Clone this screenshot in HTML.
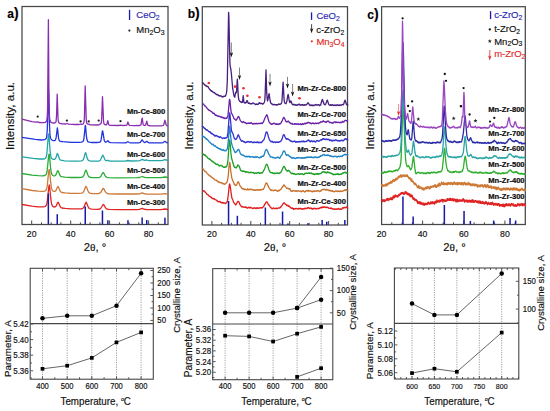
<!DOCTYPE html>
<html><head><meta charset="utf-8"><style>
html,body{margin:0;padding:0;background:#fff;}
body{width:550px;height:411px;overflow:hidden;}
svg{display:block;font-family:"Liberation Sans", sans-serif;}
</style></head><body>
<svg width="550" height="411" viewBox="0 0 550 411">
<rect width="550" height="411" fill="#fff"/>
<rect x="22" y="6.5" width="146" height="218.0" fill="none" stroke="#474747" stroke-width="1.25"/>
<line x1="31.7" y1="224.5" x2="31.7" y2="220.5" stroke="#474747" stroke-width="1" />
<text x="0" y="0" font-size="8.7" text-anchor="middle" fill="#111" stroke="#111" stroke-width="0.16" transform="translate(31.7 236.7) scale(1 1.1)">20</text>
<line x1="41.5" y1="224.5" x2="41.5" y2="222.3" stroke="#474747" stroke-width="1" />
<line x1="51.2" y1="224.5" x2="51.2" y2="222.3" stroke="#474747" stroke-width="1" />
<line x1="60.9" y1="224.5" x2="60.9" y2="222.3" stroke="#474747" stroke-width="1" />
<line x1="70.7" y1="224.5" x2="70.7" y2="220.5" stroke="#474747" stroke-width="1" />
<text x="0" y="0" font-size="8.7" text-anchor="middle" fill="#111" stroke="#111" stroke-width="0.16" transform="translate(70.7 236.7) scale(1 1.1)">40</text>
<line x1="80.4" y1="224.5" x2="80.4" y2="222.3" stroke="#474747" stroke-width="1" />
<line x1="90.1" y1="224.5" x2="90.1" y2="222.3" stroke="#474747" stroke-width="1" />
<line x1="99.9" y1="224.5" x2="99.9" y2="222.3" stroke="#474747" stroke-width="1" />
<line x1="109.6" y1="224.5" x2="109.6" y2="220.5" stroke="#474747" stroke-width="1" />
<text x="0" y="0" font-size="8.7" text-anchor="middle" fill="#111" stroke="#111" stroke-width="0.16" transform="translate(109.6 236.7) scale(1 1.1)">60</text>
<line x1="119.4" y1="224.5" x2="119.4" y2="222.3" stroke="#474747" stroke-width="1" />
<line x1="129.1" y1="224.5" x2="129.1" y2="222.3" stroke="#474747" stroke-width="1" />
<line x1="138.8" y1="224.5" x2="138.8" y2="222.3" stroke="#474747" stroke-width="1" />
<line x1="148.6" y1="224.5" x2="148.6" y2="220.5" stroke="#474747" stroke-width="1" />
<text x="0" y="0" font-size="8.7" text-anchor="middle" fill="#111" stroke="#111" stroke-width="0.16" transform="translate(148.6 236.7) scale(1 1.1)">80</text>
<line x1="158.3" y1="224.5" x2="158.3" y2="222.3" stroke="#474747" stroke-width="1" />
<text x="7.2" y="17.9" font-size="12" text-anchor="start" font-weight="bold" fill="#000"  stroke="#000" stroke-width="0.16">a<tspan font-size="14">)</tspan></text>
<path d="M22 204.5 31.9 206.1 37.9 206.8 43 206.9 44.6 206.6 45.6 206.2 46.5 204.9 47.2 202 48.8 187 49.3 184.8 49.6 186.4 50.8 198.7 51.5 203.5 51.9 204.9 52.5 206 53.1 206.6 54 207 55 206.9 55.8 206.4 56.5 205.3 57.6 202.7 58.1 202.3 58.5 202.7 60.3 206.8 61 207.6 62 208 65.1 208.4 71 208.8 78 208.9 81.6 208.8 82.8 208.4 83.7 207.5 84.4 206.1 85.6 203 86.1 202.3 86.6 202.9 88 206.5 88.9 208.1 90.1 208.8 92.2 209.2 97.3 209.3 99.8 209 101 208 102.8 205 103.4 204.5 103.9 204.9 105.3 207.5 106.2 208.6 107.3 209.2 108.9 209.4 117.4 209.6 137.2 209.6 139.4 209.3 142.2 208.3 144.7 209.3 146.6 209.5 161.1 209.6 164.9 209 168 209.5" fill="none" stroke="#e02424" stroke-width="1.3" stroke-linejoin="round"/>
<path d="M22 188.7 32.2 190.5 38.4 191.2 43.1 191.3 44.6 191.1 45.5 190.7 46.5 189.3 47.2 186.4 48.7 171.3 49.2 169.3 49.6 171 50.7 182.7 51.4 187.7 51.8 189.2 52.3 190.4 52.9 191 53.9 191.4 54.9 191.4 55.7 190.8 56.3 189.8 57.5 187 58 186.5 58.4 187.1 60.2 191.2 60.9 192 61.9 192.5 65 192.9 70.9 193.3 77.8 193.4 81.4 193.2 82.7 192.8 83.5 191.9 84.2 190.5 85.5 187 86 186.4 86.5 186.9 87.9 190.8 88.7 192.3 89.8 193.1 91.8 193.5 97.2 193.7 98.7 193.5 99.7 193.2 101 192.1 102.7 188.9 103.2 188.4 103.9 188.9 105.3 191.7 106.1 192.8 107.2 193.5 108.8 193.8 117.2 194 137.2 194 139.4 193.8 142.2 192.8 144.7 193.8 146.6 194 161.1 194.1 164.9 193.6 168 194.1" fill="none" stroke="#cd7a3a" stroke-width="1.3" stroke-linejoin="round"/>
<path d="M22 173.5 32 175.1 38.3 175.7 43.1 175.8 44.6 175.5 45.5 175.1 46.1 174.5 46.5 173.7 47.1 171.2 48.6 156.1 49 154.1 49.3 154.5 49.5 156.1 50.6 167.9 51.3 172.5 51.7 173.9 52.2 174.9 52.8 175.5 53.8 175.8 54.9 175.8 55.6 175.2 56.3 173.9 57.4 171.1 57.9 170.6 58.4 171.3 60 175.4 60.7 176.3 61.6 176.7 64.8 177.1 70.9 177.5 77.9 177.5 81.5 177.3 82.7 176.9 83.5 176 84.2 174.4 85.4 170.9 85.9 170.2 86.4 170.8 87.7 174.8 88.6 176.4 89.7 177.2 91.6 177.6 97.1 177.7 98.7 177.6 99.7 177.3 100.9 176.3 102.6 173 103.2 172.5 103.7 173 105 175.6 105.9 176.8 106.9 177.4 108.6 177.7 116.9 177.8 137.2 177.7 139.4 177.5 142.2 176.5 144.7 177.4 146.6 177.6 161.1 177.6 164.9 177 168 177.5" fill="none" stroke="#2aac36" stroke-width="1.3" stroke-linejoin="round"/>
<path d="M22 156.8 33.1 158.4 39.6 159 43.4 159 44.6 158.8 45.4 158.3 46.3 156.9 46.9 153.7 48.2 136.8 48.6 134 49 136 50 150.1 50.7 155.4 51 157.1 51.5 158.2 52.2 158.9 53.3 159.3 54.6 159.3 55.4 158.7 56 157.5 57.1 154 57.5 153.5 57.9 154.2 59.4 158.8 60.1 159.8 61 160.2 64.5 160.8 71 161.2 77.9 161.2 81.5 160.9 82.6 160.4 83.4 159.4 84 157.7 85.1 153.3 85.6 152.6 85.9 153.2 87.1 157.8 87.9 159.8 88.9 160.7 90.8 161.1 96.7 161.2 98.6 161.1 99.6 160.8 100.2 160.3 100.7 159.6 102.3 155.8 102.8 155.2 103.3 155.8 104.7 159.3 105.5 160.3 106.3 160.6 107.9 160.3 109.5 161 110.5 161.2 124.3 161.1 125.9 161 127.9 160.5 130.9 161 137.7 160.9 139.7 160.6 142.2 159.3 144.5 160.3 146.8 160 148.6 160.6 150 160.7 161.2 160.6 162.7 160.4 164.9 159.7 168 160.5" fill="none" stroke="#22a6a6" stroke-width="1.3" stroke-linejoin="round"/>
<path d="M22 137.4 35.3 139.3 41.5 140 43.3 139.9 44.6 139.7 45.5 139.2 46.1 138.4 46.5 137.4 46.8 135.7 47.3 129.1 48.5 88.9 49.4 122.8 49.9 133.5 50.2 136.5 50.6 138.2 51.3 139.5 52.4 140.3 53.5 140.6 54.6 140.6 55.2 140.3 55.6 139.6 56.2 137.2 57.3 128 57.6 129.4 58.6 138.6 59.1 140.2 59.8 141.1 61 141.5 63 141.7 71.1 142.3 79.2 142.3 81.2 142.1 82.4 141.8 83 141.4 83.4 140.9 83.9 138.8 85.3 125.4 85.6 126.9 86.4 136.1 87 139.8 87.7 141.4 88.3 141.9 89.2 142.2 92.1 142.5 96.8 142.5 99 142.3 100.2 141.9 100.7 141.1 101.2 139.4 102.3 131.6 102.6 130.8 102.9 131.9 104.2 140.2 104.8 141.6 105.6 142.1 106.6 141.9 107.8 140.6 109.3 142.3 110.9 142.7 125.3 142.8 126.4 142.5 127.9 141.7 129.3 142.5 130.3 142.8 138.5 142.8 139.6 142.6 140.3 142.3 141.8 140.1 142.2 139.9 143.6 142 144.6 142.5 145.4 142.3 146.8 141.3 148.2 142.4 149.3 142.8 161.8 142.9 163.2 142.6 164.9 141.3 166.6 142.6 168 142.9" fill="none" stroke="#2233e0" stroke-width="1.3" stroke-linejoin="round"/>
<path d="M22 119.1 31.8 121.6 36.3 122.2 37.8 121.8 39 122.5 41.4 122.7 43.7 122.7 45.2 122.4 46.1 121.6 46.8 120.2 47.3 116.3 47.6 106.9 48.4 19.6 48.9 91.6 49.3 111.9 49.5 116.9 49.8 119.4 50.3 121.1 51 122.3 52.6 123 54.6 123 55.6 122.4 56.1 121.2 56.6 114.7 57.2 94.2 58 118.2 58.3 121.3 58.9 122.8 59.9 123.4 62 123.8 65.8 124 67.2 123.5 68.7 124.2 75.5 124.5 79.2 124.5 80.6 124 81.9 124.3 82.7 124.1 83.3 123.7 83.7 123.1 84 122 84.4 117.7 85.2 85.9 86.2 119.1 86.6 122.7 87 123.5 87.7 124.1 88.8 124.1 89.8 124.7 90.8 124.8 97.5 125 99.1 124.8 100 124.1 100.7 123.9 101 123.5 101.4 122 101.7 118.2 102.5 96.7 103.5 120.6 103.9 123.5 104.3 124.2 105 124.7 106.2 124.9 106.8 124.5 107.8 120.7 108.8 124.6 109.2 125 110 125.3 119 125.5 119.7 125.4 120.8 125.1 122.2 125.5 126.1 125.4 126.7 125.2 127 124.8 127.9 122 128.9 124.8 129.6 125.4 134.3 125.7 139.8 125.5 140.6 125.2 141.1 124.4 141.9 118.8 142.2 118.2 143.1 124.2 143.4 124.9 144 125.3 145 125.4 145.6 125.1 146.8 121.2 147.7 124.8 148 125.3 148.5 125.5 150.4 125.8 155.9 125.9 160.9 125.8 162.8 125.7 163.4 125.3 163.8 124.6 164.9 120.2 166.2 125 166.8 125.6 168 125.9" fill="none" stroke="#8a2db0" stroke-width="1.3" stroke-linejoin="round"/>
<rect x="47.6" y="193.5" width="1.5" height="31" fill="#1a1aa8"/>
<rect x="56.5" y="214.2" width="1.5" height="10.3" fill="#1a1aa8"/>
<rect x="84.5" y="206.5" width="1.5" height="18" fill="#1a1aa8"/>
<rect x="101.7" y="210.5" width="1.5" height="14" fill="#1a1aa8"/>
<rect x="107.1" y="220.2" width="1.5" height="4.3" fill="#1a1aa8"/>
<rect x="127.2" y="220.2" width="1.5" height="4.3" fill="#1a1aa8"/>
<rect x="141.4" y="217.5" width="1.5" height="7" fill="#1a1aa8"/>
<rect x="146" y="220" width="1.5" height="4.5" fill="#1a1aa8"/>
<rect x="164.2" y="217.7" width="1.5" height="6.8" fill="#1a1aa8"/>
<circle cx="37.7" cy="116.6" r="1.15" fill="#222"/>
<circle cx="66.9" cy="120.6" r="1.15" fill="#222"/>
<circle cx="80.6" cy="121.4" r="1.15" fill="#222"/>
<circle cx="88.7" cy="121.4" r="1.15" fill="#222"/>
<circle cx="98.7" cy="120.6" r="1.15" fill="#222"/>
<circle cx="120.5" cy="121.2" r="1.15" fill="#222"/>
<text x="165.3" y="114" font-size="7.6" text-anchor="end" font-weight="bold" fill="#111" stroke="#111" stroke-width="0.22">Mn-Ce-800</text>
<text x="165.3" y="137.3" font-size="7.6" text-anchor="end" font-weight="bold" fill="#111" stroke="#111" stroke-width="0.22">Mn-Ce-700</text>
<text x="165.3" y="156.5" font-size="7.6" text-anchor="end" font-weight="bold" fill="#111" stroke="#111" stroke-width="0.22">Mn-Ce-600</text>
<text x="165.3" y="172.9" font-size="7.6" text-anchor="end" font-weight="bold" fill="#111" stroke="#111" stroke-width="0.22">Mn-Ce-500</text>
<text x="165.3" y="188.9" font-size="7.6" text-anchor="end" font-weight="bold" fill="#111" stroke="#111" stroke-width="0.22">Mn-Ce-400</text>
<text x="165.3" y="205" font-size="7.6" text-anchor="end" font-weight="bold" fill="#111" stroke="#111" stroke-width="0.22">Mn-Ce-300</text>
<rect x="128.9" y="9.8" width="1.3" height="10.2" fill="#1a1aa8"/>
<text x="0" y="0" font-size="9.5" text-anchor="start" fill="#2a2ab0" stroke="#2a2ab0" stroke-width="0.16" transform="translate(136.3 17.9) scale(1 0.95)">CeO<tspan font-size="6.8" dy="1.7">2</tspan></text>
<circle cx="129.4" cy="30.6" r="1.1" fill="#222"/>
<text x="0" y="0" font-size="9.5" text-anchor="start" fill="#111" stroke="#111" stroke-width="0.16" transform="translate(136.3 32.9) scale(1 0.95)">Mn<tspan font-size="6.8" dy="1.7">2</tspan><tspan dy="-1.7">O</tspan><tspan font-size="6.8" dy="1.7">3</tspan></text>
<rect x="202.3" y="6.7" width="145.2" height="218.3" fill="none" stroke="#474747" stroke-width="1.25"/>
<line x1="211.9" y1="225" x2="211.9" y2="221" stroke="#474747" stroke-width="1" />
<text x="0" y="0" font-size="8.7" text-anchor="middle" fill="#111" stroke="#111" stroke-width="0.16" transform="translate(211.9 237.2) scale(1 1.1)">20</text>
<line x1="221.6" y1="225" x2="221.6" y2="222.8" stroke="#474747" stroke-width="1" />
<line x1="231.4" y1="225" x2="231.4" y2="222.8" stroke="#474747" stroke-width="1" />
<line x1="241.1" y1="225" x2="241.1" y2="222.8" stroke="#474747" stroke-width="1" />
<line x1="250.8" y1="225" x2="250.8" y2="221" stroke="#474747" stroke-width="1" />
<text x="0" y="0" font-size="8.7" text-anchor="middle" fill="#111" stroke="#111" stroke-width="0.16" transform="translate(250.8 237.2) scale(1 1.1)">40</text>
<line x1="260.5" y1="225" x2="260.5" y2="222.8" stroke="#474747" stroke-width="1" />
<line x1="270.2" y1="225" x2="270.2" y2="222.8" stroke="#474747" stroke-width="1" />
<line x1="280" y1="225" x2="280" y2="222.8" stroke="#474747" stroke-width="1" />
<line x1="289.7" y1="225" x2="289.7" y2="221" stroke="#474747" stroke-width="1" />
<text x="0" y="0" font-size="8.7" text-anchor="middle" fill="#111" stroke="#111" stroke-width="0.16" transform="translate(289.7 237.2) scale(1 1.1)">60</text>
<line x1="299.4" y1="225" x2="299.4" y2="222.8" stroke="#474747" stroke-width="1" />
<line x1="309.1" y1="225" x2="309.1" y2="222.8" stroke="#474747" stroke-width="1" />
<line x1="318.8" y1="225" x2="318.8" y2="222.8" stroke="#474747" stroke-width="1" />
<line x1="328.6" y1="225" x2="328.6" y2="221" stroke="#474747" stroke-width="1" />
<text x="0" y="0" font-size="8.7" text-anchor="middle" fill="#111" stroke="#111" stroke-width="0.16" transform="translate(328.6 237.2) scale(1 1.1)">80</text>
<line x1="338.3" y1="225" x2="338.3" y2="222.8" stroke="#474747" stroke-width="1" />
<text x="187.7" y="18.2" font-size="12" text-anchor="start" font-weight="bold" fill="#000"  stroke="#000" stroke-width="0.16">b<tspan font-size="14">)</tspan></text>
<path d="M202.2 190.1 202.7 190.3 202.7 190.5 203.4 190.7 203.6 191.1 203.7 190.8 203.8 191 204 190.9 204.5 191.5 204.6 191.3 204.7 191.6 204.8 191.5 205 192 205.2 191.9 205.3 192.3 205.9 192.7 206.6 194 206.9 194.2 206.9 194 207 194.3 207.6 194.5 207.7 194.7 208 194.5 208 194.9 208.5 195.2 209.1 196.1 209.4 196.2 209.9 196.6 210 196.5 210.4 197 210.5 196.9 210.8 196.9 211 197.3 211.2 197.2 212 198.3 212.2 198.2 212.4 198.6 212.5 198.4 213.1 198.4 213.5 198.9 213.7 198.7 213.8 198.9 213.9 198.7 214 199 214.3 198.8 214.6 199.3 214.8 199.1 215.3 199.6 216 199.8 216.3 200.4 216.4 200.2 216.7 200.7 216.9 200.5 217.1 200.7 217.2 200.6 217.3 200.9 217.7 201.1 217.8 201.5 217.8 201.3 217.9 201.6 218.1 201.4 218.3 201.7 218.4 201.5 218.5 201.8 218.6 201.6 218.8 201.8 219.2 201.6 219.4 201.7 219.5 201.5 219.7 201.4 219.9 201.7 220 201.5 220.9 202.5 221.1 202.4 221.2 202.7 221.3 202.5 221.5 202.8 221.6 202.6 222.1 202.8 222.5 202.5 222.6 202.8 222.7 202.6 223 203 223.2 202.7 223.5 203 223.7 202.8 223.8 203.1 223.9 202.7 224 203 224.4 202.9 224.5 203.2 224.8 203.1 225 203.4 225.5 203.6 226.1 202.8 226.2 202.9 226.8 202.5 227.5 200.6 228.2 195.8 229.3 184.8 229.7 183.9 230.1 185.5 231.7 197.1 232.1 198.7 232.7 199.4 233.5 202.1 234.2 203.2 234.2 203.1 234.6 203.7 234.7 203.5 235.5 204.8 235.8 204.9 237.5 201.9 237.9 201.4 238 201.6 238 201.4 238.5 201.3 239.2 202.4 239.4 203.4 240.3 205.1 240.5 205.4 240.6 205.3 241.2 206.4 241.5 206.7 241.5 206.6 241.6 206.9 241.9 207 242 206.6 242.3 206.7 242.4 206.5 242.5 206.8 242.6 206.6 242.6 206.8 243.1 206.9 243.3 207.2 243.6 207 243.6 207.2 244.2 207.1 244.3 207.4 244.7 207 245.1 207.2 245.2 207 245.4 207 245.4 207.3 245.5 207 245.9 207.4 246 207.2 246.1 207.4 246.3 207.5 246.4 207.3 246.9 208 247.1 207.7 247.4 208.1 247.5 207.9 247.6 208.1 248.1 207.8 248.4 207.3 248.6 207.4 248.7 207.2 248.8 207.5 249 207.3 249.8 208.1 249.9 207.7 250.1 207.8 250.6 207.2 251.2 207.8 251.7 207.8 251.8 208.1 252.2 208.1 252.4 208.5 252.5 208.3 252.7 208.5 252.9 208.2 253.2 208.4 253.4 208.1 253.6 208.3 253.8 208 253.9 208.2 254 207.9 254.2 208 254.7 207.9 254.8 208.1 254.9 207.9 255.1 208.1 255.3 208 255.5 208.5 255.6 208.3 255.9 208.6 256 208.4 256.1 208.6 256.2 208.5 256.9 207.8 256.9 208.1 257.4 208 257.6 208.2 257.6 208 257.7 208.3 257.9 208.1 258 208.3 258.1 208.1 258.3 208.3 258.7 208.1 259.4 208.1 259.7 207.9 259.7 208 259.8 207.7 260.1 207.9 260.2 207.6 260.5 207.9 260.9 208 261 207.7 261.1 207.9 261.1 207.7 261.2 207.9 261.7 207.7 262.1 208 263.6 206.6 265 203.7 265.2 203.9 266 202.2 266.4 202 266.4 202.2 266.5 201.8 266.7 202.1 267 202 267.1 202.4 267.3 202.2 268.5 204.8 268.7 204.6 268.8 205 269.2 205.1 269.2 205.5 269.3 205.2 270.2 207 270.6 207.3 270.8 207.6 270.9 207.3 271 207.8 271.3 207.8 272.1 208.8 272.7 208.5 272.7 208.3 272.8 208.4 273 208.1 273.3 208 273.4 208.1 273.5 207.9 274.4 208.7 275.1 208.4 275.3 208.7 275.4 208.4 275.7 208.5 275.9 208.2 276.5 208.4 276.7 208.3 276.8 208.7 276.9 208.3 277.1 208.6 277.4 208.6 277.5 208.4 277.6 208.5 278.1 208.1 278.6 208.1 278.7 207.9 278.8 208 279 207.9 279.3 208.1 279.6 207.9 279.9 207.9 280 207.4 280.3 207.2 280.3 207.4 280.5 207 280.7 207.2 281.1 206.8 281.5 205.9 282.4 205 283.1 203.6 283.1 203.7 283.3 203.2 284 202.8 284.2 203.1 284.3 202.8 285.5 204.3 285.6 204.1 285.8 204.2 285.9 204.5 285.9 204.3 286.8 205.6 286.9 205.3 287.2 205.7 287.4 205.4 287.5 205.6 287.8 205.1 288 205.6 288.3 205.6 288.4 206.1 288.7 205.9 288.8 206.4 289.1 206 289.2 206.3 289.3 206.1 289.9 207.1 290.5 207.3 290.7 207.7 290.8 207.5 291.2 208.2 291.3 208.1 291.5 208.3 291.6 208.2 291.9 208.4 292.1 208.3 292.2 208.1 292.3 208.2 292.5 207.9 292.7 208.3 292.8 208 292.9 208.5 292.9 208.3 293.4 209 293.6 208.8 293.6 209.4 293.9 209 294 209.2 294.1 209.2 294.4 208.7 294.6 208.8 294.8 208.7 294.9 208.9 295.2 208.6 295.4 208.7 295.4 208.5 295.7 208.8 295.8 208.6 296.1 208.5 296.3 208.8 296.4 208.5 296.6 208.5 297.6 209 297.7 208.8 298 208.9 298.2 208.7 298.2 208.8 298.3 208.5 298.4 208.8 298.5 208.4 298.6 209 298.8 208.6 299 208.7 299.1 208.5 299.4 208.7 299.5 208.6 299.6 208.8 299.8 208.4 299.9 208.7 300 208.5 300.1 208.6 300.3 208.4 300.8 208.4 301.1 209 301.3 208.9 301.8 209.1 302 208.8 302.1 209.1 302.5 208.9 302.7 209.3 302.7 208.9 302.9 209.2 303.1 209.2 303.8 208.6 303.9 208.9 304.5 208.4 304.6 208.9 304.7 208.4 304.8 208.7 304.9 208.6 305 208.7 305.1 208.5 305.2 208.7 305.5 208.5 305.6 208.6 305.7 208.4 305.8 208.6 305.9 208.4 305.9 208.6 306.1 208.2 306.4 208.6 306.5 208.3 306.6 208.5 306.9 208.2 307.1 208.3 307.5 208 307.6 208.2 307.7 207.9 307.9 208 308.3 207.5 308.4 207.7 308.5 207.6 308.8 207.7 308.9 208 309 207.8 309.7 208.5 310.1 208.4 310.1 208.3 310.2 208.4 310.3 208.1 310.4 208.3 310.5 208.1 311 208.3 311.1 208 312 209.1 312.3 209 312.5 209.1 313 208.4 313.2 208.7 313.2 208.4 313.4 208.4 313.7 208.8 314.1 208.5 314.3 208.6 314.4 208.3 314.5 208.6 315 208.2 315.4 208.5 315.6 208.8 315.7 208.7 315.7 209 315.9 208.9 316 209 316.1 208.8 316.5 208.8 316.6 208.6 316.7 208.8 316.7 208.6 317.3 208.7 317.4 208.5 317.7 208.6 317.8 208.3 317.8 208.6 318 208.5 318.1 208.7 318.7 208.8 319.2 208.3 319.2 208.4 319.4 208.3 319.5 208.1 319.6 208.3 319.9 207.9 319.9 208.2 320 208 320.1 208.1 320.2 207.8 320.2 208 320.5 207.6 320.6 207.8 320.9 207.3 321.1 207.6 321.3 207.2 321.3 207.5 321.6 207.7 321.9 207.5 322 207.7 322 207.6 322.1 207.8 322.6 207 322.7 207.2 322.8 207 323 207.2 323.1 207 323.5 207.2 323.7 207 323.8 207.2 324.1 207 324.2 207.2 324.4 206.9 324.4 207.2 324.7 207 325 207.2 325.1 206.9 325.1 207.2 325.2 207.1 325.4 207.3 325.5 207.2 325.6 207.5 325.7 207.3 325.9 207.6 326.1 207.5 326.2 207.6 326.3 207.4 326.5 207.6 326.6 207.4 326.7 207.6 327 207.2 327.1 207.4 327.5 207.3 327.6 207.4 327.7 207.2 328.9 208.3 329.1 208.1 329.2 208.3 330 208.4 330.1 208.3 330.2 208.5 330.5 208.3 330.6 208.5 330.7 208.1 331 208.4 331.2 208.1 331.4 208.4 331.5 208.2 331.9 208.6 332 208.5 332.1 208.9 332.3 208.9 332.4 209.2 332.6 209.2 332.7 209 333.1 209.1 333.5 208.8 333.9 208.9 334 209.1 334.2 209 334.3 209.2 334.5 209.1 334.7 209.2 334.8 209.1 334.9 209.3 334.9 209.1 335.2 209.3 335.2 209.1 335.5 209.3 335.7 209 335.8 209.2 336.2 209.1 336.3 209.2 336.4 208.9 336.6 209 336.9 208.8 337.7 209.2 338.4 208.5 338.7 209 339.1 209.1 339.3 209 339.4 209.3 339.5 209 339.8 209.2 340.1 209 340.4 209.4 340.5 209 340.7 209.3 341.2 209.3 341.2 209.4 341.5 209.1 341.6 209.2 341.7 208.9 341.9 208.9 342.1 208.4 342.2 208.5 342.4 207.9 342.6 208.1 342.9 207.7 343.1 207.8 343.2 207.7 343.3 208.1 343.4 207.9 343.6 208.1 343.7 207.8 343.8 208.1 344 207.9 344 208 344.3 207.4 344.7 207.4 344.7 207.6 345.2 207.5 345.3 207.8 345.5 207.5 345.7 207.8 346.3 207.1 346.4 207.2 346.7 207 346.8 207.3 346.8 207 346.9 207.3 347.1 207.2 347.7 208.2 347.8 208.1 347.8 208.3 347.9 208.2 348 208.5" fill="none" stroke="#e02020" stroke-width="1.3" stroke-linejoin="round"/>
<path d="M202.2 168.4 202.4 168.1 202.5 168.4 202.6 168.2 202.7 168.6 203.1 168.8 203.5 169.6 204.1 170.2 204.8 171.5 205.7 171.5 205.9 172.1 206.2 171.9 206.5 172.6 207.1 173.3 207.3 173.8 208.7 174.7 208.7 175 209.4 175.7 210.5 176.2 210.7 176.6 210.8 176.5 210.9 176.7 211 176.5 211.2 177.1 211.8 177.2 212.9 178.3 213.2 178.4 213.2 178.6 213.4 178.4 213.8 178.8 213.9 178.6 214.8 180 215 180 215 179.9 215.4 180.2 215.8 180.1 216.7 180.6 216.8 180.4 216.9 180.8 217.1 180.7 217.2 180.9 217.3 181.2 217.4 181 217.7 181.6 217.8 181.3 217.9 181.6 218.1 181.5 218.3 182 218.4 181.7 218.6 182.2 218.8 182 219.1 182.2 219.2 182.1 219.3 182.5 219.4 182.3 219.5 182.5 219.6 182.4 220 182.7 220.3 182.5 220.6 182.7 220.8 182.6 221.3 183 221.8 182.7 222.7 183.8 222.8 183.5 222.9 183.8 223.1 183.4 223.2 183.8 223.5 183.8 223.7 183.6 223.9 183.8 224.1 183.6 224.4 184 224.6 184 224.7 184.3 224.8 184.1 224.9 184.3 225.3 184 226.1 182.8 226.6 182.9 227.4 181 228.2 176.3 229.2 164.9 229.6 162.3 229.8 162.5 230.2 164.9 230.7 170.5 231.7 177.4 232.3 179.6 233.5 182.2 234.2 184.3 234.7 184.7 234.8 184.5 234.9 184.9 235.2 184.8 235.3 185.2 235.9 185.6 236.6 185 237.8 182.1 238 182.2 238 181.9 238.3 182.1 238.4 181.9 239.1 183.1 239.7 185 240.5 186.7 240.9 186.9 241.1 187.3 241.2 187.1 242.1 188.7 242.2 188.4 242.7 188.8 243 188.7 243.3 189 243.6 188.8 243.9 189.3 244.3 189.3 244.3 189.5 244.8 189.3 244.9 189.5 245 189.3 245.1 189.5 245.6 189.2 245.7 189.6 245.7 189.3 245.8 189.5 246 189.4 246.3 189.7 246.5 189.6 247.1 189.8 247.4 189.3 247.5 189.4 247.6 189 247.8 189.2 247.8 189 247.9 189.4 248 189 248.2 189.6 248.8 189.9 248.9 189.6 249.1 189.5 249.2 189.7 249.3 189.4 249.8 189.6 250.3 189.3 250.6 189.6 250.8 189.2 251 189.4 251.2 189.2 251.6 189.6 251.9 189.4 252 189.7 252 189.6 252.3 189.8 252.7 189.7 253 190.1 253.9 189.6 254.1 190 254.2 189.9 254.7 190.4 255 190.4 255.1 190.1 255.2 190.3 255.6 190 255.8 190.3 255.9 189.9 256.1 190.1 256.2 189.9 256.3 190.1 256.5 189.8 257.1 190 257.3 189.7 257.3 189.9 257.4 189.7 257.8 189.9 257.9 189.6 258 190 258.1 189.8 258.3 190.1 258.4 189.8 258.8 190.1 259.4 190 259.4 190.3 259.6 190 259.7 190.2 260.1 189.9 260.3 190.1 260.4 189.6 260.5 189.8 260.7 189.6 260.8 189.9 260.8 189.6 260.9 189.9 261.1 189.7 261.6 189.8 261.8 189.5 262.2 189.3 262.5 189.4 262.5 189.6 262.6 189.4 262.7 189.7 263 189.1 263.2 189.4 263.3 189.1 263.4 189.3 264.4 187.2 265.6 183.9 266.1 183.1 266.4 183.3 266.4 183 266.8 183.1 269.2 188.1 269.2 188 269.7 188.8 270 189 270.4 189.9 270.9 190.3 270.9 190.2 271.1 190.5 271.4 190 271.5 190.3 271.6 190.1 271.8 190.4 271.9 190 272.3 190.4 273.1 190.4 273.4 190.7 273.5 190.5 273.7 190.8 274.8 190.1 275 190.3 275.3 190.1 275.4 190.3 275.6 190.2 275.8 190.3 276.3 190.1 277 191 277.2 190.9 277.5 191.5 277.5 191.2 277.8 191.4 278.3 190.5 278.5 190.6 278.6 190.4 278.9 190.7 279.2 190.5 279.4 190.6 279.6 190.4 279.7 190.5 279.8 190.1 280.3 189.8 280.3 189.4 280.8 189.3 281.3 188.9 282.2 187 282.3 187.2 282.7 186.6 282.8 186.8 282.8 186.4 283.3 186.1 283.4 185.6 283.8 184.9 284.3 185.1 284.9 186.3 284.9 186.2 285.2 186.6 285.6 186.8 286.6 188.1 286.6 187.8 286.9 188.3 287 188.1 287.2 188.5 287.3 188.3 287.3 188.4 287.5 188.2 287.7 188.4 288 188.3 288.2 188.6 288.4 188.5 288.6 188.8 288.7 188.6 288.9 188.8 289 189.1 289.1 188.7 289.1 189 289.3 188.9 289.5 189.2 289.7 188.8 289.8 189.2 290 188.9 290.8 190.9 291 190.8 291.5 191.3 292 191.2 292.4 191.4 293 190.7 293.3 190.8 293.3 190.6 293.4 190.8 293.5 190.6 293.6 190.8 293.9 190.6 294.3 191 294.8 190.8 295.2 191.1 295.4 190.8 295.8 191.3 296.1 191.3 296.1 191.4 296.2 191.2 296.4 191.4 296.7 191 296.8 191.1 296.9 190.9 297.1 191.1 297.4 190.9 297.5 191.1 297.8 190.7 298.2 190.8 298.4 190.6 298.9 191.2 299.4 191.1 299.7 191.3 299.9 191 300.1 191.2 300.5 191 301 191.2 301.2 191.6 301.3 191.3 301.4 191.9 302 191.2 302.1 191.4 302.3 190.9 302.6 190.9 302.7 190.7 302.8 190.9 303.1 190.8 303.3 190.9 303.4 190.8 303.8 191.3 303.9 191.1 304.5 192 304.8 191.7 304.9 191.9 305.2 191.5 305.3 191.7 305.7 191.1 306.1 191 306.2 190.6 306.2 190.9 306.6 190.6 306.8 190.8 306.9 190.7 307 190.9 307.1 190.7 307.2 191 307.3 190.8 307.5 191.1 307.6 190.7 307.6 191 307.7 190.8 307.8 190.9 308 190.5 308.2 190.7 308.5 190.4 308.7 190.6 308.8 190.5 309 191.2 309.5 190.9 309.6 191.2 309.7 191 309.9 191.1 310.1 190.9 310.4 191 310.5 190.9 311 191.3 311.2 191.2 311.6 191.6 311.7 191.4 312.1 191.5 312.2 191.7 312.4 191.5 312.5 191.7 312.7 191.2 312.9 191.4 313.2 190.9 313.2 191.2 313.8 191.4 313.9 191.7 313.9 191.4 314 191.5 314.2 191.2 314.6 191.3 314.8 190.8 314.9 191.1 315.2 190.9 315.3 191.2 315.5 191 316.2 191.4 316.4 190.9 316.6 191.2 317.2 190.9 317.4 190.6 317.4 190.8 317.5 190.6 317.8 190.8 318.1 190.5 318.1 190.8 318.5 190.6 318.5 191 318.9 191.2 319 191.1 319.3 191.6 319.5 191.3 319.7 191.5 320 191.2 320.2 191.3 320.6 190.8 320.7 191 321.1 190.5 321.3 190.7 322.1 189.5 322.3 189.5 322.4 189.7 322.5 189.6 322.7 189.7 322.8 189.6 322.9 189.7 323.2 189.5 323.4 189.6 324.3 189.2 324.4 189.5 324.5 189.3 324.7 189.6 324.7 189.5 325.1 189.6 325.2 189.9 325.3 189.7 325.4 190 325.4 189.7 325.6 189.9 325.8 189.7 326.1 190 326.5 189.5 326.5 189.7 326.8 189.5 326.9 189.8 327.1 189.6 327.4 190 327.6 189.9 327.7 190.1 328 189.9 328.2 190.1 328.2 189.9 328.3 190.2 328.4 190.1 328.6 190.1 328.6 190.6 328.9 190.4 328.9 190.6 329 190.3 329.2 190.7 329.3 190.5 329.4 190.6 329.5 190.4 330.1 190.8 330.3 190.5 330.4 190.8 330.7 190.7 330.8 191 330.9 190.9 331.1 191.1 331.4 191 331.4 191.2 331.7 190.9 332 191.1 332.4 190.9 332.5 191.3 332.6 190.9 332.8 191.2 333 191.1 333.2 191.5 333.5 191.4 333.8 191.7 333.9 191.5 334 191.7 334.3 191.5 334.6 191.7 335.4 190.9 335.8 191 336 190.9 336.6 191.3 337 191.1 337.3 191.3 337.3 191.5 337.4 191.3 337.6 191.4 337.7 191.2 337.8 191.5 338.4 191.2 338.7 191.2 338.7 191 338.9 191.4 339.1 191.2 339.6 191.6 339.7 191.3 339.8 191.5 339.9 191.4 340.1 191.5 340.2 191.2 340.4 191.5 340.7 191 341 191.3 341.1 191.1 341.2 191.3 341.3 191.1 341.9 191.6 342.2 191.3 342.6 191.2 343 190.6 343.3 190.8 343.4 190.5 343.5 190.8 343.6 190.6 343.9 190.7 344.1 190.2 344.2 190.3 344.4 190.1 344.6 190.3 344.7 190 344.9 190.3 345 190.2 345.3 190.3 345.5 190 345.8 190 345.9 189.7 346.4 190 346.7 189.9 346.8 190.3 346.8 189.9 347 190.3 347.1 190.2 347.8 190.6 347.9 190.4 348 190.6" fill="none" stroke="#c8722e" stroke-width="1.3" stroke-linejoin="round"/>
<path d="M202.2 153.7 202.4 153.7 202.4 153.5 202.7 153.9 202.8 153.6 202.9 153.8 203.4 154 204.1 155.1 204.2 154.9 204.4 155.2 204.6 155 204.7 155.2 204.9 154.9 205.7 156.1 206.1 156.1 206.2 156.4 206.2 156.1 206.6 156.3 206.6 156.7 207 156.9 207.2 157.4 207.4 157.3 208.1 158.5 208.2 158.4 208.6 158.8 208.9 158.7 209 158.5 209.5 159.1 209.6 158.9 209.7 159.4 210.1 159.2 210.3 159.6 210.6 159.7 211 160.6 211.2 160.5 211.5 161 211.7 160.8 211.8 161.1 212 161 212.1 161.4 212.6 161.8 212.9 161.4 213.1 161.8 213.2 161.7 213.3 161.9 213.4 161.8 213.9 162.7 213.9 162.6 214 162.8 214.2 162.7 214.3 163 214.7 163.4 214.9 163.1 215.3 163.7 215.5 163.5 216 164.2 216 164 216.2 164.2 216.3 164.1 216.6 164.5 216.9 164.2 217.2 164.4 217.3 164.1 217.5 164.4 217.8 164.3 217.8 164.5 218.1 164.5 218.4 165.3 219.2 165.6 219.2 165.8 219.3 165.5 219.5 165.9 219.6 165.7 219.7 166 220.5 165.4 220.7 165.5 220.9 165.3 221.1 165.7 221.3 165.5 221.3 165.7 221.4 165.5 221.5 165.7 222 165.7 222.2 166.4 222.4 166.1 222.9 166.9 223.3 167 223.4 167.2 223.7 167.3 223.8 167.1 224 167.3 224.1 167.1 224.4 167.3 224.4 167 224.7 167.2 224.8 167 224.9 167 225 167.3 225.1 167.1 225.3 167.2 225.5 167 225.5 167.1 225.6 167 226.2 167 227.1 165.4 227.9 161.2 229.1 143.7 229.6 139.8 230 141.6 230.9 152.9 231.5 157.8 233.9 166.2 234.1 166.1 234.5 167.3 234.9 167.3 234.9 167.6 235 167.2 235.2 167.5 235.5 167.5 235.6 167.8 235.8 167.6 235.9 167.9 236.3 167.9 237.4 165.9 237.7 164.9 238 165.2 238.3 165.2 239.4 166.7 240.6 170.3 240.7 170.4 240.8 170.1 241.2 170.8 241.4 170.8 241.5 171 241.5 170.8 241.7 171.1 241.9 170.9 242.2 171.5 242.4 171.5 243.1 171 243.2 171.2 243.3 171.1 243.7 171.2 244 171.4 244 171.1 244.2 171.4 244.3 171.3 244.6 171.4 244.7 171.2 245.1 171.9 245.4 171.7 245.4 172.2 245.7 172.1 245.8 172.3 245.9 172.2 246 172.3 246.1 171.8 246.2 172.1 246.8 171.7 247 172 247.7 171.9 248.4 172.6 248.5 172.3 248.7 172.6 249.2 172.5 249.7 172.8 249.8 172.6 250.3 172.6 250.6 172.3 250.7 172.5 250.8 172.3 251.4 172.5 251.5 172.3 251.6 172.6 251.8 172.5 251.9 172.6 252 172.6 252.1 172.9 252.3 172.7 252.7 172.9 252.8 172.6 253.1 172.8 253.3 172.5 253.4 172.8 253.5 172.7 253.7 172.9 253.8 172.7 253.8 173 254.5 173.6 255.4 172.8 255.9 172.9 256 173.2 256.1 172.9 256.5 173.5 256.6 173.3 257 173.2 257.3 172.8 257.5 172.8 257.6 172.6 257.6 172.9 257.9 172.6 258.2 172.7 258.3 172.5 258.3 172.8 258.5 172.5 258.7 172.8 259 172.8 259.2 173.2 259.3 172.9 259.6 173.2 259.7 173 260.3 173.1 260.4 172.9 261 172.8 261.1 173 261.2 172.8 261.4 173 261.5 172.8 261.8 172.9 262 172.7 262.1 173.1 262.6 172.6 263.2 171.2 263.3 171.3 264 169.8 264.2 169.9 266 164.9 266.7 164.2 267 164.6 267.1 164.4 267.8 166.3 269.2 170.6 270.3 172.4 270.6 172.4 270.6 172.6 270.7 172.3 271.3 172.7 271.7 172.7 271.9 173 272.1 172.8 272.2 173 272.3 172.8 272.4 173 272.5 172.8 272.6 172.9 272.8 172.8 273.1 173.2 273.2 173.1 273.6 173.5 273.7 173.3 273.9 173.5 274.1 173.3 274.1 173.6 274.3 173.2 274.8 173.5 274.8 173.2 275.1 173.6 275.2 173.3 275.3 173.4 275.5 173.2 276.1 173.2 276.4 173.4 276.6 173.1 276.7 173.2 277.2 172.9 277.5 173.2 277.6 173 278 173.4 278.2 173.1 278.7 173.5 279.1 173.2 279.3 173.5 279.6 173.1 279.6 173.2 280 173 280 172.7 280.1 172.9 280.3 172.6 280.4 172.7 280.6 172.6 281 171.9 281.1 172.1 283.1 167.4 283.8 166.4 284.1 166.6 284.2 166.4 286 170 286.2 169.9 286.7 170.7 286.9 170.7 287 170.5 287.1 171 287.2 170.7 287.5 171 287.6 170.7 287.7 170.9 287.8 170.6 288 170.9 288.2 170.4 288.3 170.6 288.5 170.5 288.6 170.8 288.7 170.5 289.3 170.8 289.9 172.1 290.3 172.2 291.4 173.6 291.6 173.4 291.8 173.5 291.9 173.3 291.9 173.5 292.2 173.3 292.2 173.5 292.3 173.3 292.4 173.6 292.6 173.5 292.6 173.7 292.8 173.6 292.9 173.9 292.9 173.7 293.1 174 293.2 173.7 293.3 174 293.9 173.7 294 173.9 294 173.6 294.8 174 295 173.9 295 174.4 295.7 174.4 295.9 174.6 296.1 174.3 296.3 174.4 296.4 174.2 296.5 174.4 297 174 297.2 174.2 298.1 173.8 298.2 174.1 298.3 173.9 298.6 174.1 298.8 173.9 298.9 174.2 298.9 174 299.2 174.3 299.7 173.9 299.9 174.2 300.3 173.9 300.5 174.1 300.7 173.8 300.8 174.1 300.9 173.9 301 174 301.1 173.8 301.2 174 301.7 174.1 302 173.9 302.3 174.1 302.5 173.9 303.1 174.2 303.2 174.6 303.4 174.3 303.4 174.6 304 174.2 304.1 174.4 304.8 173.5 304.8 173.6 305.2 173.5 305.3 173.6 305.4 173.4 305.5 173.6 305.7 173.6 305.9 173.3 305.9 173.5 306.6 173.1 307.4 173.5 307.5 173.4 308.4 173.2 308.7 172.8 308.9 173.1 309 172.8 309.5 173.4 309.7 173.2 309.7 173.3 310 173.2 310.1 173.5 310.1 173.2 310.7 173.1 311.1 173.4 311.5 173.1 311.6 173.5 311.9 173.3 312.2 173.8 312.3 173.6 312.9 174.2 313.1 174.1 313.2 174.3 313.6 173.7 313.7 174 313.9 173.9 313.9 174.1 314 173.9 314.6 174.6 314.7 174.3 314.8 174.5 315 174.3 315.1 174.5 315.6 174 316 174 316 174.2 316.2 173.9 316.6 173.9 316.7 174.1 316.8 173.9 317.2 173.9 317.3 173.5 317.5 174 317.7 173.7 317.8 174 317.9 173.8 318.1 174.1 318.3 173.9 318.4 174.3 318.5 173.9 318.6 173.9 318.7 174.1 319.2 173.6 319.2 173.9 319.4 173.8 319.6 173.9 319.9 173.7 320.3 173.8 320.8 173.4 320.9 173.2 320.9 173.4 321 173.1 321.1 173.2 321.3 173.1 321.4 172.7 321.5 172.9 321.8 172.6 322 172.2 322.3 172.4 322.8 171.8 322.9 172.1 323.1 171.8 323.3 172.1 323.7 171.6 324.2 171.8 324.6 172.3 324.7 172 325.1 172.6 325.7 172.2 325.9 172.2 326 172.5 326.1 172.3 326.1 172.6 326.3 172.5 326.5 172.9 326.6 172.7 326.8 173 326.8 172.6 326.9 172.8 327.5 172 327.5 172.2 327.6 171.9 328.1 172.2 328.3 172.6 328.4 172.4 328.5 172.6 328.8 172.7 328.9 172.5 329 172.7 329.1 172.4 329.2 172.7 329.3 172.5 329.6 172.6 330 173 330.2 172.9 330.3 173.2 330.7 173.3 330.9 173 332.1 174 332.1 173.6 332.4 174.1 332.4 173.9 332.6 174.2 332.8 174 333.1 174.5 333.5 174.3 333.6 174.6 333.8 174.4 334 174.7 334.1 174.3 334.2 174.6 334.3 174.3 334.5 174.6 334.6 174.5 335.1 174.6 335.2 174.4 335.2 174.6 335.6 174.1 335.7 174.3 336 174 336.3 174.3 336.4 174.1 336.8 174.4 337.3 174.3 337.5 173.9 337.7 174 337.7 173.7 337.9 174 338 173.8 338.1 174.1 338.3 174 338.4 174.3 338.5 174.1 338.6 174.5 338.7 174.2 339.1 174.7 340.3 174.1 340.8 174.3 341 174 341.1 174.3 341.2 174.1 341.4 174.3 342.6 173.2 342.6 173.5 342.7 173.1 342.9 173.4 343.6 172.9 343.6 172.7 344.5 172.7 344.8 172.2 345.1 172.2 345.2 172.4 345.4 172.3 345.4 172.7 345.5 172.6 345.7 172.7 345.8 172.9 345.9 172.7 346.2 173 346.3 172.7 346.8 173 346.8 172.7 347.5 173 347.6 173.2 347.7 173.1 347.8 173.5 348 173.4" fill="none" stroke="#20a028" stroke-width="1.3" stroke-linejoin="round"/>
<path d="M202.2 135.3 202.8 136.3 203.1 136.2 203.1 136.5 203.6 136.5 203.8 137 203.9 136.8 204.1 136.9 204.1 137.2 204.2 137 204.4 137.3 204.6 137.1 204.8 137.2 205.4 138.1 205.5 138.6 205.6 138.4 205.9 138.7 206.1 138.5 206.9 139.5 207.2 139.6 207.3 139.4 207.8 140 208 140 209.2 141.9 209.8 142.1 210.3 142.9 210.4 142.6 210.9 143.5 211.5 143.9 211.5 143.7 211.7 144.1 211.8 144 211.9 144.3 212.1 144.1 212.2 144.6 212.4 144.7 212.6 144.4 212.9 144.5 212.9 144.3 213.1 144.5 213.2 144.3 213.8 145.6 214.3 146 214.5 145.9 214.6 146.1 214.7 145.9 215.1 146 215.3 145.8 215.5 146.2 216 146.5 216.3 147.2 216.4 147 216.6 147.4 216.9 147.3 217.1 147.5 217.1 147.3 217.4 147.6 217.5 147.3 217.9 148.2 218 148 218.4 148.5 218.7 148.4 218.9 148.6 219 148.5 219.3 148.8 219.5 148.7 219.7 149 219.8 148.9 219.9 149.1 220.3 149 220.5 149.4 220.6 148.9 220.8 149.3 220.9 149.1 221 149.6 221.1 149.4 221.5 150 222 150.3 222.4 150.1 222.5 150.3 222.6 150.1 222.8 150.1 222.9 149.7 223 150 223.1 149.7 223.3 150 223.4 149.7 223.6 150.2 223.7 150 223.9 150.6 224 150.5 224.3 150.7 224.4 150.5 224.5 150.7 225.2 150.3 225.6 150.5 225.8 150.9 225.9 150.6 226 150.8 226.6 149.7 226.8 149.7 227.2 149.1 227.5 147.9 228.4 140.2 229.3 128.7 229.6 126.2 230 128.1 230.7 136.7 231.4 142.5 232.4 146.4 233.8 149.5 234.5 151.6 235.2 152.5 235.4 152.3 235.5 152.6 236.3 152 236.4 151.5 236.6 151.6 237 150.8 237.2 150.9 237.3 150.4 237.6 150.3 238.1 149.3 238.6 149.3 238.8 149.8 238.9 149.7 239 150 239.1 149.9 240.5 154 240.8 153.8 241.5 154.8 241.5 154.7 242 155.1 242.6 154.9 243 155.3 243.1 155 243.4 155.5 243.5 155.3 243.6 155.7 243.7 155.5 243.9 155.9 244.2 155.8 244.5 156 244.8 156.5 245 156.3 245.6 156.9 246.5 156.3 246.6 156.5 246.7 156.3 246.8 156.6 247 156.5 247.3 156.8 247.6 156.6 247.7 156.8 247.8 156.5 248.1 156.7 248.2 156.5 248.2 156.7 248.6 156.3 248.8 156.4 249 156.2 249.6 156.9 249.7 156.9 250 157.2 250.1 156.8 250.4 157 250.5 156.7 250.7 156.8 250.8 156.6 250.9 156.9 251.1 156.6 251.3 156.9 251.3 156.7 251.6 156.9 251.8 156.8 252.2 156.9 252.3 156.7 252.4 157 252.4 156.9 252.7 157 253.1 156.7 253.5 156.9 253.8 157.4 253.8 157.2 254 157.4 254.1 157.2 254.5 157.6 254.7 157.3 254.8 157.5 254.8 157.2 255.1 157.1 255.2 157.3 255.7 156.7 255.8 156.9 255.9 156.7 256 156.9 256.3 156.9 256.6 157.2 256.8 157 256.9 157.1 256.9 156.8 257.3 156.9 257.4 156.7 259.3 158.1 259.9 157.6 260 157.3 260.1 157.4 260.3 157.1 260.4 157.2 260.4 156.9 260.6 157.1 260.7 156.8 260.8 157 261.1 157 261.3 157.2 262 156.1 262.2 156.4 262.2 156 262.6 156.3 263.3 156.3 264 155.2 265.2 151.2 266.1 149.7 266.2 150 266.7 149.5 267.6 151 268.6 154 268.8 153.9 269.2 154.8 269.4 154.8 270.3 156.8 270.7 157 270.9 156.7 271 157.1 271.4 156.9 271.6 157.1 272.2 157.1 272.3 157.3 272.5 157.1 272.7 157.7 273 157.5 273.5 157.7 273.7 157.4 274.3 158.1 274.9 157.8 275.1 158.1 275.3 157.9 275.5 158.2 276.2 157.8 276.3 157.9 276.4 157.7 276.5 157.8 276.7 157.6 276.8 157.9 277 157.5 277.1 157.7 277.3 157.3 277.5 157.4 277.9 157.1 278 157.3 278.1 157.1 278.2 157.4 278.3 157.3 279 157.8 279.4 158.4 279.6 158.2 279.7 158.4 280.7 156.2 281.7 155.3 282.1 154.4 283.1 151.7 283.6 151.1 284.2 150.9 284.5 151.1 284.9 151.9 285.9 154.5 286.6 155.4 286.6 155.2 286.9 155.3 287.1 155.2 287.2 154.9 287.7 155.1 288 154.9 288.1 155.1 288.3 155 288.5 155.3 288.7 155.2 288.8 155.7 289 155.6 289.1 155.8 289.2 156.2 289.4 156.1 289.6 156.5 289.8 156.4 289.8 156.6 289.9 156.5 290 156.8 290.2 156.6 290.3 156.9 290.5 156.7 290.5 157 290.7 157 290.9 157.3 291.1 157.2 291.2 157.7 291.3 157.5 292.1 158.2 292.2 158 292.2 158.1 292.4 157.9 292.5 158 292.9 157.6 292.9 157.8 293.1 157.6 293.5 157.9 293.6 157.8 294.3 158.4 294.3 158.2 294.9 158.4 295.1 158.2 295.4 158.5 295.6 158.5 296.3 157.9 296.4 158.2 296.7 157.8 296.8 158 297.1 157.7 297.2 158 297.5 157.8 297.6 158 297.8 157.6 298.1 157.9 298.5 157.6 298.5 157.8 298.8 157.6 298.9 157.9 299 157.7 299.2 157.9 299.2 157.7 299.8 157.7 300.6 158.2 301 158.3 301.5 157.6 301.6 157.9 301.7 157.6 302.4 158.1 302.5 157.6 303.1 158 303.2 157.8 303.3 158.2 303.6 158.1 303.8 158.3 304.1 158 304.1 158.1 304.5 157.6 304.6 157.9 304.8 157.7 304.9 158 305.1 157.6 305.3 157.6 305.5 158 305.7 157.8 305.9 157.9 306 157.5 306.1 157.8 306.5 157.3 306.6 157.4 307 157.1 307.2 157.4 307.3 157.2 307.4 157.4 307.6 157.1 307.7 157.5 308 157.1 308.1 157.3 308.5 157.1 308.9 157.3 309 157.2 309.1 157.4 309.2 157.2 309.4 157.4 309.5 157.1 309.7 157.4 309.8 157.1 310.3 157.4 310.4 157.2 310.9 157.4 311.1 157 311.1 157.2 311.4 157 311.5 157.3 311.8 157 311.8 157.3 311.9 157.2 312.5 157.7 313.1 157.4 313.6 157.6 313.6 157.4 313.7 157.7 313.9 157.5 314 157.7 314.1 157.5 314.3 157.6 314.6 157.2 314.6 157.4 315 157.1 315.2 157.2 315.3 157 315.3 157.2 315.8 157.1 315.9 157 316 157.2 316.1 157.1 316.2 157.3 316.3 157.2 316.4 157.6 316.5 157.4 316.7 157.6 316.8 157.5 316.9 157.7 317.4 157.6 317.8 157.1 318 157.2 318.3 157 318.5 157.3 318.6 157 318.8 157.4 319.5 156.9 319.5 157 319.9 156.4 319.9 156.6 320 156.2 320.1 156.4 320.2 156.1 320.3 156.4 320.4 156 320.6 156.2 320.9 155.7 321 155.8 321.1 155.6 321.3 155.8 321.4 155.5 321.7 155.6 322 155.5 322.2 155.7 322.7 155.1 322.7 155.2 323 154.7 323.2 154.9 323.3 154.7 323.5 154.7 323.6 154.4 323.7 154.7 324.1 154.4 324.5 155.1 324.7 155 324.7 155.3 324.8 155.2 325.2 155.6 326.6 155 326.7 155.3 327.2 155.2 327.2 155.5 327.5 155.1 327.6 155.3 327.7 155.1 328.2 154.9 328.3 155.3 328.4 155.1 329.5 156 329.9 155.7 330.3 155.8 330.3 156 330.4 155.8 330.7 156.1 330.8 155.9 331 156.4 331 156.2 331.6 156.5 331.9 156.3 332 156.6 332.1 156.3 332.2 156.6 332.3 156.4 332.7 156.4 332.8 156.6 332.9 156.4 333.4 156.8 333.6 156.5 333.8 156.7 334.5 156.5 334.6 156.2 334.9 156.3 335.3 156.2 336 156.5 336.1 156.3 336.3 156.7 336.6 156.7 336.7 157 337.3 157 337.3 156.7 337.5 156.9 338.1 156.3 338.4 156.4 338.4 156.1 338.5 156.4 338.6 156.2 338.7 156.5 339.2 156.8 339.4 156.5 339.5 156.7 339.8 156.4 340.2 156.4 340.3 156.2 340.5 156.5 340.6 156.1 341 156.3 341.2 156.1 341.5 156.4 341.8 156.2 342.1 156.6 343.1 155.2 343.4 155 343.5 155.4 343.6 155.2 344.1 155 344.2 154.8 344.4 154.9 344.5 154.5 344.6 154.6 345.3 154.3 345.8 154.8 345.9 154.5 346 154.8 346.2 154.7 346.4 154.9 347.2 154.7 347.7 155 347.8 154.9 348 155.3" fill="none" stroke="#1f84c8" stroke-width="1.3" stroke-linejoin="round"/>
<path d="M202.2 126.9 202.3 126.5 202.4 126.8 202.4 126.6 202.7 126.9 203.1 126.9 203.2 127.1 203.3 126.9 203.6 127.4 203.8 127.4 203.8 127.7 203.9 127.5 204.4 128.5 204.5 128.3 204.5 128.5 204.8 128.2 204.8 128.4 205.2 128.4 205.5 129.2 206.3 130.1 206.5 129.7 206.6 130 206.8 130 207 129.7 209 131.8 209.3 131.7 209.4 132 209.5 131.8 209.7 132 209.8 131.8 210.1 132.2 210.1 132 210.4 132.4 210.6 132.3 210.7 132.8 211 133.3 211.1 133.1 211.2 133.6 211.3 133.4 211.5 133.7 211.8 133.5 211.8 133.7 211.9 133.5 212 133.7 212.1 133.4 212.2 133.6 212.2 133.5 213.2 134.6 213.6 134.6 213.8 134.9 213.9 134.8 213.9 135.3 214 135.1 214.2 135.5 214.3 135.2 214.4 135.8 214.5 135.5 214.6 135.9 215.1 135.7 215.3 136.1 215.6 135.5 215.7 135.7 216 135.5 216 135.8 216.1 135.4 216.3 135.7 216.4 135.6 217 136 217.2 135.9 217.3 136.3 217.4 136.1 217.6 136.5 217.8 136.2 218.3 136.7 218.5 136.6 218.8 137 218.9 136.7 219 137 219.4 137.1 219.5 137.5 219.6 137.2 220.3 137.2 220.6 136.8 220.9 137.2 221 137.1 221.4 137.7 221.6 137.7 221.7 138.1 222 138.1 222.3 138.4 222.3 138.2 222.4 138.5 223.3 138 223.5 138.1 223.7 137.9 223.8 138.2 223.9 138 224.1 138 224.2 138.2 224.6 137.9 224.9 138.3 225 138.1 225.2 138.3 225.8 137.6 225.8 137.8 226.2 137.6 226.5 137.8 226.8 137.4 226.9 137.6 227.2 136.9 227.9 133 229.3 114.9 229.6 112.9 230 114.6 231.4 130 231.8 131.8 231.9 131.9 232 131.7 232.1 132.2 232.4 132.6 233.1 134.2 234.2 138.2 235 139.1 235.2 139 235.5 139.5 235.9 139.1 236.2 139.1 237.3 137.1 238 135.1 238.4 134.8 240.2 139.1 241.6 141.3 242.6 140.7 242.9 141.2 243 141.1 243.3 141.3 243.5 141.7 243.6 141.6 244 141.8 244.1 141.7 244.2 142 244.3 141.7 244.3 141.9 244.4 141.8 244.5 142 244.7 142 245.1 142.6 245.4 142.4 245.6 142.7 245.9 142.3 246 142.5 246.1 142.3 246.4 142.4 246.4 142.1 246.5 142.2 246.8 142 246.8 142.3 247.1 142 247.2 142.1 247.9 141.4 248.5 141.8 248.6 141.7 248.8 142 249 141.9 249.2 142.1 249.5 141.9 249.8 142.2 250 141.9 250.1 142.1 250.5 141.9 250.6 141.7 250.7 141.9 250.9 141.7 251.1 141.9 251.3 141.8 251.4 142 251.7 141.9 251.8 142.2 251.9 142 252 142.3 252.7 142.7 252.8 142.5 252.9 142.7 253.1 142.5 253.1 142.7 253.3 142.5 253.4 142.6 253.4 142.2 253.6 142.4 253.8 142.2 253.8 142.4 254 142.2 254.2 142.4 254.3 142.1 254.4 142.3 254.5 142.1 254.8 142.5 255.2 142.5 255.3 142.3 255.8 142.4 255.9 142.2 256.2 142.2 256.5 142.5 256.6 142.3 256.8 142.4 256.9 142 257.2 141.9 257.6 142.2 257.6 142 257.9 142.4 258 142.3 258 142.7 258.1 142.4 258.3 142.7 258.5 142.5 258.7 142.7 259.1 142.5 259.2 142.7 259.3 142.4 259.5 142.6 259.6 142.4 260.2 142.5 260.4 142.3 260.7 142.5 260.9 142.4 261.1 142.6 261.1 142.4 261.2 142.6 261.5 142.6 261.8 142.2 261.8 142.3 262 141.8 262.1 142 262.2 141.3 262.3 141.6 262.5 141.4 263.2 140.3 263.4 140.3 263.6 139.9 263.7 140 263.8 139.7 263.9 139.8 264.6 137.9 266 132.5 266.4 131.8 266.7 131.8 267.3 132.6 268.5 137 269.5 140.1 269.6 140 270.5 141.2 270.6 141 270.9 141.6 271 141.5 271.3 141.9 271.6 141.9 271.8 141.5 272 141.7 272.3 141.4 272.5 141.8 272.6 141.5 272.7 141.7 272.7 142.1 272.8 141.9 273 142.3 273.5 142.5 273.7 142.1 274.5 141.8 274.6 142.1 275 142.2 275.2 142.1 275.5 142.6 275.6 142.2 275.8 142.4 276 142.1 276.3 142.3 276.6 142.2 277 142.3 277.2 142.2 277.2 142.4 277.5 142.1 277.6 142.4 277.7 142.1 277.8 142.4 277.9 142.1 278.2 142.4 278.4 142.2 278.5 142.5 278.7 142.1 278.9 142.2 279 141.9 279.3 142 279.7 141.6 280 141.7 280.2 141.4 280.4 141.6 280.8 141 281.1 141 282.1 138.9 283.1 135.5 283.4 135 283.5 135.1 283.7 134.7 283.9 134.6 284.3 135 285.2 137.3 286.3 139.1 286.7 139 286.9 139.2 287.1 139 287.2 139.2 287.7 138.8 288 139.1 288.1 138.8 288.7 139.7 288.9 139.6 289.4 140.1 289.6 140 289.8 140.4 289.9 140.3 290.1 140.5 290.1 140.3 290.5 141.1 290.6 140.9 290.8 141.2 290.9 141.1 291.5 141.5 291.5 141.2 291.7 141.5 291.9 141.4 292.2 141.7 292.6 141.5 292.7 141.8 292.9 141.7 292.9 141.5 293.1 141.8 293.3 141.5 293.3 141.6 293.9 141.3 294 141.4 294.6 141.1 294.7 141.3 294.7 141 295.2 141.7 295.3 141.6 295.6 142.2 295.8 142 296.1 142.2 296.2 141.9 296.3 142.1 296.4 141.8 296.5 142 296.8 141.5 297.1 141.9 297.3 141.9 297.4 141.7 297.8 142.1 298.2 141.7 298.2 141.9 298.3 141.7 298.6 141.9 298.9 141.7 298.9 142 299 141.7 299.2 141.9 299.2 141.5 299.5 141.7 299.9 141.5 299.9 141.7 300 141.4 300.2 141.9 300.3 141.6 300.4 141.9 300.9 141.4 301 141.6 301.3 141.2 301.6 141.1 301.9 141.5 302.1 141.4 302.2 141.7 302.6 141.7 302.7 141.5 302.9 141.7 303.3 141.1 303.4 141.1 303.5 141.3 303.7 140.9 304 141.8 304.1 141.5 304.1 141.7 304.5 141.5 304.6 141.9 304.7 141.6 304.8 141.7 305.5 141.5 305.8 141.7 306.3 141.4 306.5 141.5 306.6 141.2 306.9 141.2 307 140.7 307.1 140.9 307.5 140.4 307.6 140.6 308.1 140.3 308.2 140.5 308.3 140.2 308.4 140.5 308.7 140.2 308.8 140.4 308.9 140.2 309 140.7 309.3 140.7 309.7 141.5 309.8 141.3 309.9 141.7 310 141.4 310.3 141.7 310.8 141 310.9 141.2 311.5 140.9 311.5 141.2 311.7 141 312.2 141.5 312.2 141.2 312.5 141.7 312.8 141.4 312.9 141.6 313.2 141.3 313.3 141.5 313.6 141.2 313.8 141.3 313.9 141 314.3 141.1 314.5 141.4 314.8 141.4 315.3 142.1 315.4 141.8 315.5 141.9 315.8 141.7 316 141.2 316.2 141.3 316.4 140.9 316.4 141 316.9 140.5 317 140.7 317.1 140.6 317.2 140.8 317.4 140.6 317.7 140.6 317.8 140.9 318.1 141 318.2 140.9 318.5 141.2 318.6 141 318.8 141.3 318.8 141.1 319.1 141.2 319.3 140.9 319.5 140.9 319.6 140.7 319.7 140.9 320.4 139.9 320.5 140.1 320.6 139.9 320.9 140 321.1 139.8 321.2 140 321.3 139.7 321.6 140 322 139.6 322.3 139.6 322.4 139 322.5 139.2 322.7 139 322.8 139.1 323 138.7 323.2 138.9 323.4 138.7 323.6 138.8 324.3 139.4 324.7 139.2 324.8 139.4 325.1 139.1 325.1 139.4 325.4 139.2 325.7 139.6 325.8 139.3 325.8 139.6 325.9 139.4 326.1 139.5 326.5 139.3 326.6 139 326.9 139.1 327.1 139.5 327.2 139.3 327.5 139.6 327.9 139.3 328.2 139.5 328.6 139.2 328.7 139.5 328.9 139.4 329.2 139.5 329.6 140.5 329.7 140.3 329.8 140.5 329.9 140.3 330.2 140.5 330.3 140.2 330.3 140.4 330.8 139.9 331 140.2 331.1 140 331.2 140.4 331.3 140.3 331.4 140.6 332.1 141.2 332.4 140.8 332.6 140.8 332.9 140.2 333.2 140.6 333.4 140.4 333.6 140.6 333.9 140.4 334 140.6 334.1 140.3 334.3 140.3 334.7 140.6 335.7 139.9 335.8 140.2 335.9 140 336.4 140.1 336.6 140.4 336.8 140.4 337 140.7 337 140.4 337.3 140.7 337.4 140.5 337.5 140.8 337.7 140.6 337.7 140.9 338 140.6 338.3 140.9 338.4 140.6 338.6 140.9 338.7 140.7 339.2 140.9 339.3 140.8 339.4 141.1 339.7 140.7 339.9 141.1 340.1 140.8 340.4 140.9 340.6 140.7 340.8 140.9 340.9 140.5 341 140.7 341.1 140.3 341.2 140.7 341.5 140.2 341.6 140.4 341.8 140.1 342.2 140.1 342.6 140.6 342.6 140.5 342.8 140.9 343.3 140.9 343.6 140.5 343.9 140 344 140.3 344.4 139.3 344.7 139.4 344.7 139 344.9 139.2 345 138.9 345 139.1 345.1 138.9 345.3 139.1 345.5 138.9 345.7 139.1 346 139 346.1 138.8 346.5 139.3 346.6 139.1 347.3 140 347.5 140 347.6 139.6 347.9 139.9 348 139.8" fill="none" stroke="#3333d0" stroke-width="1.3" stroke-linejoin="round"/>
<path d="M202.2 104.1 202.4 104 202.7 104.2 202.8 103.9 203.5 104.3 203.6 104 204.5 105.7 204.7 105.6 204.8 105.9 205.3 106 205.6 106.3 206.4 107.5 206.9 108.1 206.9 107.9 207.2 108.4 208 109.4 208.3 109.6 208.5 109.9 209 110.3 209 110 209.2 110.2 209.4 110.1 210.2 110.9 210.3 110.8 210.5 110.9 210.8 111.5 211.7 111.7 212.7 113.2 212.9 113 213.2 113.3 213.3 113.2 213.5 113.4 213.9 113.2 213.9 113.5 214.3 113.3 214.4 113.9 215.2 115.3 215.4 115.3 215.5 115.1 215.6 115.4 215.7 115 216 115.2 216.1 115 217.3 116.1 217.4 115.9 217.4 116.2 217.8 115.9 217.9 116.2 218 116 218.3 116.3 218.7 116.1 219.2 116.6 219.3 116.4 219.5 116.6 219.7 116.3 219.9 116.6 219.9 116.4 220.4 116.8 220.5 117.1 220.6 116.9 220.9 117 221 116.7 221.2 116.9 221.5 116.8 222.2 117.8 222.6 117.7 222.7 117.5 223.1 117.6 223.2 117.4 224.2 118.6 224.6 117.9 225.1 118.2 225.1 118.4 225.7 118.5 225.8 118.1 225.9 118.4 226.2 118.2 226.2 118 226.5 118.2 226.5 118 226.7 118.2 226.8 117.9 226.9 118 227 117.6 227.8 116.4 228 115.3 229.2 102.2 229.4 100 229.6 99.3 230 100.6 230.7 108.3 231.2 112.3 231.7 113.6 232.1 114.1 234.1 118.8 234.7 119.2 234.8 119.4 234.9 119.2 235.7 120.2 235.8 120 235.9 120.2 236.1 120.2 236.5 119.9 236.7 119.2 236.9 119 237 119.1 237.9 116.9 238.5 116.5 238.6 116.9 238.7 116.7 239.1 117.3 240.3 120.6 241.2 121.6 241.7 121.8 241.8 122.2 242.1 122.2 242.2 122.6 242.2 122.2 242.4 122.3 242.9 122.1 242.9 121.9 243.1 122 243.3 121.5 243.4 121.8 243.6 121.7 243.6 121.9 243.9 121.9 244.2 122.5 244.3 122.4 244.5 122.7 245 122.5 245.1 122.7 245.2 122.5 245.4 122.8 245.7 122.6 246.2 123.6 246.6 123.7 247 123.6 247.1 123.3 247.2 123.6 247.6 123.1 248 123.3 248.4 123.2 248.5 123.4 248.9 123.2 249 123.3 249.2 123.1 249.3 123.4 249.4 123.2 249.5 123.4 249.8 123.2 249.9 123.5 250 123.3 250.4 123.1 250.5 123.2 250.6 123 250.9 122.8 251 123 251 122.8 251.1 123.1 251.3 122.9 251.6 123.1 251.7 123 252 123.2 252.4 123.9 252.6 123.9 252.7 124 252.8 123.9 252.9 124.2 253 123.8 253.2 124 253.8 123.3 254.8 123.8 254.9 123.5 255.1 123.6 255.4 123.5 255.5 123.7 255.5 123.5 255.6 123.8 255.8 123.6 256.1 123.8 256.2 123.5 256.2 123.8 256.6 123.3 256.8 123.6 257.1 123.6 257.2 123.9 257.3 123.6 257.6 123.9 257.7 123.6 258.3 123.6 258.5 123.3 258.7 123.6 259 123.4 259.1 123.6 259.4 123.5 259.4 123.6 259.5 123.4 259.8 123.6 260.1 123.4 260.4 123.5 260.5 123.3 261.1 123 261.2 123.2 261.5 123 261.8 123.5 262 123.4 262.1 123.7 262.2 123.5 262.2 123.7 263 122.6 263.3 121.7 263.4 122 265 118 266.7 114.7 267 114.9 268.1 118.5 268.9 121.7 269.6 122.7 269.8 122.6 269.9 123.1 270 122.9 270.3 123.2 270.4 123.6 270.6 123.5 270.8 124 271.2 124 271.3 124.3 271.4 124 271.9 124.4 272 124 272.3 124.1 273.4 123.3 273.5 123.7 273.6 123.4 274.3 123.4 274.4 123.6 274.4 123.3 274.7 123.6 274.8 123.3 275.7 124.4 276.5 123.9 276.7 124.2 276.8 123.9 277.4 124.2 277.5 124 277.6 124.2 277.9 124.1 277.9 124.4 278.4 124.5 278.8 124 278.9 124.2 279.3 123.7 279.8 124.1 280 124 280.3 123.5 280.4 123.7 280.6 123.3 281.2 122.8 281.7 121.3 281.7 121.4 281.9 121 282 121.2 282.5 120.2 283.1 118.3 283.7 117.4 283.8 117.6 284.2 117.6 285.9 121.6 286 121.5 286.1 121.7 286.3 121.8 286.5 121.6 286.7 121.8 286.8 121.5 286.9 121.7 287.1 121.7 287.3 121.5 287.5 121.8 287.7 121.3 288 121.5 288.2 121.2 288.3 121.4 288.4 121.2 288.5 121.6 288.8 121.6 289.1 122.2 289.2 122 289.4 122.5 289.8 122.4 289.8 122.9 290.1 122.9 290.6 123.7 290.8 123.6 290.9 123.9 291 123.6 291.2 123.8 291.3 123.4 291.5 123.7 291.9 123.4 292 123.7 292.2 123.6 292.2 123.4 292.6 124.1 292.7 123.9 293.1 124.4 294 124.1 294.5 123.7 294.6 124 294.7 123.7 295 124.2 295.1 123.9 295.2 124.1 295.4 123.8 295.7 124.1 295.7 123.9 295.9 124.3 296 124 296.2 124.2 296.4 124 296.5 124.2 296.8 123.9 297.1 124.3 297.5 123.9 297.7 124 297.8 123.7 297.8 123.9 298 123.7 298.4 123.8 298.6 124.3 298.7 124.1 298.9 124.5 299.5 124.3 299.6 124.1 299.6 124.2 299.7 123.8 299.8 124.2 299.9 123.8 300 124 300.3 123.8 300.5 124.2 300.6 124 301 124.5 301.2 124.1 301.3 124.5 301.5 124.2 302 124.5 302 124.3 302.3 124.4 302.5 124.2 302.6 123.7 302.7 124.1 302.9 123.6 303.6 124.4 304.5 123.4 304.6 123.5 304.8 123.3 304.9 123.4 305.2 123.2 305.5 123.9 305.5 123.7 305.7 123.9 306.3 123.2 306.4 123.4 306.7 122.9 306.8 123.3 306.9 123 307 123.1 307.4 123 308.3 122.2 309.1 122.9 309.2 122.7 309.3 122.9 309.5 122.8 309.7 123 309.7 122.8 310 123.2 310.1 122.9 310.5 123.5 310.6 123.1 310.8 123.6 310.9 123.5 311 123.7 311.5 123.6 311.6 123.7 311.8 123.3 311.9 123.5 312.3 123.2 312.4 123.3 312.5 123.1 312.5 123.3 312.7 123 312.8 123.2 313.2 123.1 313.5 123.5 313.6 123.3 313.7 123.5 313.9 123.4 314 123.7 314.3 123.7 314.5 123.6 314.7 123.7 314.8 123.4 315 123.5 315.2 123.2 315.7 123 315.9 123 316.1 123.5 316.3 123.4 316.4 123.6 316.4 123.4 316.6 123.6 316.9 123.4 317.3 123.4 317.4 123.1 317.4 123.4 317.6 123.1 317.8 123.4 318 123.3 318.5 123.6 318.5 123.4 318.6 123.5 318.9 123.3 319.5 122.6 320 122.8 320.3 122 320.4 122.3 320.6 121.8 320.7 122.2 320.8 121.9 320.9 122 321.1 121.9 321.5 122.1 321.6 121.8 321.8 122.1 321.9 121.8 322 122 322.5 121.5 322.7 121.6 323.1 120.9 323.2 121 323.4 120.8 324 121.6 324.3 121.7 324.4 121.6 324.6 121.9 324.7 121.7 325.1 122 325.2 121.8 325.9 122.3 326 122.6 326.1 122.3 326.2 122.5 326.3 122.2 326.5 122.2 326.6 121.6 326.7 121.8 326.8 121.5 326.9 121.6 327.3 121.1 327.9 121.5 328 121.2 328.2 121.4 328.6 121.1 329.5 122.7 330.3 122.5 330.7 122.6 331 122.4 331.4 122.9 331.5 122.8 331.6 122.9 331.7 122.7 332.1 122.8 332.1 123.1 332.7 123 332.8 123.3 333.1 122.9 333.1 123.1 333.6 122.4 333.9 122.2 334 122.3 334.2 122 334.4 122.1 334.5 121.9 334.7 122.1 334.8 121.8 335.5 122.5 335.7 122.3 335.9 122.5 336.2 122 336.3 122.3 336.4 122.1 336.7 122.2 336.8 122.5 337.3 122.7 337.9 122.4 338 122.7 338.1 122.2 338.4 122.4 338.5 122.2 338.8 122.4 339.2 122.3 339.3 122.5 339.8 122.8 340.1 122.4 340.6 122.5 340.8 122.2 341.1 122.6 341.2 122.3 341.4 122.6 341.5 122.3 341.6 122.6 341.8 122.2 341.9 122.3 342.2 121.8 342.6 121.5 342.6 121.7 342.7 121.5 343.1 121.6 343.3 122.1 343.7 122.2 344.7 120.5 345 120.4 345.1 120.2 345.4 120.4 345.4 120.3 346.1 120.5 346.3 120.9 346.4 120.6 346.8 120.8 346.9 121 347.1 120.7 347.1 120.9 347.3 120.8 347.8 121.5 348 121.5" fill="none" stroke="#6a23a8" stroke-width="1.3" stroke-linejoin="round"/>
<path d="M202.2 82.4 203.2 83.1 203.7 83.9 204.2 84.2 204.8 85.1 205.1 85 205.2 85.3 205.3 85.2 205.6 85.4 205.8 85.3 206.1 86.1 206.2 85.9 206.3 86.4 206.5 86.1 206.6 86.4 206.7 86.2 206.9 86.5 207.2 86.3 207.5 86.3 207.6 86.7 207.7 86.4 208 86.8 208 86.6 208.3 86.9 209 88.6 209.1 88.5 209.4 88.9 209.5 88.9 209.7 89.4 209.9 89.5 210 89.4 210.6 90.6 210.7 90.4 211.3 91 211.5 90.7 211.9 91.3 212.2 91.2 212.9 92.2 213 92 213.1 92.3 213.2 92.2 213.5 92.5 213.6 92.3 214.3 92.7 214.3 92.5 214.7 93.1 214.9 93 215.2 93.6 215.5 93.7 215.7 94 215.8 93.8 216 94.2 216.1 94 216.6 94.7 216.8 94.6 217.3 94.9 217.4 94.5 217.5 94.8 217.8 94.7 217.8 95 218 94.7 218.9 95.8 219.2 95.7 219.4 96 219.6 95.6 219.9 95.6 219.9 95.9 220 95.8 220.4 95.9 220.6 96.2 220.9 96.2 221.1 95.9 221.5 96.4 221.6 96.1 221.7 96.4 222 96.4 222.2 96.9 222.3 96.8 222.4 97 222.5 96.9 222.7 97.1 222.8 96.8 223.2 96.8 223.7 96.2 224.1 96.4 224.8 96.2 224.9 96.4 225.2 95.9 225.5 96 225.5 95.5 225.8 95.3 226.4 93.4 226.8 90.5 227.3 81 228.6 12.3 228.9 16.7 229.9 62.3 230.1 65.6 230.9 69.5 231.3 72.8 232.7 88.7 234 95.8 234.5 97.1 234.5 96.9 234.8 97.1 235.6 92.6 235.8 92.3 236 92.6 236.2 92.5 236.3 92.7 236.5 92 237.2 80.4 237.4 79.1 238.1 93.4 238.6 98.5 238.9 99.9 239.4 100.8 239.8 101.3 240 101.1 240.5 101.7 240.6 101.6 241.1 102.3 241.2 102 241.2 102.6 241.5 102.2 241.6 102.5 241.9 102.2 242.1 102.4 242.2 102.3 242.5 102.3 243.2 95.7 243.9 102.1 244.3 102.8 244.4 102.7 244.7 102.8 244.9 103.1 245.4 103 245.4 102.5 245.5 102.8 245.9 102.5 246.3 102.5 247 100.5 247.3 100.8 248.2 103.2 248.2 103 248.4 103.3 248.5 103 248.6 103.3 249 103 249.1 103.3 249.2 103 249.4 103.4 249.5 103.3 249.9 103.5 250.1 103.9 250.2 103.7 250.3 103.9 250.4 103.7 250.6 103.7 250.6 103.6 250.8 103.8 250.9 103.5 251 103.8 251.1 103.5 251.4 103.6 251.5 103.8 251.9 103.6 252 103.8 252.2 103.4 252.7 103.2 252.8 102.9 253 103.2 253.2 103.1 253.5 103.2 253.6 103 253.7 103.4 253.9 103.4 254.1 103.6 254.1 103.4 255.3 104.6 255.9 104.2 256 103.8 256.9 104.4 257.2 104.1 257.3 104.4 257.4 104.2 257.5 104.5 257.8 104.6 258.3 104.2 258.7 103.5 258.8 103.6 259.3 102.6 259.7 102.8 259.8 103.2 260.4 103.6 260.4 103.4 260.6 103.6 261.1 103.5 261.2 103.6 261.7 103.4 261.8 103.7 262 103.5 262.1 103.7 262.5 103.9 262.6 104.2 262.8 104 262.9 104.1 263 103.8 263.1 104 263.2 103.8 263.2 103.9 263.9 103.1 264.6 101.4 265 97.9 266 69.9 266.7 92.9 267.3 100.1 267.6 100.9 267.8 100.5 268.8 94.5 269.1 93.6 270.1 100.5 270.6 102.7 271 103.3 271.2 103.3 271.6 103.7 271.8 104.1 272.2 104 273 104.8 273.4 104.6 273.4 104.8 273.7 104.4 273.8 104.7 274.4 104.5 274.8 104.7 274.8 104.5 275.1 104.9 275.1 104.7 275.4 104.9 275.6 104.7 275.8 104.9 275.9 104.7 276.1 105 276.2 104.8 276.3 105 276.5 104.9 276.7 105 276.8 104.8 276.8 105.2 277.1 104.8 277.2 105.1 278.2 104.3 278.2 104.5 278.6 104 278.7 104.2 279 104.1 279.3 104.4 279.6 104.1 279.8 104.4 280 104.1 280.1 104.3 280.2 104 280.4 104.2 280.8 104 281.4 103.4 281.9 101.4 282.1 98.9 283.1 82.1 284.1 99.8 284.6 102.6 285.2 103.4 285.6 103.6 285.8 103.4 286.1 103.5 286.8 101.6 287.7 96 288.1 94.5 288.4 95.3 289.4 101.5 289.8 102.5 290.1 102.5 290.6 101 290.8 100.9 291.4 102 292 104.2 292.1 104 292.6 104.7 292.9 104.8 293.3 104.6 293.3 104.8 293.4 104.4 293.5 104.6 293.6 104.4 293.7 104.6 293.9 104.3 294.3 104.7 294.4 104.6 294.5 104.8 294.7 104.8 294.7 104.9 294.8 104.8 295 105.1 295 104.7 295.1 105 295.2 104.9 295.7 104.9 295.8 105.2 295.9 105 296.1 105.2 296.1 105 296.4 105.4 296.8 105 296.8 105.1 297.4 105 297.5 105.2 297.6 104.8 297.8 104.9 298.1 104.8 298.2 104.5 298.6 104.2 299 104.2 299.2 104.5 299.4 104.3 299.9 105.1 300.4 105.2 300.6 105.1 300.7 105.2 301.1 104.7 301.2 104.9 301.3 104.6 301.3 104.8 302 104.6 302.1 105 302.3 104.7 302.4 105 302.4 104.7 302.6 105 302.8 104.8 303.2 105.1 303.4 104.9 303.7 105.4 303.9 105.2 304 105.3 304.2 105.3 304.3 105 304.5 105.1 304.6 104.8 304.8 105.1 304.9 104.8 305.1 105.1 305.2 104.8 305.6 105.1 305.9 105 306 105.1 307.1 104.1 308 102.7 309.2 104.3 309.4 105 309.6 104.7 310 105.4 310.1 105.4 310.2 105.1 310.3 105.5 310.4 105.2 310.5 105.3 311 104.9 311.4 105 311.6 105.4 311.8 105.3 312.2 105.7 312.4 105.3 312.6 105.4 313 105 313.6 105.6 314.2 105.5 314.7 105 315 105.1 315.3 104.8 315.4 104.9 315.7 104.5 316 104.5 316.3 105 317.1 105 317.1 104.8 317.6 105.1 317.8 104.9 317.9 105.1 318.4 104.6 318.5 104.8 318.7 104.6 319.4 105.5 319.5 105.2 319.5 105.6 319.6 105.3 319.8 105.5 319.9 105.2 320.2 105.4 320.6 105 322 100.2 322.5 99.5 323.9 103.8 324 104 324.1 103.9 324.3 104.4 324.4 104.3 324.5 104.5 325.1 104.9 325.6 104.4 327.1 100.1 327.4 100.3 328.6 104 329.1 104.9 329.3 104.9 329.8 105.4 330.1 105.3 330.6 104.6 330.7 104.8 331.1 104.8 331.4 105.4 331.7 105 331.8 105.1 331.9 104.9 332 105.1 332.1 104.8 332.2 105 332.3 104.7 333.1 105.3 333.1 105.2 333.4 105.4 333.5 105.2 333.6 105.6 333.7 105.3 333.9 105.4 334.2 105.1 334.2 105.3 334.4 105.2 334.5 105.3 334.9 105.1 335.1 105.5 335.2 105.3 335.2 105.5 335.3 105.1 335.5 105.5 336 105.2 336.3 105.5 336.6 105 336.9 105.1 337 104.8 337.1 105 337.2 104.8 337.3 105 337.3 104.8 337.4 105.1 338 104.9 338 105.2 338.3 105.4 338.4 105.2 338.4 105.4 338.9 105.5 339.1 105.3 339.4 105.5 339.4 105 339.8 105.3 339.9 105.1 340.1 105.3 340.1 104.9 340.2 105.2 340.4 105 341.2 105.3 341.8 104.9 341.9 104.6 341.9 104.8 342.1 104.5 342.2 104.7 342.4 104.6 342.8 104.7 342.9 104.5 343.2 104.8 343.9 103.6 344.7 100.7 344.7 100.9 344.9 100.5 345.1 100.3 346.4 104.3 346.9 104.8 347.3 104.7 347.6 105 347.8 104.9 347.9 105.2 348 105" fill="none" stroke="#472080" stroke-width="1.3" stroke-linejoin="round"/>
<rect x="227.8" y="201" width="1.5" height="24" fill="#1a1aa8"/>
<rect x="236.6" y="215.8" width="1.5" height="9.2" fill="#1a1aa8"/>
<rect x="264.6" y="207.5" width="1.5" height="17.5" fill="#1a1aa8"/>
<rect x="281.8" y="211.5" width="1.5" height="13.5" fill="#1a1aa8"/>
<rect x="287.2" y="223.4" width="1.5" height="1.6" fill="#1a1aa8"/>
<rect x="307.2" y="223.2" width="1.5" height="1.8" fill="#1a1aa8"/>
<rect x="321.4" y="220" width="1.5" height="5" fill="#1a1aa8"/>
<rect x="326" y="221.7" width="1.5" height="3.3" fill="#1a1aa8"/>
<rect x="344.1" y="220" width="1.5" height="5" fill="#1a1aa8"/>
<line x1="231.4" y1="42.5" x2="231.4" y2="53.8" stroke="#666" stroke-width="0.8"/>
<path d="M229.70 52.30 L231.40 53.50 L233.10 52.30 L231.40 57.30 Z" fill="#111"/>
<line x1="239.5" y1="67.5" x2="239.5" y2="76.5" stroke="#666" stroke-width="0.8"/>
<path d="M237.80 75.00 L239.50 76.20 L241.20 75.00 L239.50 80.00 Z" fill="#111"/>
<line x1="270" y1="73.9" x2="270" y2="83" stroke="#666" stroke-width="0.8"/>
<path d="M268.30 81.50 L270.00 82.70 L271.70 81.50 L270.00 86.50 Z" fill="#111"/>
<line x1="287.5" y1="76.8" x2="287.5" y2="85" stroke="#666" stroke-width="0.8"/>
<path d="M285.80 83.50 L287.50 84.70 L289.20 83.50 L287.50 88.50 Z" fill="#111"/>
<line x1="292.6" y1="84" x2="292.6" y2="93" stroke="#666" stroke-width="0.8"/>
<path d="M290.90 91.50 L292.60 92.70 L294.30 91.50 L292.60 96.50 Z" fill="#111"/>
<circle cx="208.8" cy="83" r="1.3" fill="#e53030"/>
<circle cx="235" cy="86.6" r="1.3" fill="#e53030"/>
<circle cx="243.5" cy="88.2" r="1.3" fill="#e53030"/>
<circle cx="247.4" cy="95.8" r="1.3" fill="#e53030"/>
<circle cx="259.5" cy="97.2" r="1.3" fill="#e53030"/>
<circle cx="299.5" cy="98.2" r="1.3" fill="#e53030"/>
<text x="346" y="91" font-size="7.6" text-anchor="end" font-weight="bold" fill="#111" stroke="#111" stroke-width="0.22">Mn-Zr-Ce-800</text>
<text x="346" y="117.3" font-size="7.6" text-anchor="end" font-weight="bold" fill="#111" stroke="#111" stroke-width="0.22">Mn-Zr-Ce-700</text>
<text x="346" y="135.8" font-size="7.6" text-anchor="end" font-weight="bold" fill="#111" stroke="#111" stroke-width="0.22">Mn-Zr-Ce-650</text>
<text x="346" y="152.1" font-size="7.6" text-anchor="end" font-weight="bold" fill="#111" stroke="#111" stroke-width="0.22">Mn-Zr-Ce-600</text>
<text x="346" y="170.4" font-size="7.6" text-anchor="end" font-weight="bold" fill="#111" stroke="#111" stroke-width="0.22">Mn-Zr-Ce-500</text>
<text x="346" y="185.6" font-size="7.6" text-anchor="end" font-weight="bold" fill="#111" stroke="#111" stroke-width="0.22">Mn-Zr-Ce-400</text>
<text x="346" y="204.3" font-size="7.6" text-anchor="end" font-weight="bold" fill="#111" stroke="#111" stroke-width="0.22">Mn-Zr-Ce-300</text>
<rect x="310.9" y="12.4" width="1.3" height="7.5" fill="#1a1aa8"/>
<text x="0" y="0" font-size="9.5" text-anchor="start" fill="#2a2ab0" stroke="#2a2ab0" stroke-width="0.16" transform="translate(316.4 19.4) scale(1 0.95)">CeO<tspan font-size="6.8" dy="1.7">2</tspan></text>
<line x1="311.6" y1="24.2" x2="311.6" y2="29.7" stroke="#111" stroke-width="0.8"/>
<path d="M309.90 28.20 L311.60 29.40 L313.30 28.20 L311.60 33.20 Z" fill="#111"/>
<text x="0" y="0" font-size="9.5" text-anchor="start" fill="#111" stroke="#111" stroke-width="0.16" transform="translate(316.2 33.1) scale(1 0.95)">c-ZrO<tspan font-size="6.8" dy="1.7">2</tspan></text>
<circle cx="311.8" cy="41.3" r="1.1" fill="#e53030"/>
<text x="0" y="0" font-size="9.5" text-anchor="start" fill="#e02a2a" stroke="#e02a2a" stroke-width="0.16" transform="translate(316.4 45.2) scale(1 0.95)">Mn<tspan font-size="6.8" dy="1.7">3</tspan><tspan dy="-1.7">O</tspan><tspan font-size="6.8" dy="1.7">4</tspan></text>
<rect x="381.6" y="6.7" width="143.69999999999993" height="217.8" fill="none" stroke="#474747" stroke-width="1.25"/>
<text x="0" y="0" font-size="8.7" text-anchor="middle" fill="#111" stroke="#111" stroke-width="0.16" transform="translate(381.5 236.7) scale(1 1.1)">20</text>
<line x1="391.8" y1="224.5" x2="391.8" y2="222.3" stroke="#474747" stroke-width="1" />
<line x1="402.1" y1="224.5" x2="402.1" y2="222.3" stroke="#474747" stroke-width="1" />
<line x1="412.4" y1="224.5" x2="412.4" y2="222.3" stroke="#474747" stroke-width="1" />
<line x1="422.6" y1="224.5" x2="422.6" y2="220.5" stroke="#474747" stroke-width="1" />
<text x="0" y="0" font-size="8.7" text-anchor="middle" fill="#111" stroke="#111" stroke-width="0.16" transform="translate(422.6 236.7) scale(1 1.1)">40</text>
<line x1="432.9" y1="224.5" x2="432.9" y2="222.3" stroke="#474747" stroke-width="1" />
<line x1="443.2" y1="224.5" x2="443.2" y2="222.3" stroke="#474747" stroke-width="1" />
<line x1="453.5" y1="224.5" x2="453.5" y2="222.3" stroke="#474747" stroke-width="1" />
<line x1="463.8" y1="224.5" x2="463.8" y2="220.5" stroke="#474747" stroke-width="1" />
<text x="0" y="0" font-size="8.7" text-anchor="middle" fill="#111" stroke="#111" stroke-width="0.16" transform="translate(463.8 236.7) scale(1 1.1)">60</text>
<line x1="474.1" y1="224.5" x2="474.1" y2="222.3" stroke="#474747" stroke-width="1" />
<line x1="484.4" y1="224.5" x2="484.4" y2="222.3" stroke="#474747" stroke-width="1" />
<line x1="494.6" y1="224.5" x2="494.6" y2="222.3" stroke="#474747" stroke-width="1" />
<line x1="504.9" y1="224.5" x2="504.9" y2="220.5" stroke="#474747" stroke-width="1" />
<text x="0" y="0" font-size="8.7" text-anchor="middle" fill="#111" stroke="#111" stroke-width="0.16" transform="translate(504.9 236.7) scale(1 1.1)">80</text>
<line x1="515.2" y1="224.5" x2="515.2" y2="222.3" stroke="#474747" stroke-width="1" />
<text x="367.3" y="19" font-size="12" text-anchor="start" font-weight="bold" fill="#000"  stroke="#000" stroke-width="0.16">c<tspan font-size="14">)</tspan></text>
<path d="M381.5 201.8 381.6 200.6 381.7 200.8 382 200.6 382.1 199.7 382.2 201 382.3 199.7 382.6 201.4 382.7 200.8 382.8 201.7 383 200.6 383.1 201.2 383.3 200.3 383.5 200.6 383.8 199.6 383.9 201.2 384 201 384.1 201.2 384.1 200.5 384.4 201.2 384.5 199.9 384.5 201 384.6 200.4 384.7 200.8 384.8 200.5 384.9 201.7 385 200.8 385.1 201.4 385.3 200.2 385.4 200.4 385.4 200.2 385.6 200.6 385.7 200.1 385.9 200.5 385.9 200.1 386 200.3 386.4 198.9 386.4 200.2 386.7 199.1 386.8 199.7 387.1 198.8 387.2 200.1 387.3 198.9 387.4 200 387.5 198.5 387.6 199.8 387.8 199.5 387.8 199.7 388 198.5 388.1 200.5 388.2 199.3 388.2 199.9 388.4 199.4 388.7 199.9 389 198.8 389.3 199.9 389.5 199 389.6 199.9 389.6 199.1 389.8 199.1 390 198.3 390.1 198.9 390.2 198.3 390.3 198.8 390.6 197.7 390.7 199.4 391 198.6 391 199.1 391.1 198.3 391.3 199 391.4 198.1 391.6 199.7 391.7 198.6 391.8 199.2 391.9 198.7 392 197.6 392.2 199.4 392.4 198.6 392.4 199.6 392.6 197.4 392.9 198.2 392.9 196.8 393.1 197.5 393.3 195.9 393.4 196.9 393.5 195.9 393.7 197.9 393.8 197.3 393.9 197.2 394 198.2 394.4 196.6 394.5 197 394.6 196.7 394.7 197.4 395 195.1 395.2 196.7 395.3 194.8 395.5 196.3 395.6 195.7 395.8 196.5 395.9 195.3 396.1 196.6 396.2 195.8 396.3 196.4 396.5 195.8 396.6 196.6 396.7 196.2 396.8 196.7 396.9 195.7 397 196.7 397.1 195.9 397.3 196.9 397.4 196.1 397.6 195.9 397.8 197.2 398.3 195 398.4 196.2 398.5 194.9 398.7 195.2 398.8 194.7 399 195.5 399.1 194.2 399.2 194.9 399.4 194.5 399.4 195.5 399.6 194.4 399.7 194.8 399.8 194.5 399.8 195 399.9 194.1 400 194.6 400.3 193.8 400.5 194.5 400.6 193.7 400.8 194.1 400.8 193.5 400.9 194.3 401.1 192.6 401.3 193.9 401.5 192.7 401.7 193.1 401.7 192.9 401.8 193.4 402 193.2 402.1 193.4 402.4 192.4 402.5 193.2 402.6 193.3 402.8 192.7 403 193.7 403.2 192.9 403.4 193.7 403.5 193 403.6 194.4 403.6 193.1 403.7 194.1 404 193.3 404.1 194 404.3 193.5 404.4 194 404.6 193.4 404.7 194 405.1 191.7 405.3 192.9 405.5 192.3 405.6 193 405.8 192 405.9 193.2 405.9 193.1 406 193.2 406.2 193.7 406.4 192.1 406.7 193.8 406.8 193.5 406.9 194 407.2 193.1 407.4 194.1 407.5 193.2 407.7 194.7 407.7 192.9 408.1 194.5 408.3 193.3 408.6 194.2 408.7 193.8 408.7 195.1 408.8 194.1 408.9 194.9 409.1 194.1 409.4 195.1 409.5 194.5 409.6 196 409.8 193.7 409.9 195.6 410.3 194.5 410.4 196.8 410.5 195.5 410.6 196.7 410.7 195 410.8 196.3 411.1 195.4 411.3 196.5 411.4 195.9 411.5 196.2 411.6 194.8 411.7 196.6 411.9 195.1 412.2 196.4 412.3 195.3 412.4 197.7 412.5 196.5 412.6 197.9 412.8 198.5 412.9 197.2 413.2 199.4 413.3 197.7 413.4 198.9 413.7 198.5 413.8 199.3 413.9 198.2 414.2 198.9 414.3 198.4 414.4 199.3 414.5 198.6 414.9 200.5 415 200.3 415.1 200.5 415.2 199.7 415.2 200.5 415.6 199.3 415.8 200.2 416.1 199.6 416.1 200.2 416.3 199.8 416.5 200.7 416.6 200 416.8 201.5 417 200.3 417.1 202 417.2 201.1 417.3 202.1 417.4 201.5 417.5 201.9 417.6 201.2 417.7 203.5 417.8 201.5 418.1 203.2 418.2 201.7 418.4 203 418.4 202.9 418.5 203.1 418.7 202.1 419.1 203.6 419.4 201.7 419.5 202.8 419.6 202 419.7 202.3 419.8 203.7 419.8 202 420 202.9 420.2 203 420.3 202.8 420.3 204.1 420.4 202.1 420.6 203.8 420.8 202.5 421 204.1 421.2 202.3 421.4 203.7 421.5 203.1 421.6 203.7 421.7 203.2 421.7 204.2 422 202.9 422.1 203.6 422.2 203.2 422.3 204.7 422.5 203.2 422.6 204.1 422.6 203.4 422.7 203.9 422.9 203.4 423 204.5 423.1 203.9 423.1 204.4 423.3 203.2 423.7 204.2 423.8 203.4 423.9 204.1 424 203.4 424.1 205.4 424.3 204 424.4 205.1 424.5 204.7 424.6 205 424.9 203.7 424.9 204.3 425 203.4 425.2 204 425.3 203.5 425.4 204.6 425.5 203.2 425.6 204.4 425.8 203.3 425.9 204.4 426 203.6 426.2 203.8 426.3 203.7 426.3 204.1 426.4 203.7 426.6 204.2 426.7 203.7 426.8 204.5 426.9 203.5 427 204.8 427.2 203.8 427.2 204.1 427.4 203.4 427.7 204.1 427.7 202.5 427.8 203.7 428.2 202.4 428.4 203.5 428.6 202.1 428.8 203.6 429 203.5 429.1 203 429.1 203.8 429.2 203.1 429.3 204 429.5 203.3 429.6 204.2 429.6 203.3 429.7 204 429.8 203.5 430 203.9 430.1 203.4 430.4 203.5 430.6 202 430.7 203.2 430.9 203.8 431 203.3 431.1 203.8 431.3 202.5 431.4 203.2 431.5 202.6 431.6 203.4 431.7 203 431.8 203.2 431.9 202 432 203.2 432.1 202 432.3 202.9 432.3 201.6 432.4 203.5 432.5 202.4 432.7 203.6 432.8 201.9 432.8 203 433.1 202.3 433.2 203.4 433.3 202.1 433.3 202.8 433.7 202.5 433.7 203.1 434 202.1 434.3 203.5 434.4 201.9 434.5 204.1 434.7 201.9 434.8 203.2 435.2 202 435.3 202.7 435.6 201.2 435.6 202.7 435.8 201.6 435.9 202.8 436.1 201.3 436.2 202 436.3 201.4 436.5 202.9 436.6 201.2 436.7 201.4 436.8 201.3 437 199.9 437 201.2 437.1 200.6 437.3 201.2 437.4 200.6 437.5 202 437.5 201.3 437.6 201.5 437.7 201.2 437.9 201.9 438.2 200.6 438.4 201.4 438.5 201.7 438.6 200.9 438.8 201.9 439.1 200.9 439.2 202.2 439.3 201.1 439.4 202 439.5 201.1 439.7 201.5 439.9 199.9 440.2 201.3 440.3 201 440.4 201.5 440.5 200.4 440.6 201.1 440.7 200.8 440.8 201.6 441.2 200.2 441.2 201.2 441.6 199.4 441.8 200 441.9 199.7 442 200.3 442.1 199.3 442.2 199.9 442.4 199.7 442.6 201 442.7 199.6 442.9 202.2 443 200.4 443 200.9 443.1 200.5 443.3 201.4 443.4 200.5 443.5 201.1 443.7 199.7 443.8 200.3 443.9 199.9 444 200.3 444 199.6 444.1 200.3 444.4 199.9 444.9 201.5 444.9 200.7 445.1 201.2 445.3 200.5 445.4 201.3 445.6 200 445.8 201.1 445.9 200.4 446 200.8 446.2 200.5 446.3 200.8 446.4 200.5 446.5 201.2 446.6 200 446.7 200.8 446.7 201 446.8 200.9 447.1 198.8 447.2 200.7 447.3 198.6 447.5 199.8 447.7 198.6 447.8 199.7 447.9 198.8 448 200.1 448.1 199 448.1 200.3 448.4 199 448.5 199.6 448.6 199.7 448.7 199.4 448.9 200.1 449 199.1 449.4 200.4 449.6 198.3 449.7 199.6 449.8 200.2 449.9 199.2 450 200.4 450 198.8 450.1 200.3 450.3 198.9 450.5 199.1 450.6 198.4 450.8 199.6 450.9 199.4 450.9 200 451 199.1 451.4 200.6 451.6 199.9 451.7 200.4 451.8 199 451.9 200 452.1 199.7 452.2 200 452.3 199.4 452.6 200 452.8 198.3 452.9 200.2 453 198.8 453.2 201 453.3 199 453.4 200.7 453.5 199.6 453.7 200.3 453.9 199.9 454 200.4 454.1 199.4 454.2 200.2 454.2 199.5 454.3 200.2 454.5 199.6 454.6 200.5 454.7 199.2 454.8 200.1 454.9 199.7 455.1 199.9 455.1 201 455.2 199.5 455.4 200.2 455.5 199.8 455.6 200.5 455.7 199.9 455.8 200.9 455.9 199.8 456.1 201.9 456.2 199.4 456.4 201.5 456.5 200 456.5 200.8 456.7 199.6 456.8 200.5 456.9 199.9 457 200.4 457 199.6 457.1 200.8 457.2 199.2 457.4 201.2 457.5 200.5 457.7 200.5 457.8 202 458 200.3 458.2 200.8 458.3 200 458.6 200.5 458.8 200.1 458.9 201.1 459.1 200.4 459.2 200.7 459.3 200.5 459.3 199.8 459.5 201.3 459.8 199.6 460 201 460.1 199.8 460.2 200.9 460.3 200.3 460.5 200.7 460.7 200.5 460.7 200.8 460.8 200.3 461 201.1 461.1 200.2 461.1 200.6 461.2 200.1 461.3 201.1 461.6 201.1 461.8 200.1 461.9 200.9 462 199.9 462.1 201.4 462.3 199.5 462.5 200.6 462.5 199.2 462.6 199.6 462.8 199.5 463 200.9 463 199.3 463.1 200.4 463.2 199.7 463.3 200.5 463.4 198.7 463.5 200.5 463.6 199.6 463.7 200.6 463.8 199.8 463.9 200.6 464.1 199.8 464.3 200.8 464.4 200.1 464.5 202.1 464.6 199.8 464.8 201 464.8 200.3 464.9 200.8 465.1 200.2 465.2 201.1 465.3 200.4 465.4 201.5 465.5 200.3 465.7 201.4 466 200.1 466.2 201 466.3 200.3 466.4 201.2 466.5 200.3 466.6 201.1 466.7 200.1 466.8 201.8 467.1 200.4 467.2 201.3 467.3 200.9 467.4 202.1 467.5 200.3 467.6 201.7 467.6 200.4 467.9 201.7 468 201.1 468.2 200.9 468.6 201.4 468.6 200.4 468.8 202.1 468.9 201.2 469 201.3 469.1 200.8 469.2 201.1 469.3 200.4 469.4 201 469.5 200.2 469.5 201.3 469.6 200.3 469.8 201.7 469.9 200.5 470 201.7 470 201.2 470.1 202 470.2 201.2 470.4 202.2 470.5 200.6 470.6 201.9 470.8 201.3 471.1 202.1 471.3 200.2 471.7 202.2 471.8 200.3 471.9 201.7 472 200.9 472.2 201.7 472.3 201.3 472.5 201.6 472.6 201.5 472.7 202.2 472.7 199.7 473 201.6 473.1 201.3 473.2 201.6 473.2 200.5 473.4 201.6 473.6 201.2 473.7 202.3 473.8 200.5 473.9 202.4 474.1 201.3 474.3 202.3 474.4 201.2 474.5 202.1 474.6 201.1 474.7 201.7 475 200.8 475.1 201.6 475.2 200.7 475.4 201 475.5 200.7 475.5 201.5 475.6 201.1 475.7 201.5 475.8 200.5 476 201.2 476 200.9 476.4 202.2 476.5 201.2 476.6 201.8 476.7 201.3 476.8 201.9 476.9 201.2 476.9 202.4 477.2 201.2 477.3 202 477.4 201.6 477.4 202 477.6 201.6 477.8 202.5 477.8 201.2 478 202 478.2 201.7 478.3 203 478.3 201.6 478.4 202.2 478.5 201.8 478.6 202.1 478.7 201 478.8 202.6 478.9 201.6 479 202.9 479.2 201.7 479.3 202.4 479.6 201.2 479.7 202 479.9 200.9 480.2 203.4 480.3 201.1 480.4 202.7 480.6 201.8 480.6 202.7 480.9 201.9 481.1 202.7 481.1 201.8 481.2 203.1 481.3 202 481.4 203.3 481.7 202.3 481.9 203.4 482 202.3 482 203 482.1 202.2 482.3 203.1 482.5 201.5 482.8 203.1 483 202.2 483.1 202.8 483.2 202 483.4 203.6 483.5 202.8 483.6 202.9 483.7 202.7 483.9 203.7 484.1 202.9 484.3 203.8 484.6 202.5 484.8 204 485 202.8 485.3 203.1 485.3 202.3 485.5 203 485.6 201.6 485.7 203.3 485.7 202.5 485.8 203 486 202.4 486.2 203 486.4 202 486.7 203.2 486.7 202.4 486.8 203.8 487 203.3 487.1 204.1 487.1 203.3 487.4 204 487.5 203.1 487.6 204.8 487.7 202.8 487.9 203.6 488 203.2 488.1 203.4 488.1 204 488.5 202.4 488.5 203.5 488.6 202.4 488.7 203.2 488.9 202.5 489.2 203.9 489.3 203.3 489.4 204.3 489.5 203.3 490.1 204.4 490.4 202.8 490.6 203.6 490.8 203.4 490.9 204.3 490.9 202.7 491 203.1 491.2 202.8 491.3 204 491.3 203.4 491.4 204 491.5 202.9 491.7 204.6 491.8 203 492 203.7 492.1 202.7 492.2 203.6 492.4 202.1 492.7 203.7 492.8 202.8 492.9 203.8 493.1 204 493.2 203.8 493.2 204.4 493.4 203.3 493.7 205.3 494 204 494.1 204.6 494.3 203.8 494.5 204.6 494.6 203.7 494.8 204.6 494.9 203.6 495 204.7 495 203.3 495.3 204.8 495.5 203.5 495.6 204.7 495.9 204.1 496.1 205 496.2 203.4 496.3 204.9 496.4 204.2 496.7 204.9 496.9 203.8 496.9 204.5 497.1 204.7 497.3 204.4 497.4 204.9 497.4 203.9 497.5 205.4 497.7 203.8 497.8 204.6 498 204.8 498.4 203.7 498.6 205 498.9 203.6 499.2 204.8 499.3 204.2 499.5 206.2 499.6 204.3 499.7 205.7 499.9 204.5 500 205.1 500.1 204.6 500.2 205.6 500.6 204.7 500.6 205.4 500.7 204.9 500.9 205.8 501 204.9 501.1 206 501.3 204.6 501.5 205 501.7 204.7 501.9 205.6 502 204.3 502.1 205.3 502.3 205.5 502.4 205.1 502.5 205.6 502.5 205 502.7 206.4 502.9 204.2 502.9 205.2 503.3 205.5 503.4 206.6 503.4 204.9 503.6 205.3 503.7 204.2 503.8 205.5 503.9 204.5 504.3 206.1 504.4 205.3 504.5 206 504.6 205.6 504.7 206.8 504.8 204.6 504.8 206.3 505.3 204.1 505.4 205.8 505.7 203.8 506 205.4 506.1 204.3 506.2 204.9 506.4 204.4 506.5 204.9 506.6 203.7 506.8 205.7 506.9 204.2 507 205.2 507.1 204.1 507.2 205.5 507.3 204.7 507.4 205.4 507.6 204.6 507.8 205.6 508.1 204.3 508.2 205.1 508.4 204.4 508.5 205.2 508.5 204.4 508.6 205.6 508.7 205.1 508.8 205.4 509 203.7 509.3 205.4 509.4 204.8 509.4 205.2 509.5 204.3 509.8 205.5 509.9 204.6 509.9 205.5 510 205 510.1 205.9 510.3 205.4 510.4 206 510.5 205.2 510.6 205.9 510.8 204.3 510.9 204.8 511 204.1 511.2 204.7 511.3 203.4 511.5 204.5 511.7 203.9 511.7 204.8 511.8 204.2 511.9 204.8 512 204 512.2 205 512.2 204.2 512.5 204.8 512.7 203.9 512.8 204.6 512.9 204 513 204.8 513.1 203.6 513.2 205.8 513.4 204.6 513.6 205.6 513.7 205 513.8 206 514.2 205.2 514.3 205.6 514.4 205.2 514.5 206.1 514.5 205.5 514.8 205.6 514.9 204.7 515 206 515.2 204.9 515.5 205.3 515.5 204.9 515.6 205.3 515.8 204.9 515.9 206.3 515.9 205.2 516 205.5 516.2 205.3 516.4 206.3 516.5 205.4 516.6 206.1 516.7 204.8 516.8 206 516.9 205.8 516.9 206 517 205 517.1 205.4 517.2 204.9 517.3 205.4 517.5 204.5 517.6 205.3 517.8 203.5 517.9 204.6 518.2 204.6 518.2 204 518.3 204.5 518.4 204 518.8 204.7 518.9 204.5 519 205.5 519.1 204.7 519.2 205.8 519.3 204.5 519.4 205.5 519.5 204.4 519.6 205.8 519.8 204 520.1 205.5 520.1 204.4 520.3 205.2 520.6 204.7 520.6 205.1 520.7 204.3 520.8 205 520.9 204.1 521 204.7 521 204 521.3 205.1 521.4 203.6 521.6 205 521.7 204 521.8 204.7 522 203.7 522 204.5 522.1 203.9 522.4 205.3 522.4 204.2 522.5 205.5 522.7 203.9 522.8 205.8 522.9 204.2 523 204.9 523.1 204 523.4 205 523.4 204.3 523.5 204.6 523.6 204.2 523.7 204.9 523.8 205 523.8 204.7 523.9 205.2 524.1 204.8 524.2 205.2 524.4 203.7 524.7 205 524.7 204.4 525.1 205.2 525.3 204.6 525.4 206 525.5 204.9" fill="none" stroke="#e02424" stroke-width="1.3" stroke-linejoin="round"/>
<path d="M381.5 185.2 381.7 186.2 381.7 185.6 381.8 185.8 381.9 184.3 382 185.3 382.2 185.7 382.2 185.2 382.3 186 382.6 184.8 382.7 186.3 382.8 185.4 382.9 186.3 383.1 185.1 383.3 185.7 383.5 185.2 383.6 186.1 383.9 184.8 384 185.7 384.1 185.1 384.4 186.2 384.5 185.3 384.6 185.6 385 184.7 385 185.3 385.1 185 385.3 185.5 385.4 184.7 385.4 184.5 385.6 184.6 385.7 184 385.8 185.8 385.9 185.2 385.9 186.1 386 184.8 386.1 185.3 386.3 185 386.4 185.5 386.4 185 386.6 185.1 386.7 183.9 386.9 185.7 387.3 184.6 387.3 185.3 387.5 183.6 387.7 184.6 387.8 184 388 184.3 388.1 183.8 388.2 184.3 388.2 183.6 388.3 184.4 388.4 182.8 388.5 183.9 388.7 182.8 388.8 183.9 389 182.9 389.2 183.3 389.4 182.6 389.6 183.7 389.7 182.4 389.9 183.2 390 182.2 390.1 182.7 390.2 182.2 390.3 183 390.4 181.8 390.5 182 390.6 181.5 390.7 183 390.8 182.4 390.9 183 391 182.2 391 183.1 391.2 182.3 391.3 183.2 391.4 182.4 391.5 182.6 391.5 182.3 391.6 182.5 391.8 181.5 391.9 182.2 392.1 181.7 392.2 182.6 392.3 181.3 392.4 181.5 392.6 180.5 392.8 181.2 392.9 179.9 393 180.4 393.3 181 393.3 180.7 393.5 181.3 393.6 179.4 393.7 181 393.8 180.3 393.8 180.7 394 180 394.3 180.7 394.4 180.1 394.5 181.3 394.6 180.1 394.7 181.2 394.7 179.8 394.9 180.7 395 179.4 395.3 180.4 395.6 178.8 395.7 179.8 396 178.1 396.1 178.8 396.1 178.1 396.3 179.5 396.6 178.7 396.6 179.2 396.7 178.4 396.9 180 397 178.4 397.1 178.7 397.1 178.3 397.2 179.5 397.5 178.1 397.5 179.1 397.8 178.1 398 178.4 398.2 176.5 398.4 177.4 398.4 176.5 398.6 177.1 398.8 176.4 398.9 177.4 398.9 177.2 399.2 177.5 399.4 175.8 399.7 176.9 399.8 176.6 399.8 176.9 400.4 175.4 400.5 176 400.8 174.7 401.1 176.8 401.2 175.8 401.5 177.3 401.6 176 401.8 177.1 402 176.2 402.1 176.4 402.2 175.7 402.4 175.4 402.6 175.6 402.7 176.2 403 174.6 403.1 175.5 403.2 175.6 403.3 175.2 403.5 176.1 403.6 175.8 403.7 176.1 403.9 175.8 404 176.3 404.2 175.2 404.4 176.4 404.5 175.3 404.5 176.5 404.6 175.8 404.7 176.1 404.8 175.7 404.9 176.3 404.9 176 405 176.2 405.1 175.1 405.2 176.3 405.3 175.2 405.4 176.2 405.5 175.8 405.6 176.1 405.8 175.9 405.9 175.5 406 176.4 406.2 175.4 406.3 175.9 406.3 175.4 406.7 176.2 406.8 174.8 407.1 176.1 407.3 174.8 407.3 176 407.4 175.5 407.6 176.4 407.7 175.7 408 177.2 408.1 176.8 408.2 177.5 408.2 176.5 408.3 177.6 408.5 177.6 408.6 177 408.7 177.6 408.7 177.3 408.8 178.5 408.9 177.8 409.3 178.7 409.4 178 409.5 179 409.6 178.3 409.6 178.9 409.7 178.7 409.8 179 410 177.7 410.2 179.1 410.3 178.3 410.5 179.3 410.5 178.6 411 180.2 411 180.3 411.1 179.8 411.2 181.4 411.4 179.8 411.6 180.6 411.7 179 411.8 180.3 411.9 179.8 412 180.6 412.1 180.1 412.3 181.5 412.4 180.7 412.7 181.9 412.9 181.8 413 181.1 413.1 182.4 413.3 181.6 413.7 183.2 413.8 182.7 413.8 182.6 413.9 182.8 414 182.5 414.2 184.1 414.2 182.9 414.6 183.8 414.7 183.2 414.8 184.4 414.9 183.6 415.1 184.2 415.2 183.3 415.4 184.6 415.6 183.4 415.6 184.8 415.7 183.3 415.8 184.3 416 184.3 416.1 185.2 416.2 184.4 416.4 185.3 416.6 185.6 416.7 185.4 416.9 185.6 417.1 187.1 417.2 185.8 417.4 186.5 417.5 186.2 417.6 187.8 417.8 186.9 418 187 418 186.5 418.3 187.9 418.4 187.5 418.4 187.7 418.6 185.5 418.7 187.7 418.9 187 418.9 187.8 419.1 186.6 419.3 187.9 419.4 186.5 419.5 188.1 419.8 187.1 419.8 188.4 420.1 187.1 420.2 187.9 420.6 187.1 420.8 188.1 420.9 187.1 421.1 187.6 421.2 187.2 421.6 188.5 421.7 188.3 421.8 188.5 422 187.9 422.2 189.6 422.4 188.2 422.5 188.9 422.6 188.4 422.8 189.7 423 188.5 423.1 188.9 423.2 188.1 423.5 189.4 423.5 188.6 423.7 188.9 423.8 188.2 423.9 190.2 424 188.1 424.1 188.9 424.2 188.4 424.3 189.3 424.4 188.9 424.5 189.2 424.8 188.7 424.9 188.9 425 188.3 425.2 188 425.3 188.2 425.5 187.2 425.6 188.8 425.7 187.3 425.8 188.8 426 188.2 426.4 188.8 426.5 187.6 426.7 188.7 426.8 187.3 426.9 187.9 427.1 187.7 427.2 186.4 427.2 187.9 427.3 186.6 427.4 188.4 427.6 187.2 427.7 187.5 427.8 186.9 428 187.4 428.1 186.8 428.2 187.8 428.5 187.9 428.6 187.7 428.6 188 428.7 187.4 429 188.4 429.1 187 429.2 188.8 429.3 188.4 429.4 188.8 429.7 187.6 429.8 188.8 430 187.4 430.1 187.6 430.3 187.5 430.4 186.2 430.5 188.2 430.6 187.1 430.8 187.4 430.9 186.7 431 187.4 431 186.7 431.2 187.2 431.4 186.6 431.5 187.3 431.6 186.5 431.7 187.4 431.9 186.3 431.9 186.8 432 186.3 432.3 187 432.6 185.8 432.7 186.4 433 186.3 433.1 186.9 433.2 185.9 433.3 187.2 433.5 186 433.8 187 434.1 185.9 434.2 186.1 434.3 185.6 434.4 186.4 434.5 185.5 434.7 185 434.7 185.3 434.8 185 434.9 185.2 435 184.6 435.1 186.3 435.2 184.6 435.3 186.5 435.6 185.5 435.6 187.1 435.7 185.8 435.9 187.4 436.1 185.7 436.1 186.9 436.5 186.1 436.5 187.4 436.7 185.7 437 186.5 437 185.4 437.1 186.5 437.3 185.2 437.4 185.4 437.5 185.2 437.5 186.5 437.7 185.1 437.9 186 438 184.5 438.1 186 438.3 185 438.4 185.7 438.5 183.8 438.6 185.6 438.7 184.8 438.8 185.2 438.8 184.7 438.9 186.2 439.2 183.2 439.3 184.9 439.5 183.5 439.7 185.1 439.8 184.3 439.9 184.9 440 184 440.1 185.6 440.2 184.5 440.2 185.4 440.4 184.6 440.5 185.5 440.6 184.2 440.7 185.1 440.8 183.8 441 184.6 441.2 182.9 441.3 184.2 441.5 183.7 441.6 183.9 441.6 181.9 441.8 183.7 442 183.4 442.1 183.8 442.3 183.1 442.4 183.8 442.5 183.4 442.6 183.5 442.6 184.4 442.9 182.9 443 184.2 443.3 183.6 443.5 183.8 443.6 182.4 443.7 184.6 443.9 183.5 444 184.2 444 182.9 444.1 184.2 444.4 183.4 444.6 184.2 444.9 183.5 444.9 184.7 445 184 445.4 183.3 445.5 184.1 445.6 184 445.7 184.1 445.8 183.4 446 184.4 446.2 183.1 446.3 184.5 446.4 183.1 446.6 184.6 446.7 182.9 446.8 184 447.1 183.3 447.2 184.9 447.2 183.7 447.4 184.5 447.7 183.8 447.7 184 447.9 182.7 448 184.2 448.1 183.4 448.2 183.3 448.5 182.5 448.6 184 448.8 182.8 448.9 184.1 449.1 182.6 449.3 184.2 449.4 183.3 449.5 183.2 449.5 183.3 449.6 183 449.8 183.6 449.9 183.1 450 183.9 450 183 450.1 183.9 450.3 183.4 450.5 183.5 450.5 184.5 450.6 183.3 450.7 184.3 450.9 183.5 450.9 184.4 451 182.4 451.1 183.6 451.3 183.4 451.4 183.8 451.4 183.2 451.6 183.9 451.8 182.9 451.8 183.7 452 183.2 452.1 183.9 452.3 183.3 452.5 184 452.6 183.5 452.7 184.9 452.9 184.2 453 182.8 453.1 184.4 453.3 183.1 453.4 184 453.5 183.2 453.7 184 453.8 182.4 454.2 183.3 454.3 182 454.7 183.9 454.9 183.3 455 183.9 455.2 183.4 455.4 184.4 455.6 182.9 455.6 184.2 455.7 183.1 455.9 183.8 456 182.9 456.1 183.1 456.2 184.3 456.4 183 456.6 183.6 456.7 183.1 456.8 184.2 456.9 183.3 457 184 457 182.8 457.3 184.4 457.4 182.5 457.4 184.2 457.5 184.3 457.6 183.8 457.8 185 457.9 184.4 458 184.5 458.1 184 458.2 184.4 458.4 183 458.5 184.1 458.7 183.1 458.8 184.2 458.9 182.6 459.1 183.8 459.3 182.9 459.5 184.2 459.7 182.3 459.7 183.9 460 182.9 460.1 184.1 460.2 183.6 460.3 183.8 460.6 184.6 460.7 183.2 460.9 184.6 461.1 183 461.1 183.7 461.2 183.4 461.4 183.4 461.6 182.6 461.6 184.5 461.8 183 462 184.1 462.1 182.5 462.2 183.6 462.3 183 462.4 183.7 462.5 182.9 462.7 183.9 462.9 183.5 463 183.8 463 183 463.1 185.2 463.2 184 463.5 184.7 463.7 183.4 463.8 184.1 463.9 183.6 464.2 184 464.4 182.4 464.5 183.6 464.6 182.3 464.7 183.4 464.8 182.9 465.2 184 465.3 183.6 465.4 184.9 465.5 183.2 465.8 184.4 465.9 183.1 466 184.4 466.1 183.1 466.2 184.9 466.2 183.3 466.3 184.2 466.4 183.5 466.5 184.1 466.6 183.4 466.9 184.7 467.2 183.9 467.4 184.8 467.6 183.8 467.7 184.5 467.9 183 468 184.7 468.1 183.7 468.2 184.6 468.5 182.5 468.6 183.7 468.8 183.2 469 184.5 469.1 183.7 469.3 183.9 469.4 183.3 469.6 184.4 469.7 183.3 469.9 184.7 470 183.6 470.1 185.2 470.2 184.1 470.4 185 470.5 184 470.6 185.6 470.7 184.5 470.8 185.1 470.9 184.4 470.9 185 471.1 184.1 471.5 185 471.6 184.5 471.7 185.2 471.8 184.4 472 185.6 472.1 183.8 472.2 185.6 472.3 183.9 472.3 185.6 472.6 184.5 472.7 185.5 472.9 184.7 473 185.3 473.2 184.4 473.4 184.8 473.6 184.8 473.7 183.8 473.9 184.5 474 184 474.1 184.6 474.1 184.1 474.2 184.8 474.3 184.5 474.4 185.9 474.6 184.5 474.8 185.7 474.9 185.3 475 185.5 475.1 184.6 475.2 185.3 475.4 184.4 475.5 185.3 475.6 184.6 475.8 185.5 476 184.4 476.1 185.4 476.2 184.1 476.4 185 476.5 184.4 476.5 185.7 476.6 185 476.7 185.6 476.8 185.3 476.9 185.6 477 184.6 477.3 186.8 477.5 185.3 477.8 187.1 477.9 185.1 478.1 185.6 478.2 185.2 478.3 185.8 478.4 185.5 478.7 185.9 478.8 185.3 478.9 186.3 479.1 185.4 479.2 186.1 479.2 185.9 479.6 186.6 479.7 185.5 479.8 186.8 480.1 185 480.2 185.9 480.3 185 480.5 185.4 480.6 186.5 480.8 185.3 481 186.2 481.1 185.9 481.1 186.2 481.5 185.1 481.6 186 481.9 184.7 482.3 185.9 482.5 184.8 482.5 185.9 482.7 185.1 483 187.1 483.1 186 483.2 186.6 483.3 185.9 483.4 186.3 483.4 186 483.5 186.1 483.6 187 483.9 185.9 483.9 187 484.1 185.5 484.4 186 484.5 184.6 484.8 186.2 485 184.4 485.3 185.5 485.3 185 485.4 186.2 485.6 185.9 485.7 186.6 485.8 185.8 486 187.6 486.1 186.6 486.2 186.9 486.3 186.5 486.4 186.8 486.5 185.1 486.9 187.1 487.1 185.8 487.2 186.2 487.3 185 487.6 185.7 487.6 184.7 487.7 186 487.8 185.1 488 186.6 488.1 185.1 488.1 186.6 488.3 186.2 488.5 187.6 488.7 186 489 187.5 489.1 187.1 489.2 187.6 489.5 186.8 489.6 187.1 489.7 186.5 489.8 187.7 490.1 186 490.4 187.3 490.4 186.1 490.5 186.3 490.7 186 490.8 186.8 490.9 186.3 490.9 187.1 491 186.7 491.1 187.7 491.2 186 491.3 187.6 491.5 187.3 491.6 188.6 491.7 187.6 491.8 188 491.9 187.7 492.1 188.2 492.2 187.3 492.2 187.6 492.3 187.1 492.4 187.9 492.6 187.2 492.7 187.9 492.7 187.5 492.8 187.6 492.9 187.3 493 187.5 493.1 187.3 493.2 186.7 493.2 187.4 493.3 187.1 493.5 187.5 493.6 186.9 493.8 188.3 493.9 187.2 494 188 494.1 187 494.2 186.9 494.6 187.4 494.6 186.9 494.7 188 494.8 187.2 495 188.5 495.1 188.9 495.3 188 495.4 188.9 495.6 187.9 495.7 188.4 495.8 187 495.9 188.4 496 187.2 496 188.6 496.1 187.5 496.3 189.6 496.4 188 496.5 189.6 496.7 188.2 496.8 189.4 496.9 187.4 497.1 188.5 497.2 187.8 497.4 189.2 497.6 187.8 497.7 188.7 497.8 188.1 497.9 188.8 498.1 187.2 498.3 188.9 498.3 188.3 498.4 188.9 498.5 187.2 498.6 188.3 498.7 187.6 498.9 189 499.1 188.4 499.2 189.4 499.3 188.3 499.5 189.4 499.6 188.6 499.7 189.6 499.7 188.9 499.8 189.6 500.1 188.7 500.4 189.9 500.5 189.2 500.6 190.2 500.7 189.5 500.9 190.3 501 189.6 501.1 189.9 501.4 188.9 501.7 190.3 502 188.7 502.1 189.2 502.2 188.9 502.3 189.7 502.4 188.9 502.5 189.6 502.6 188.4 502.8 189.9 503 188.7 503.3 189.8 503.4 189 503.6 189.3 503.7 188 503.9 189.4 504.1 188.3 504.2 188.7 504.3 188.3 504.4 188.8 504.8 188.1 505 189.4 505.2 188.9 505.2 189.9 505.7 188.8 505.7 189.8 505.9 188.4 506.1 189.8 506.6 188.1 506.6 189.6 506.7 188.7 506.8 189.3 506.9 188 507 189 507.1 188.2 507.5 189.6 507.7 188.6 507.9 189 508 188.8 508 189.3 508.1 187.9 508.2 189.4 508.3 188.5 508.5 189.4 508.5 188.2 508.7 189.2 508.8 188.5 509.1 189.6 509.2 189.1 509.4 190.2 509.5 189.2 509.8 189.9 510 188.8 510.1 189.8 510.2 189 510.3 189.9 510.4 188.4 510.4 188.7 510.5 188.5 510.6 189.7 510.8 187.9 510.9 189.4 511.2 188.3 511.3 189.2 511.3 189 511.5 189.4 511.6 189.1 511.7 189.7 511.9 189.3 512 189.7 512.1 188.4 512.2 190 512.3 189 512.5 189.9 512.7 188.5 512.9 190.2 513.1 189.2 513.1 189.5 513.3 189 513.4 189.3 513.5 188 513.6 189.5 513.9 188.2 514.2 189.7 514.3 187.8 514.5 189.5 514.7 188.7 515 190 515.3 188.7 515.5 189.5 515.6 189 515.7 189.7 516.1 187.9 516.4 189.6 516.5 188.4 516.7 189.6 516.8 188.9 516.9 189.5 517 188.5 517.3 190.3 517.4 189.1 517.5 189.4 517.7 189.1 517.8 189.3 518 190.3 518.2 189.6 518.2 190 518.4 189.4 518.6 190.3 518.7 190.1 518.8 190.6 519.1 189.5 519.2 191 519.2 189.8 519.3 190.3 519.5 189.7 519.6 190.7 520 189.1 520.1 190.1 520.1 189.6 520.3 190.2 520.4 189.8 520.5 190.3 520.6 189.7 520.7 190.4 520.8 189.5 520.9 190.1 521 189.9 521.1 188.7 521.3 188.8 521.4 188.6 521.5 189.6 521.5 188.6 521.6 188.4 521.8 188.9 521.9 188.1 522 189.2 522.1 188.7 522.2 189.4 522.3 188.3 522.6 190 522.8 189.1 523 190.1 523.1 189.8 523.2 190.1 523.3 189.7 523.4 190.3 523.5 189.8 523.6 190.7 523.7 189.8 523.8 190.4 523.9 189.9 524 190.5 524.1 189.7 524.2 190.4 524.3 189.1 524.6 190.3 524.7 189 524.7 189.4 524.9 188.5 525.2 190.6 525.3 189.9 525.5 190.3" fill="none" stroke="#cd7a36" stroke-width="1.3" stroke-linejoin="round"/>
<path d="M381.5 172.5 381.6 172.9 381.9 172.3 382.2 172.8 382.6 172.8 382.7 173.3 382.9 173.2 383 173.4 383.1 173.2 383.1 173.4 383.7 172.2 383.8 172.7 384.1 172 384.3 172 384.4 171.8 384.5 172 384.5 171.7 385 172.4 385.2 172.2 385.3 172.6 385.4 172.2 385.7 172.7 386.4 172.4 386.8 171.8 387 172.1 387.1 171.6 387.2 172.2 387.3 171.6 387.7 172 387.8 171.6 387.8 171.7 388 171.5 388.2 171.7 388.2 171.4 388.4 171.6 388.6 171.2 388.8 171.5 388.9 171.3 389 171.6 389.1 171.1 389.2 171.3 389.2 171.1 389.3 171.5 389.5 171.1 389.6 171.3 389.7 171 390 171.4 390.3 171.4 390.4 171.3 390.6 171.5 390.6 171.3 390.7 171.7 390.9 171.5 391 171.7 391 171.3 391.3 171.2 391.4 171.5 391.5 171.3 391.7 171.6 391.9 171.4 392 171.8 392.1 171.6 392.2 171.9 392.4 171.7 392.5 171.9 392.6 171.6 392.7 171.8 393.5 170.8 393.8 170.9 393.9 170.7 394.2 171 394.3 170.8 394.4 171 394.5 170.7 394.8 171.1 394.9 170.9 395 171.1 395.2 171 395.4 170.4 395.5 170.5 396 169.8 396.2 170 396.3 170.4 396.5 169.9 396.6 170.3 396.6 170.1 397.2 170.9 397.5 170.4 397.6 170.6 397.7 170.4 397.8 170.5 398.1 169.5 398.4 169.4 398.7 168.7 398.9 168.7 399.1 168.1 399.4 168.2 399.9 167 400.8 162.8 401.2 156.9 402.6 112.9 403 106.5 403.2 105.3 403.7 113.3 405.1 151.2 405.6 159.1 406.1 163.2 407 166.3 407.6 166.7 408 166.3 408.1 165.9 408.2 166.1 408.4 165.5 408.6 166.1 408.7 165.9 408.9 166.3 409.6 167.9 409.7 167.7 410.1 169 410.2 169.2 410.5 169.2 410.5 169.8 410.6 169.3 410.8 169.6 411 169 411.1 169.1 411.3 168.8 411.4 168.9 411.9 167.4 413.1 158.1 413.4 156.5 413.6 156.5 415.1 170.2 415.8 173.5 415.9 173.2 416.1 173.7 416.2 173.4 416.3 173.7 416.5 173.5 416.6 173.7 416.7 173.2 416.9 173.5 417 172.9 417.4 172.4 417.5 172.7 418.2 172.3 418.3 172.5 418.8 172.4 418.9 172.7 419.2 172.3 419.3 172.8 419.5 172.7 419.6 173 419.7 172.8 419.8 173.2 420 172.9 420.1 173.4 420.2 173.1 420.3 173.4 420.4 173.2 420.5 173.4 421 172.9 421.1 173.1 421.7 172.8 421.9 172.5 422.1 172.9 422.2 172.5 422.5 173 422.6 172.8 423.2 173.4 423.4 173.1 423.5 173.6 424 172.9 424.1 173.3 424.2 172.9 424.5 173.5 424.6 173.3 425.1 173.6 425.3 173.3 425.5 173.5 425.8 173.3 426.1 173.7 426.2 173.5 426.3 173.5 426.4 173 426.7 173.1 426.8 172.9 426.8 173.1 427.2 172.7 427.2 173 427.4 172.5 427.5 172.8 427.7 172.5 427.9 172.7 428 172.4 428.1 172.9 428.2 172.8 428.3 173 428.5 172.8 428.6 173.1 428.8 172.9 429 173.3 429.1 173.1 429.1 173.5 429.2 173 429.6 173 429.9 172.6 430 173 430.1 172.9 430.5 173.3 431 172.4 431 172.6 431.3 172.4 431.4 172.7 431.4 172.3 431.7 172.5 431.8 172.3 432 172.9 432.2 172.6 432.3 172.9 432.3 172.6 432.8 172.7 432.8 172.5 432.9 172.8 433.1 172.3 433.4 172.2 433.5 172.5 433.7 172.2 433.9 172.5 434 172.3 434.1 172.7 434.2 172.5 434.2 172.7 434.3 172.3 434.6 172.5 434.7 172.2 435.3 172.8 435.4 172.4 435.6 172.9 435.6 172.6 435.8 172.7 436 172.6 436.1 172.9 436.4 172.5 436.5 172.8 436.7 172.7 436.8 172.9 437 172.7 437.1 172.9 437.4 172.5 437.5 172.6 437.5 172.2 437.7 172.1 437.8 172.4 437.9 171.8 438.3 171.9 438.4 171.6 438.6 172 438.8 171.6 439.2 172.1 439.3 172 439.4 172.1 439.6 171.9 439.7 172.2 439.8 171.8 439.8 172.2 439.9 171.9 440.2 172 440.3 171.7 440.7 171.8 440.8 171.5 441 171.6 441.5 170.9 441.6 171 442.1 169.4 442.1 169.5 442.5 167.6 444.4 148.3 444.5 148.5 444.6 148.4 444.9 150.1 445.8 161.6 446.6 166.9 447.7 170.6 447.9 170.8 448.1 170.6 448.3 171 448.5 170.6 448.6 170.7 449.1 171.4 449.2 171.4 449.3 171.7 449.4 171.6 449.6 172.2 449.7 172 450 172.3 450.1 172.1 450.3 172.4 450.8 171.9 450.9 172.4 450.9 172 451 172.2 451.1 172.1 451.3 172.4 451.4 172.2 451.8 172.5 451.9 172.1 452.1 172.6 452.3 172.3 452.5 172.6 453 171.7 453.2 171.9 453.3 171.8 453.6 172.2 453.7 171.7 454.1 172.2 454.3 172 454.6 172.3 455 171.6 455.3 171.3 455.8 171.3 455.9 171 456 171.5 456.5 171.8 456.5 172.1 456.7 171.9 456.9 172.3 457.1 172.1 457.4 172.2 458 171.8 458.2 172.1 458.3 171.9 458.5 172.1 458.8 172 458.9 172.5 459 172.2 459.3 172.5 460 171.8 460.4 172.1 460.5 171.9 460.6 172.1 460.7 172.1 460.8 171.7 461 171.9 461.1 171.5 461.1 171.8 461.4 171.6 461.5 171.7 461.6 171.5 461.8 171.6 461.9 171.3 462.1 171.6 462.9 169.6 463.5 167.2 464.4 159.8 465.1 156.2 465.4 156.6 465.7 157.9 467.1 167.7 467.8 170.1 468.1 170.4 468.2 170.8 468.4 170.6 468.6 170.9 468.8 170.6 468.9 170.9 469.2 170.7 469.3 171 469.5 170.9 470 171.6 470.1 171.3 470.2 171.8 470.4 171.6 470.5 171.9 470.9 171.9 470.9 171.7 471.1 172 471.8 172 471.9 172.5 472.2 172.3 472.3 172.5 472.4 172.4 472.5 172.5 472.7 172.2 472.8 172.7 473.3 172.7 473.4 172.9 473.5 172.7 473.6 173 474.1 172.5 474.2 172.6 474.4 172.4 474.5 172.5 474.6 172.1 474.6 172.2 474.9 172 475 172.2 475.1 171.9 475.2 172.3 475.3 172.1 475.7 172.6 475.8 172.4 476 172.9 476.7 172.2 477 172.8 477.1 172.3 477.3 172.8 477.4 172.6 477.8 173.2 478.1 173 478.2 173.1 478.3 172.9 478.4 173 478.6 172.6 478.8 172.8 478.9 172.4 479.2 172.7 479.2 172.4 479.3 172.6 479.4 172.5 479.5 172.8 479.7 172.4 479.9 172.8 480.2 172.4 480.4 172.6 480.6 172 481.1 172.5 481.2 172.3 481.7 173.2 481.9 172.8 482.1 173.1 482.2 173 482.6 172.9 482.7 173.2 483.5 173.3 483.8 172.9 483.9 173.2 483.9 172.9 484 173.2 484.3 172.9 484.8 173.1 485 172.6 485.1 172.8 485.2 172.4 485.3 172.8 485.4 172.5 485.5 172.7 485.6 172.5 485.7 172.7 485.7 172.4 486 172.5 486.1 172.3 486.2 172.8 486.2 172.5 486.3 172.8 486.4 172.6 486.6 172.6 486.8 173 487 172.8 487.1 172.9 487.2 172.6 487.3 173 487.4 172.8 487.8 173.4 488.1 173.2 488.2 173.4 488.3 173.1 488.8 173.2 489 173 489.1 173.3 489.4 173.1 489.5 173.3 489.6 173 489.8 173.3 490 172.9 490.4 173.2 490.5 172.8 490.6 173 490.8 172.7 490.9 172.7 491 173 491.2 172.7 491.3 173.1 491.3 172.7 491.8 173 491.8 172.7 492.5 172.5 493.6 171.2 493.6 171.5 493.9 171.3 494 171.6 494.2 171.5 494.9 172.4 495 172 495.2 172.6 495.4 172.5 495.9 173.1 496 172.7 496.5 172.8 496.8 172.6 497.4 173.6 497.6 173.5 497.7 173.8 498 173.5 498.2 173.7 498.3 173.3 498.3 173.5 498.7 173 498.8 173.2 499.2 173 499.4 173.4 499.5 173.1 500.1 173.9 500.1 173.7 500.5 173.7 501 173.3 501.2 173.7 501.4 173.4 501.7 173.3 501.8 173.6 502 173.2 502.2 173.2 502.3 173.4 502.4 172.9 502.6 173.1 502.7 172.7 502.8 173 503 172.9 503.2 173.5 503.4 173 503.5 173.4 503.7 173.3 503.8 173.5 503.9 173.2 504 173.4 504.1 173.2 504.3 173.5 504.3 173.3 504.8 173.3 504.8 173 504.9 173.4 505.4 173 505.7 173.2 505.9 173 506 173.1 506.1 172.6 506.2 172.9 506.3 172.6 506.5 172.8 506.6 172.3 507 172.6 507.2 172.6 507.3 172.9 507.4 172.7 507.6 172.7 508.5 171.1 508.8 171.1 509 170.8 509 171 509.2 170.5 509.3 170.7 509.6 170.2 509.9 170.4 510 170.2 510.2 170.5 510.3 170.1 510.5 170.5 510.6 170.2 510.7 170.5 511 170.2 511.7 171.7 512.1 171.6 512.5 172.3 512.6 172 513.4 172.7 513.7 172.3 513.9 172.6 514 172.3 514.4 172.2 514.5 172.4 514.5 172.1 515 172.4 515 172 515.4 172.1 515.5 171.9 515.5 172.1 515.6 171.7 515.9 172.4 515.9 171.9 516.1 172.1 516.2 171.9 516.3 172 516.8 171.6 516.9 172 516.9 171.8 517 172.2 517.4 172.5 517.7 173.3 517.8 172.7 518.1 173.3 518.2 173 518.2 173.3 518.3 172.8 518.5 173.4 518.8 173.3 519.1 173.8 519.4 173.6 519.5 173.9 519.6 173.5 519.9 173.9 520.2 173.6 520.5 174.1 520.8 173.6 520.9 173.8 521 173.4 521.4 173.6 521.5 173.4 521.7 173.8 521.9 173.5 522.2 173.6 522.4 174.2 522.4 173.8 522.7 173.8 522.8 174.1 522.9 173.8 522.9 174 523.1 174 523.2 173.7 523.8 174.3 523.9 174.1 524 174.3 524.1 174.1 524.3 174.3 524.3 173.9 524.4 174.4 524.6 173.8 524.9 173.7 525 173.9 525.1 173.7 525.2 174.3 525.4 174.1 525.5 174.4" fill="none" stroke="#2eb02e" stroke-width="1.3" stroke-linejoin="round"/>
<path d="M381.5 156.8 381.9 156.7 382.4 156.9 382.7 156.4 382.9 156.7 383 156.6 383.1 157 383.1 156.6 383.6 157 383.7 156.5 383.9 157.1 384.1 156.7 384.3 156.8 384.4 156.5 384.7 156.9 384.8 156.6 385 156.8 385.1 157 385.2 156.7 385.4 157 385.5 156.7 385.6 157.1 385.7 156.6 385.8 157.1 385.9 156.8 386 157.2 386.2 157 386.4 157.4 386.7 157 386.9 157.2 387 157 387.3 157.1 387.3 156.6 387.6 156.8 388 156.2 388.1 156.5 388.2 156.3 388.5 156.4 388.7 155.9 389.1 156.3 389.8 156.1 389.9 155.9 390 156.2 390.3 156.2 390.4 156.5 390.5 156.4 390.6 156.6 390.8 156.5 391 156.6 391 156.5 391.1 156.8 391.3 156.3 391.4 156.5 391.6 155.9 391.8 155.9 391.9 155.5 391.9 155.8 392.2 155.5 392.4 155.7 392.5 155.5 392.6 155.9 392.7 155.6 392.9 156.1 393 156.2 393.1 156 393.3 156.4 393.7 156.1 393.8 156.4 393.9 156 394.3 155.7 394.6 155.9 394.7 155.6 394.9 155.9 395 155.6 395.2 155.9 395.5 155.8 395.7 155.4 395.7 155.6 396 155.2 396.1 155.5 396.2 155.2 396.3 155.5 396.4 155.2 396.6 155.5 396.7 155.4 396.8 155.5 396.9 155.2 397.1 155.4 397.1 155.1 397.2 155.4 397.5 155.1 397.9 155.2 398 154.8 398 155.1 398.1 154.8 398.6 154.7 398.7 154.4 398.9 154.3 399.6 152.8 399.8 152.8 399.9 152.5 400.4 150.5 400.7 148.3 401.3 138.9 402.7 96.4 403.1 90.1 403.4 91.6 403.7 98 404.9 133.6 405.8 145.8 406.3 149.4 406.9 152 407 151.6 407.2 152.1 407.3 151.9 407.5 152.1 408.1 150.5 408.2 150.7 408.3 150.2 408.5 150.4 408.6 150.1 409.3 153 410.1 154.7 410.1 154.6 410.4 155.1 410.5 154.9 410.6 155.2 410.8 154.6 411 154.7 411.1 154.3 411.2 154.6 411.3 154.2 411.5 154 411.6 154.2 412 152.7 413.4 141.2 413.7 141.5 413.9 143.2 415 152.5 415.7 155.6 416.1 156.2 416.1 156.1 416.3 156.3 416.4 156 416.6 156.2 416.9 155.6 417.1 155.5 417.2 155.9 417.5 155.8 417.7 156.5 417.9 156.3 418.3 156.9 418.8 156.9 418.9 157.2 419.2 157 419.4 157.1 419.6 157.6 419.9 157.3 420 157.6 420.3 157.4 420.4 157.7 420.5 157.5 420.7 157.7 420.7 157.1 420.8 157.4 421 157.3 421.2 157.4 421.3 157.1 421.4 157.4 422.1 156.8 422.6 157.1 422.8 156.9 423 157.1 423.1 157 423.2 157.3 423.3 157.1 423.5 157.2 423.7 157.6 424 157.1 424.1 157.7 424.5 157.4 424.6 157.7 425 157.4 425.1 157.7 425.8 157.1 425.9 156.5 426 156.8 426.2 156.5 426.3 157 426.3 156.6 426.6 156.6 426.7 157 426.8 156.6 427 157.1 427.2 156.8 427.4 157.1 428.3 156.8 428.4 157.1 428.6 156.9 428.7 157 428.9 156.9 429 157 429.2 157 429.3 157.3 429.4 157.2 429.5 157.5 429.7 157.5 429.8 157.8 429.9 157.5 430.3 157.8 430.4 157.6 430.5 157.9 430.7 157.8 430.9 158.2 431 157.9 431.1 158 431.4 157.9 431.4 157.5 431.5 157.7 431.7 157.3 431.9 157.5 432.1 157.1 432.3 157.4 432.6 157 432.8 157.4 433.1 157.4 433.2 157.2 433.4 157.4 433.6 157.1 433.8 157.5 434 157.2 434.1 157.3 434.4 156.9 434.9 157.4 435 157.2 435.1 157.4 435.4 157.1 435.5 157.5 435.9 157.1 436 156.5 436.1 156.9 436.2 156.5 436.3 156.7 436.5 156.4 436.6 156.9 436.7 156.3 436.9 156.9 437.5 156.3 437.6 156.6 437.8 156.4 437.9 156.9 438 156.6 438.2 157 438.4 156.6 438.8 156.9 438.9 156.1 439.3 156.3 439.5 155.8 439.6 156.2 439.8 155.8 439.9 156.1 440.1 156 440.2 156.3 440.2 156 440.3 156.2 440.5 156.1 440.6 156.4 440.7 155.8 440.7 156.3 440.8 155.7 441.1 155.7 441.3 155.2 441.5 155.2 441.8 154.4 442.6 150.9 443.1 145.1 444.2 128 444.5 126.8 444.9 128.7 445.9 145.1 446.7 151.8 447 153.5 448.1 156.4 448.2 156 448.6 156.7 448.7 156.6 448.9 156.8 449 156.5 449.5 157.2 449.6 157 449.7 157.2 449.8 156.9 450 157.2 450 157 450.4 157 450.6 156.7 451.2 156.9 451.4 157.2 451.5 157 451.9 157.3 452.1 157 452.2 157.2 452.4 157.1 452.8 157.6 452.8 157.3 453.6 157 454.1 157.5 454.2 157.3 454.4 157.5 454.6 157.1 454.7 157.6 455.1 156.9 455.2 157.5 455.4 157.3 455.8 157.7 456 157.3 456.4 157.7 456.5 157.2 456.7 157.2 457 156.8 457.3 157 457.7 157 457.8 157.2 457.9 156.9 457.9 157.3 458.3 156.7 458.5 156.9 458.8 156.8 458.8 157 458.9 156.9 459.1 157.1 459.3 157 459.3 157.2 459.4 156.9 459.5 157.1 459.7 156.6 459.8 156.8 460.1 156.5 460.3 156.8 460.4 156.5 460.8 156.9 461.1 156.8 461.3 156.4 461.5 156.7 461.6 156 461.7 156.2 462.4 155.1 463.3 152.8 464 146.6 464.7 138.6 465.1 136.3 465.3 136.8 465.5 137.8 466.9 151.7 467.8 155.6 468.1 155.7 468.3 156.2 468.5 155.9 468.6 156.1 468.7 155.9 469.1 156.1 469.3 155.8 469.5 155.9 469.6 155.7 469.7 155.9 469.8 155.2 470.1 155.4 470.4 154.7 470.6 154.9 470.7 154.4 470.9 154.6 470.9 154.3 471.8 156.3 472.5 157.5 472.7 157.3 472.7 157.5 472.8 157.2 473.4 156.9 473.7 157.3 473.7 156.9 474.1 157.5 474.6 157.5 474.9 157.2 475 157.5 475.1 157.2 475.2 157.5 475.3 157.3 475.6 157.6 475.7 157.3 475.8 157.8 476 157.6 476 157.9 476.5 158.4 476.8 158 476.9 158.3 476.9 158 477.3 158.5 477.6 158.3 477.8 158.7 477.8 158.4 478 158.6 478.1 158.2 478.9 158.3 479 158.1 479.2 158.3 479.4 158 479.8 158 479.9 158.3 480 157.8 480.1 158.1 480.2 157.8 480.2 158 480.6 157.8 481 158.1 481.1 157.6 481.1 157.9 481.2 157.8 481.6 158 482 158.5 482 158.2 482.2 158.7 482.4 158.2 482.5 158.5 482.7 158.1 482.9 158.1 483 157.9 483.2 158.1 483.3 157.9 483.8 158.5 484 158 484.2 158.2 484.3 157.8 484.3 158.2 484.7 157.8 485 158.2 485.3 157.7 485.3 157.8 485.6 157.6 485.7 157 486.1 156.9 486.4 157.4 486.5 157.2 486.7 157.9 486.7 157.6 486.9 157.8 487 157.5 487.1 157.7 487.4 157.7 488.1 158.4 488.3 158.2 488.5 158.7 488.7 158.2 489 158.3 489 158 489.1 158.3 489.4 157.6 489.6 157.9 489.8 157.4 489.9 157.7 490 157.6 490.9 158.3 491.1 157.9 491.3 158 491.4 157.7 491.8 157.8 491.9 157.5 492 157.7 492.2 157.4 492.3 157.7 492.5 157.6 492.7 157.2 492.9 157.4 493.2 156.8 493.2 157 493.5 156 493.7 156.1 493.9 155.8 494.3 156.1 494.4 155.9 494.5 156.1 494.6 156 494.9 156.4 495.2 155.9 495.4 156.1 495.5 155.9 495.5 156.2 495.7 155.9 495.8 156.1 496 155.9 496.2 156.1 496.4 156.8 496.7 156.8 496.9 157.2 496.9 157.1 497.3 157.7 497.6 157.8 497.8 158.4 498.1 158.3 498.2 158.6 498.3 158.2 498.5 158.4 498.6 158.1 499.1 157.5 499.2 157.8 499.3 157.5 499.7 157.5 499.8 157.8 499.9 157.6 500.2 158.3 500.3 158.2 500.5 158.4 500.7 158.1 500.9 158.2 501 158 501.1 158.1 501.3 157.9 501.5 158.1 501.6 157.7 501.9 158.1 502.1 158 502.2 158.2 502.5 157.9 502.5 158.2 502.6 157.9 502.8 158.3 502.9 157.8 503.3 157.8 503.4 157.6 503.6 157.8 503.8 157.6 503.9 157.8 504 157.6 504.6 158.2 504.7 157.9 504.9 158.2 505 157.9 505.3 158.1 505.4 157.7 505.7 158.1 505.8 157.8 506 158 506.2 157.4 506.4 157.6 506.5 157.2 506.6 157.4 506.8 157.3 506.9 157.1 507 157.4 507.1 157.2 507.1 157.3 507.4 157.1 507.5 157.3 508 155.7 508.6 154.6 508.8 154.8 508.9 154.5 509 154.6 509 154.2 509.3 154.4 509.4 154.1 509.5 154.3 509.6 153.9 509.8 154.2 509.9 154 510.4 153.9 510.5 154.2 510.7 154.1 510.8 154.4 510.8 154.3 510.9 154.7 511.1 154.6 511.3 154.8 511.5 155.3 512 155.5 512.3 156.2 512.6 156.1 512.9 156.5 513 156.3 513.3 156.7 513.4 156.3 513.5 156.7 513.6 156.6 513.8 156.8 514 156.6 514.1 157.3 514.3 156.9 514.5 157.4 514.6 156.9 515 156.9 515.2 156 515.3 156.4 515.5 155.9 515.6 156.3 515.7 156 515.9 156.1 516.2 156.7 516.6 156.5 516.7 156.7 516.8 156.5 516.9 156.7 517.1 156.4 517.2 156.7 517.3 156.3 517.6 156.5 517.7 156.2 518 157.1 518.2 157.2 518.3 157.1 518.5 157.5 518.7 157.3 518.9 157.4 519.1 157 519.2 157.4 519.3 157.3 519.5 157.6 519.6 157.2 519.6 157.9 520 157.4 520.1 158 520.1 157.5 520.2 157.6 520.3 157.4 520.5 157.6 520.6 157.4 520.9 157.7 521 157.6 521 157.8 521.1 157.5 521.5 157.6 521.5 157 521.7 157.1 521.8 157.5 522.1 157.2 522.4 158 522.5 157.7 522.6 157.9 522.7 157.8 523 157.9 523.4 157.5 523.5 157.7 524 157.4 524.2 157.6 524.3 157.2 524.7 157.7 524.8 157.3 525.1 157.9 525.2 157.7 525.5 157.9" fill="none" stroke="#2aa4a4" stroke-width="1.3" stroke-linejoin="round"/>
<path d="M381.5 140.3 381.7 140.2 381.8 140.7 381.9 140.5 382.2 141.1 382.2 140.7 382.3 141 382.4 140.6 382.5 141 382.7 140.6 382.7 140.9 382.9 140.7 383 141 383.1 141.1 383.2 140.9 383.9 141.7 384.1 141.4 384.4 141.8 384.7 141.4 384.8 141.9 385 141.2 385.1 141.3 385.2 140.9 385.4 141.2 385.6 140.8 385.9 140.8 386 140.5 386.4 140.6 386.5 140.9 386.7 140.6 386.8 141.3 387 141 387.1 141.2 387.4 141.3 387.7 141 387.8 141.1 388.1 140.7 388.2 141.1 388.2 140.7 388.3 141 388.4 140.8 388.6 141 388.7 140.4 389.2 140.9 389.3 140.6 389.4 140.8 389.5 140.6 389.6 140.7 389.7 140.4 389.9 141 390 140.8 390.4 141.1 390.6 140.9 390.8 141.2 391 140.8 391 141.1 391.1 140.8 391.4 141.2 391.5 140.8 391.7 141.1 391.8 140.6 391.9 140.8 392.4 140.3 392.5 140.6 392.6 140.4 392.7 140.6 393 140.3 393.1 140.4 393.4 140 393.5 140.3 393.6 139.9 393.7 140.1 393.8 139.9 393.8 140.2 393.9 140 394.4 140.4 394.8 140.2 394.9 140.5 395 140.1 395.1 140.4 395.2 140.1 395.2 140.2 395.4 140 395.6 140.2 395.8 139.9 395.9 140.2 396.2 139.7 396.3 140 396.4 139.7 396.6 140 396.8 139.4 396.9 139.7 397.2 139 397.5 139.2 397.6 139 397.8 139.4 397.9 139.2 398 139.3 398.3 138.8 398.6 138.8 399.3 137.4 399.4 137.7 399.6 136.6 399.7 136.8 400.3 133.6 400.5 130.9 401.1 120.1 402.6 51.1 403 42.7 403.4 51.5 404.6 106.2 405.5 127.3 406.2 133.2 406.8 134.6 407.1 134.8 407.2 134.7 408 130.3 408.2 129.7 408.4 130 409.6 138 409.8 138.8 409.9 138.5 410.1 139.2 410.5 139.6 410.5 139.5 410.7 139.7 411 139.5 411.1 140 411.6 139.1 411.8 138.1 413 122.7 413.3 121.2 414.5 135.9 414.8 138.6 415.5 140.9 415.6 140.7 415.6 140.9 415.7 140.4 415.8 141 415.9 140.8 416 140.9 416.1 140.8 416.2 140.9 416.5 140.7 416.6 141.2 416.8 141.5 417 141.2 417.3 141.7 417.5 141.5 417.6 142.1 417.7 141.8 417.8 142.2 418 141.9 418.1 142.6 418.3 142.2 418.4 142.3 418.5 142.9 418.7 142.2 418.8 142.7 418.9 142.4 419.2 142.7 419.3 142.4 419.4 142.6 419.6 142.3 420.1 142.8 420.2 142.4 420.7 142.7 420.9 142.2 421.1 142.7 421.5 142.3 421.7 142.5 421.9 142.2 422.1 142.3 422.5 141.6 422.8 142 423 141.9 423.1 142.1 423.1 141.9 423.2 142.2 423.5 142.2 423.6 142 424 142.4 424.1 142.2 424.3 142.7 424.4 142.4 424.5 142.7 424.5 142.6 424.9 142.9 425 142.7 425.2 142.9 425.8 142.3 426.1 142.6 426.2 142.3 426.3 142.6 426.3 142.4 426.6 142.7 426.8 142.5 426.9 142.9 427 142.5 427.2 143 427.2 142.8 427.6 142.8 428.2 143.2 428.5 142.7 428.6 143 429.1 142.5 429.2 142.9 429.4 142.3 429.5 142.8 429.6 142.9 429.7 142.6 429.9 143 430 142.9 430.2 143.1 430.3 143.4 430.4 143.1 430.7 143.3 430.8 142.9 430.9 143.3 431 142.9 431.4 143 431.5 143.4 431.6 143.1 431.9 143 432.1 143.2 432.4 142.7 432.5 143.1 432.8 142.5 432.8 142.6 433.1 142.4 433.5 142.9 433.7 142.5 433.9 142.9 434 142.6 434.2 142.8 434.6 142.4 434.7 142.7 435 142.6 435.1 142.9 435.2 142.7 435.4 143.2 435.5 142.6 435.6 143 436.1 142.5 436.1 142.7 436.3 142.2 436.5 142.5 436.6 142.4 436.7 142.8 437 142.3 437 142.6 437.3 142.5 437.5 142 437.5 142.2 437.9 142 438 142.2 438.1 142.1 438.2 142.5 438.4 142.4 438.6 142.7 439 142.3 439.3 142.5 439.3 142.2 439.7 142.8 439.8 142.5 440.1 142.8 440.2 142.4 440.5 142.6 442 138.7 442.5 134.8 443.1 125.2 443.9 109.8 444 107.2 444.3 106.2 444.7 109.8 445.5 125.9 446.3 135.8 446.9 139.1 447.2 139.4 447.5 140.6 447.8 140.3 448.2 141.2 448.3 141.1 448.5 141.2 448.6 141.5 448.6 141.3 449 141.2 449.1 141.6 449.2 141.4 449.5 141.7 449.5 141.6 449.8 142.1 449.9 141.4 450 141.8 450.3 141.3 450.7 141.5 450.8 141.2 450.9 141.8 451.2 142.1 451.3 141.9 451.4 142.4 451.5 142.3 451.9 142.4 452.1 142.1 452.4 142.5 452.7 142.2 452.8 142.3 452.8 142 453 142.2 453.2 141.9 453.3 142.1 453.5 142 454 140.9 454.1 141.2 454.5 141 454.6 141.4 454.8 141.1 454.9 141.6 455.1 141.5 455.4 141.9 455.6 141.8 455.6 142 455.7 141.8 455.8 142.1 455.9 141.9 456.2 142.4 456.5 142.1 456.5 142.5 456.7 142.2 456.8 142.5 457.1 142.3 457.2 142.4 457.4 142.4 457.4 142.6 457.7 142 457.9 142.3 457.9 142 458 142.4 458.1 142.1 458.3 142.1 458.4 141.8 458.5 142.3 458.6 141.9 458.7 142.4 458.8 142.1 458.9 142.6 459 142.1 459.2 142 459.4 142.3 459.5 141.6 459.7 142 459.8 141.7 460.2 142.1 460.2 141.6 460.6 142.1 460.7 141.9 460.7 142.1 460.8 141.8 461.1 142.1 461.2 141.7 461.3 141.9 461.4 141.6 461.6 141.6 462.5 138.1 463.4 132.6 464.8 117.1 465.1 115.8 465.4 118 466.8 135.3 467.6 138.9 468.6 140.7 468.6 140.4 468.7 140.8 469 140.8 469 140.5 469.1 140.7 469.2 140.3 469.5 140.2 470 138.5 470.1 138.6 470.3 138.2 470.4 138.3 470.4 138 470.5 138.1 470.7 137.6 471.8 140.9 471.9 140.8 472.8 142.6 473.2 142.6 473.7 141.9 474 142.5 474.3 142.4 474.6 142.9 474.6 142.6 474.9 142.7 475 142.5 475.3 143 475.4 142.6 475.7 142.9 476 142.4 476 142.6 476.1 142.2 476.4 142.2 476.7 142.4 476.8 142.2 476.9 142.5 477 142.4 477.1 142.5 477.3 142.4 477.4 142.7 477.4 142.3 477.6 142.8 477.7 142.3 477.8 142.9 477.9 142.3 478.2 142.5 478.3 142.3 478.4 142.7 478.5 142.5 478.8 142.8 478.8 142.6 479.3 142.8 479.4 142.5 479.8 143 480 142.6 480.1 143 480.2 142.7 480.3 142.9 480.5 142.5 480.6 142.8 480.8 142.6 481.1 142.9 481.3 142.6 481.5 143.1 481.6 143 481.7 143.3 482 143.1 482.3 143.3 482.6 142.7 482.7 142.9 483.1 142.7 483.8 143.3 483.9 143.2 484.2 143.3 484.3 142.9 484.5 143.1 484.6 142.5 484.7 142.8 484.8 142.6 484.8 143 484.9 142.8 485.3 142.9 485.4 142.6 485.8 143.3 486 143 486.2 143.4 486.2 143.1 486.7 143.5 487.5 142.6 487.6 142.8 487.7 142.3 487.8 142.4 488.1 142.2 488.3 142.6 488.5 142.5 488.9 143.4 489 143.1 489 143.3 489.1 143.2 489.2 143.3 489.3 143 489.5 143.2 489.6 142.9 489.8 143.1 490.4 142.5 490.7 143 490.9 142.8 491.1 143 491.3 142.7 491.4 143 492.1 142 492.2 142.2 492.2 141.7 492.6 141.8 492.7 141.5 493.1 142 493.3 141.6 493.4 141.8 493.6 141 493.8 140.8 493.9 141 494.2 140.2 494.4 140.5 494.6 140.5 495.3 141.6 495.4 141.3 495.5 141.6 495.5 141.5 496 141.7 496.9 143.5 497.1 143.3 497.4 143.5 497.5 143.3 497.6 143.5 497.8 142.6 498.5 142.1 498.8 143 499 142.7 499.2 143.1 499.6 142.9 499.8 143.2 500.6 142.4 500.8 142.5 501 142.3 501.7 143 501.8 143.3 501.9 143.1 502.3 143.2 502.4 143.1 502.5 143.4 502.6 142.9 502.8 143 502.9 142.7 503.3 142.8 503.4 143.1 503.5 142.8 503.7 143.1 503.8 142.9 503.9 142.9 504.1 143.3 504.2 143.2 504.3 143.4 504.3 143.2 504.7 143.6 504.8 143.2 505 143.5 505.2 143.2 505.2 143.5 505.5 143.2 505.6 143.3 505.7 142.9 506.4 142.6 507 141.5 507.1 141.9 507.1 141.7 507.2 141.9 507.3 141.5 507.4 141.7 508.5 139.4 508.8 139.7 508.9 139.3 509 139.5 509.4 138.9 510 138.9 510.1 138.6 510.3 139 510.4 138.6 510.8 139.4 511.3 140 511.4 139.9 511.7 140.6 511.9 140.4 512 140.9 512.3 141.1 512.5 140.8 512.7 141.2 512.7 140.9 513 141.5 513.1 141.3 513.2 141.6 513.3 141.1 513.4 141.7 513.6 141.5 513.6 141.7 513.7 141.6 514 141.7 514.1 141.5 514.2 141.8 515 140.8 515.1 141.1 515.5 140.4 515.9 141 516.1 140.8 516.2 141.1 516.4 140.7 516.4 141 516.6 140.9 516.7 141.1 516.9 140.9 517 141.1 517.3 141 517.4 141.4 517.6 141.1 517.8 141.6 518 141.8 518.1 141.7 518.4 142.3 518.5 142.2 518.7 142.5 519.1 142.7 519.2 142.5 519.3 143 519.5 142.7 519.6 142.9 519.7 142.7 520 143 520.1 142.7 520.1 143.1 520.2 142.8 520.6 142.9 520.7 142.5 521 142.8 521 142.5 521.2 142.6 521.9 143.9 522 143.4 522 143.6 522.1 144 522.2 143.5 522.3 143.7 522.5 143.5 523.1 143.7 523.3 143.4 523.4 143.7 523.4 143.3 523.6 143.7 523.8 143.2 524.1 143.6 524.3 143.3 524.3 143.6 524.4 143.3 524.7 143.7 524.8 143.7 524.9 143.3 525 143.9 525.1 143.3 525.2 143.6 525.5 143.1" fill="none" stroke="#2b2ba6" stroke-width="1.3" stroke-linejoin="round"/>
<path d="M381.5 113.9 381.6 114.2 381.7 114 381.9 114.3 382 114.2 382.1 114.5 382.2 114.3 382.3 114.6 382.4 114.4 383 114.9 383.1 114.6 383.4 115.1 383.5 114.9 383.8 115.3 383.9 115 384 115.2 384.2 115.1 384.4 115.3 384.5 115 384.6 115.2 385 115 385.2 115.5 385.3 115.4 385.5 115.6 385.6 115.5 385.9 115.9 385.9 115.5 386 115.7 386.2 115.8 386.4 115.6 386.4 115.8 386.5 115.6 386.7 115.8 386.8 115.4 386.8 115.8 387 115.9 387.1 115.7 387.6 116.6 387.8 116.5 388.1 116.8 388.2 116.6 388.2 116.9 388.3 116.7 388.4 116.9 388.5 116.5 388.7 116.8 388.8 116.7 389 117 389.1 116.9 389.2 117.1 389.3 117.1 389.4 117.4 389.5 117.2 389.6 117.6 389.8 117.5 390.1 117.9 390.3 117.9 390.6 118.4 390.6 118.1 390.8 118.2 391 118.8 391.1 118.4 391.5 118.9 391.9 118.7 391.9 118.9 392.1 118.5 392.4 119.1 392.7 118.7 392.9 119.1 393.2 118.6 393.3 118.7 393.8 118.4 394 118.7 394.1 118.4 394.2 118.7 394.3 118.5 394.4 118.9 394.5 118.6 394.8 119 395.1 118.8 395.3 119.2 395.5 119 395.6 119.3 395.7 119.1 395.8 119.4 396 119 396.4 119.5 396.7 119.2 396.8 119.4 396.9 119.2 397 119.3 397.1 118.8 397.2 119.1 398.3 116.6 398.5 116.7 398.8 117.8 398.9 117.5 399 118.1 399.3 118.3 399.5 117.9 399.7 117.9 400.4 116.3 400.8 114.9 401.2 108.2 401.6 94.5 402.5 21.1 402.7 28 403.6 82.1 404.2 100.9 404.8 110.9 405.3 115.7 405.9 118.6 406.3 119.1 406.5 118.8 407.3 114.3 407.7 113.5 408.9 121.1 409.1 121.2 409.2 121 409.5 121.6 409.7 121.4 410.4 123.1 410.5 123 410.6 123.2 410.7 123 410.9 123.2 411.1 123 411.5 121.4 412.5 108.9 412.8 106.8 413.8 118.3 414.5 122.5 414.7 123.2 414.9 123.5 415.2 123.4 415.2 123.8 415.3 123.4 415.4 123.8 415.6 123.4 416.1 124.2 416.2 123.8 416.5 124.3 416.6 123.9 416.9 124.6 417 124.4 417.5 124.9 417.6 125.5 417.8 125.2 418 125.9 418 125.7 418.4 126.2 418.5 126 418.8 126.1 419.3 127 419.6 126.7 419.7 127.1 420.3 126.1 420.4 126.5 420.6 125.9 421 126.6 421.3 126.4 421.7 126.7 421.9 126.6 422.1 126.9 422.2 126.6 422.4 127.2 422.5 126.8 422.6 127.1 422.8 126.7 423.1 126.5 423.2 126.7 423.3 126.5 423.4 126.7 423.5 126.4 423.8 126.8 424.1 126.7 424.3 127.2 424.4 127.1 424.5 127.3 424.6 127.1 424.9 127.4 424.9 127.1 425 127.2 425.3 127.1 425.4 127.4 425.6 127 425.8 127 425.9 127.2 426.3 127.1 426.5 127.3 426.7 127.2 426.8 127.6 426.8 127.4 427 127.6 427.1 127.3 427.2 127.5 427.4 127.1 427.7 127.5 428.1 127 428.3 127.5 428.5 127.2 428.7 127.3 428.8 127.7 429.1 127.4 429.2 127.5 429.3 127.2 429.6 127.8 429.6 127.4 429.7 127.7 430 127.6 430.2 128 430.3 127.6 430.7 127.4 430.9 127 431 127.2 431 127 431.2 127.2 431.3 126.9 431.8 127.4 431.9 127.3 432 127.7 432.2 127.6 432.4 128 432.6 127.8 432.7 128.1 433.2 127.2 433.5 127.3 433.6 127.6 433.7 127.2 433.7 127.6 433.8 127.4 433.9 127.6 434 127.4 434.1 127.8 434.2 127.4 434.3 127.7 434.7 127.4 434.9 127.6 435 127.4 435.4 128.1 435.5 127.9 435.6 128.2 435.7 128 435.8 128.3 436 128 436.1 128.3 436.5 127.9 436.5 128.2 436.7 127.7 437.1 127.4 437.2 127.6 437.3 127.3 437.4 127.5 437.7 127.1 437.9 127.3 438 126.9 438.1 127.1 438.2 126.8 438.4 127.1 438.4 126.8 438.7 126.8 438.9 127.1 439.1 126.5 439.2 126.8 439.4 126.6 439.6 126.8 439.8 126.5 439.8 126.7 440.2 126.3 440.2 126.6 440.3 126.3 440.4 126.6 440.6 126.3 440.7 126.5 440.8 126.3 440.9 126.6 441.2 125.9 441.3 126.1 441.8 124.4 442.3 120.3 443.9 80.9 444.3 86.1 445.4 110.7 446.3 121.3 446.9 124.8 447 124.4 447.5 126.1 447.6 125.8 448.1 126.6 448.2 126.4 448.3 126.6 448.6 126.5 449.1 127.7 449.2 127.2 449.3 127.7 449.6 128 449.7 127.5 450 128.1 450.2 127.8 450.3 128 450.5 127.6 450.5 127.9 450.6 127.6 450.7 127.8 450.9 127.7 451 127.5 451.1 127.7 451.7 127.4 451.8 127.6 451.9 127.3 452.1 127.5 452.2 127.2 452.3 127.5 452.6 127.4 452.8 126.9 452.8 127.1 453.1 127 453.7 126.1 454.9 128 455.1 127.6 455.1 127.8 455.4 127.7 455.6 127.9 455.7 127.7 455.8 127.9 455.9 127.7 456.6 127.6 456.7 127.9 457 127.4 457 127.7 457.1 127.6 457.3 127.8 457.4 127.5 457.6 128.1 458.6 126.9 458.7 127.1 459 126.9 459.3 127.2 459.3 127 459.4 127.3 459.9 127.6 460 127.9 460.1 127.4 460.2 127.5 460.5 126.7 460.6 126.8 461.4 123.8 462.3 116.3 462.8 117.3 463 116.5 463.9 92.3 464.2 95.8 464.8 118.2 465.2 122.9 465.8 125.8 466 125.7 466.3 126.6 466.6 126.4 466.7 126.8 466.7 126.5 467 127 467.2 126.9 467.3 127.5 467.7 127.2 467.8 127.4 468.3 126.6 469.5 120.9 469.8 121.7 470.4 125.6 470.8 127 470.9 126.9 471 127.2 471.3 126.7 471.7 127.1 471.8 126.9 472 127.5 472.1 127.2 472.3 127.5 472.5 127.2 472.8 127.4 472.9 126.8 473.2 126.9 473.4 127.3 473.7 127.2 474 127.5 474.2 127.5 474.6 126.9 474.7 127.2 475.3 126.1 476 127.2 476.1 127.6 476.2 127.4 476.8 128.1 476.9 127.7 476.9 127.9 477.2 127.6 477.4 127.8 477.7 127.2 477.9 127.3 478.1 127.1 478.3 127.4 478.3 127 478.4 127.4 479.1 127.5 479.2 127.7 479.3 127.4 479.7 127.6 479.9 127.3 480.1 127.7 480.2 127.3 480.6 128.4 480.7 128.1 481 128.3 481.1 128 481.2 128.3 481.7 127.6 481.8 127.8 482 127.6 482.1 127.9 482.2 127.6 482.5 127.9 482.6 127.7 482.7 128.1 482.9 127.8 483 128.2 483.2 127.7 483.3 128 483.4 128 483.9 127.5 483.9 127.7 484.5 127.2 484.6 127.5 484.7 127.4 485 127.8 485.1 127.5 485.2 127.8 485.3 127.6 485.7 128 485.8 127.5 486.3 128.1 486.5 127.6 486.7 128.1 486.8 127.9 487.1 128 487.2 127.9 487.4 128.2 487.7 127.9 488.1 128 488.3 127.8 488.4 127.5 488.5 127.8 488.5 127.7 488.6 127.9 488.9 127.4 489 127.7 490.3 124.8 490.4 125.1 490.7 125 490.9 125.7 491 125.5 491.1 125.8 491.3 125.8 491.3 126.2 491.5 125.8 491.7 126.1 491.8 125.9 491.9 126.3 492 126.1 492.2 126.3 492.3 126.2 492.7 125.5 493.1 123.6 493.2 123.7 493.5 123.1 493.6 123.4 493.7 123.3 494.6 126.8 495.1 127.4 495.6 127.3 495.7 126.8 495.8 127.2 496 127 496 127.3 496.3 127.1 496.5 127.5 496.6 127.2 496.9 127.9 497 127.6 497.3 128.2 497.6 127.6 497.8 127.8 497.8 127.5 497.9 127.6 498.3 127.4 498.5 127.6 498.7 127.3 498.7 127.8 499 127.8 499.4 128.2 499.5 127.9 499.6 128.3 499.8 127.9 499.9 128.2 500 128 500.1 128.2 500.6 127.3 501 127.6 501.1 127.1 501.2 127.3 501.5 127 501.5 127.3 501.9 126.8 502 127.1 502.1 126.7 502.5 127.5 502.7 127.3 503.2 127.8 503.3 127.6 503.4 128 503.9 127.4 504.1 127.8 504.4 127.3 504.5 127.6 504.8 127.2 505.1 127.2 505.2 127.5 505.3 127.1 505.5 127 505.6 127.2 506 126.7 506.6 126.8 506.8 126.5 508.9 117.4 509.4 118.9 509.9 122.6 510.6 125.2 510.8 125.1 511.2 126 511.3 125.9 511.3 126.1 511.4 125.9 511.5 126.3 511.6 126.1 511.7 126.4 511.8 126.3 511.9 126.7 512 126.4 512.1 126.8 512.4 126.7 512.5 127 512.7 126.7 513.1 127 513.6 126.3 514.2 124 514.3 124.3 514.6 122.6 515 121.9 515.1 122.1 515.2 121.7 515.5 122.5 515.6 122.2 516.6 126 516.7 125.8 516.8 126.1 516.9 126 517 126.6 517.6 127.2 517.7 127.1 517.8 127.1 518 127.5 518.1 127.3 518.3 127.5 518.5 127.4 518.7 128 518.8 127.9 519 128.2 519.3 127.7 519.5 128 519.7 127.6 520.1 127.6 520.3 127.3 520.4 127.6 520.5 127.3 520.6 127.6 520.6 127.1 521.6 128.4 521.7 128.3 521.9 128.4 522 127.9 522.1 128 522.3 127.8 522.4 128 522.6 127.4 523.4 128.3 523.8 128.2 523.8 128 523.9 128.3 524.2 128.2 524.3 127.8 524.4 128 524.7 127.4 524.9 127.8 525.5 127.9" fill="none" stroke="#9a46c0" stroke-width="1.3" stroke-linejoin="round"/>
<rect x="402.2" y="196.5" width="1.5" height="28" fill="#1a1aa8"/>
<rect x="412.4" y="216.5" width="1.5" height="8" fill="#1a1aa8"/>
<rect x="443.6" y="205" width="1.5" height="19.5" fill="#1a1aa8"/>
<rect x="463.3" y="211" width="1.5" height="13.5" fill="#1a1aa8"/>
<rect x="469.6" y="221" width="1.5" height="3.5" fill="#1a1aa8"/>
<rect x="492.9" y="220.5" width="1.5" height="4" fill="#1a1aa8"/>
<rect x="509.3" y="218" width="1.5" height="6.5" fill="#1a1aa8"/>
<rect x="514.9" y="220.5" width="1.5" height="4" fill="#1a1aa8"/>
<line x1="398.6" y1="104" x2="398.6" y2="112.5" stroke="#e87070" stroke-width="0.8"/>
<path d="M396.90 111.00 L398.60 112.20 L400.30 111.00 L398.60 116.00 Z" fill="#e02a2a"/>
<circle cx="402.6" cy="18.3" r="1.15" fill="#111"/>
<circle cx="408.1" cy="106" r="1.15" fill="#111"/>
<circle cx="409.8" cy="111.1" r="1.15" fill="#111"/>
<circle cx="412.1" cy="101.4" r="1.15" fill="#111"/>
<circle cx="444.8" cy="74" r="1.15" fill="#111"/>
<circle cx="446" cy="80.8" r="1.15" fill="#111"/>
<circle cx="461.1" cy="106.3" r="1.15" fill="#111"/>
<circle cx="463.6" cy="88.1" r="1.15" fill="#111"/>
<circle cx="469.6" cy="114.5" r="1.15" fill="#111"/>
<circle cx="490" cy="121.6" r="1.15" fill="#111"/>
<circle cx="494.3" cy="117.9" r="1.15" fill="#111"/>
<circle cx="460.8" cy="106.2" r="1.15" fill="#111"/>
<polygon points="418.30,117.00 418.82,118.39 420.30,118.45 419.14,119.37 419.54,120.80 418.30,119.98 417.06,120.80 417.46,119.37 416.30,118.45 417.78,118.39" fill="#222"/>
<polygon points="453.70,116.30 454.22,117.69 455.70,117.75 454.54,118.67 454.94,120.10 453.70,119.28 452.46,120.10 452.86,118.67 451.70,117.75 453.18,117.69" fill="#222"/>
<polygon points="475.50,118.70 476.02,120.09 477.50,120.15 476.34,121.07 476.74,122.50 475.50,121.68 474.26,122.50 474.66,121.07 473.50,120.15 474.98,120.09" fill="#222"/>
<text x="524.6" y="112" font-size="7.6" text-anchor="end" font-weight="bold" fill="#111" stroke="#111" stroke-width="0.22">Mn-Zr-800</text>
<text x="524.6" y="135.5" font-size="7.6" text-anchor="end" font-weight="bold" fill="#111" stroke="#111" stroke-width="0.22">Mn-Zr-700</text>
<text x="524.6" y="150.8" font-size="7.6" text-anchor="end" font-weight="bold" fill="#111" stroke="#111" stroke-width="0.22">Mn-Zr-600</text>
<text x="524.6" y="166.8" font-size="7.6" text-anchor="end" font-weight="bold" fill="#111" stroke="#111" stroke-width="0.22">Mn-Zr-500</text>
<text x="524.6" y="182.8" font-size="7.6" text-anchor="end" font-weight="bold" fill="#111" stroke="#111" stroke-width="0.22">Mn-Zr-400</text>
<text x="524.6" y="199.3" font-size="7.6" text-anchor="end" font-weight="bold" fill="#111" stroke="#111" stroke-width="0.22">Mn-Zr-300</text>
<rect x="489.9" y="11.2" width="1.3" height="7.9" fill="#1a1aa8"/>
<text x="0" y="0" font-size="9.5" text-anchor="start" fill="#2a2ab0" stroke="#2a2ab0" stroke-width="0.16" transform="translate(494.2 18) scale(1 0.98)">c-ZrO<tspan font-size="6.8" dy="1.7">2</tspan></text>
<circle cx="489.8" cy="29.4" r="1.15" fill="#111"/>
<text x="0" y="0" font-size="9.5" text-anchor="start" fill="#111" stroke="#111" stroke-width="0.16" transform="translate(494.2 32.1) scale(1 0.98)">t-ZrO<tspan font-size="6.8" dy="1.7">2</tspan></text>
<polygon points="489.80,39.10 490.32,40.49 491.80,40.55 490.64,41.47 491.04,42.90 489.80,42.08 488.56,42.90 488.96,41.47 487.80,40.55 489.28,40.49" fill="#222"/>
<text x="0" y="0" font-size="9.5" text-anchor="start" fill="#111" stroke="#111" stroke-width="0.16" transform="translate(494.2 44.7) scale(1 0.98)">Mn<tspan font-size="6.8" dy="1.7">2</tspan><tspan dy="-1.7">O</tspan><tspan font-size="6.8" dy="1.7">3</tspan></text>
<line x1="489.8" y1="50" x2="489.8" y2="57" stroke="#e02a2a" stroke-width="0.8"/>
<path d="M488.10 55.50 L489.80 56.70 L491.50 55.50 L489.80 60.50 Z" fill="#e02a2a"/>
<text x="0" y="0" font-size="9.5" text-anchor="start" fill="#e02a2a" stroke="#e02a2a" stroke-width="0.16" transform="translate(494.2 57.1) scale(1 0.98)">m-ZrO<tspan font-size="6.8" dy="1.7">2</tspan></text>
<line x1="42.5" y1="268.3" x2="42.5" y2="379.2" stroke="#777" stroke-width="0.7" stroke-dasharray="1.2 1.2"/>
<line x1="67.2" y1="268.3" x2="67.2" y2="379.2" stroke="#777" stroke-width="0.7" stroke-dasharray="1.2 1.2"/>
<line x1="91.8" y1="268.3" x2="91.8" y2="379.2" stroke="#777" stroke-width="0.7" stroke-dasharray="1.2 1.2"/>
<line x1="116.5" y1="268.3" x2="116.5" y2="379.2" stroke="#777" stroke-width="0.7" stroke-dasharray="1.2 1.2"/>
<line x1="141.1" y1="268.3" x2="141.1" y2="379.2" stroke="#777" stroke-width="0.7" stroke-dasharray="1.2 1.2"/>
<rect x="30.2" y="268.3" width="123.10000000000001" height="110.89999999999998" fill="none" stroke="#474747" stroke-width="1.1"/>
<line x1="30.2" y1="323.6" x2="153.3" y2="323.6" stroke="#474747" stroke-width="1.1" />
<line x1="54.8" y1="379.2" x2="54.8" y2="377.2" stroke="#474747" stroke-width="0.9" />
<line x1="54.8" y1="268.3" x2="54.8" y2="270.3" stroke="#474747" stroke-width="0.9" />
<line x1="79.5" y1="379.2" x2="79.5" y2="377.2" stroke="#474747" stroke-width="0.9" />
<line x1="79.5" y1="268.3" x2="79.5" y2="270.3" stroke="#474747" stroke-width="0.9" />
<line x1="104.1" y1="379.2" x2="104.1" y2="377.2" stroke="#474747" stroke-width="0.9" />
<line x1="104.1" y1="268.3" x2="104.1" y2="270.3" stroke="#474747" stroke-width="0.9" />
<line x1="128.8" y1="379.2" x2="128.8" y2="377.2" stroke="#474747" stroke-width="0.9" />
<line x1="128.8" y1="268.3" x2="128.8" y2="270.3" stroke="#474747" stroke-width="0.9" />
<line x1="42.5" y1="379.2" x2="42.5" y2="376.2" stroke="#474747" stroke-width="0.9" />
<line x1="42.5" y1="268.3" x2="42.5" y2="271.3" stroke="#474747" stroke-width="0.9" />
<line x1="67.2" y1="379.2" x2="67.2" y2="376.2" stroke="#474747" stroke-width="0.9" />
<line x1="67.2" y1="268.3" x2="67.2" y2="271.3" stroke="#474747" stroke-width="0.9" />
<line x1="91.8" y1="379.2" x2="91.8" y2="376.2" stroke="#474747" stroke-width="0.9" />
<line x1="91.8" y1="268.3" x2="91.8" y2="271.3" stroke="#474747" stroke-width="0.9" />
<line x1="116.5" y1="379.2" x2="116.5" y2="376.2" stroke="#474747" stroke-width="0.9" />
<line x1="116.5" y1="268.3" x2="116.5" y2="271.3" stroke="#474747" stroke-width="0.9" />
<line x1="141.1" y1="379.2" x2="141.1" y2="376.2" stroke="#474747" stroke-width="0.9" />
<line x1="141.1" y1="268.3" x2="141.1" y2="271.3" stroke="#474747" stroke-width="0.9" />
<text x="0" y="0" font-size="7.6" text-anchor="middle" fill="#111" stroke="#111" stroke-width="0.16" transform="translate(42.5 388.8) scale(1 1.12)">400</text>
<text x="0" y="0" font-size="7.6" text-anchor="middle" fill="#111" stroke="#111" stroke-width="0.16" transform="translate(67.2 388.8) scale(1 1.12)">500</text>
<text x="0" y="0" font-size="7.6" text-anchor="middle" fill="#111" stroke="#111" stroke-width="0.16" transform="translate(91.8 388.8) scale(1 1.12)">600</text>
<text x="0" y="0" font-size="7.6" text-anchor="middle" fill="#111" stroke="#111" stroke-width="0.16" transform="translate(116.5 388.8) scale(1 1.12)">700</text>
<text x="0" y="0" font-size="7.6" text-anchor="middle" fill="#111" stroke="#111" stroke-width="0.16" transform="translate(141.1 388.8) scale(1 1.12)">800</text>
<line x1="153.3" y1="270.5" x2="150.3" y2="270.5" stroke="#474747" stroke-width="0.9" />
<text x="0" y="0" font-size="7.8" text-anchor="start" fill="#111" stroke="#111" stroke-width="0.16" transform="translate(157.3 273.2) scale(1 1.16)">250</text>
<line x1="153.3" y1="283" x2="150.3" y2="283" stroke="#474747" stroke-width="0.9" />
<text x="0" y="0" font-size="7.8" text-anchor="start" fill="#111" stroke="#111" stroke-width="0.16" transform="translate(157.3 285.7) scale(1 1.16)">200</text>
<line x1="153.3" y1="295.5" x2="150.3" y2="295.5" stroke="#474747" stroke-width="0.9" />
<text x="0" y="0" font-size="7.8" text-anchor="start" fill="#111" stroke="#111" stroke-width="0.16" transform="translate(157.3 298.2) scale(1 1.16)">150</text>
<line x1="153.3" y1="308" x2="150.3" y2="308" stroke="#474747" stroke-width="0.9" />
<text x="0" y="0" font-size="7.8" text-anchor="start" fill="#111" stroke="#111" stroke-width="0.16" transform="translate(157.3 310.7) scale(1 1.16)">100</text>
<line x1="153.3" y1="320.4" x2="150.3" y2="320.4" stroke="#474747" stroke-width="0.9" />
<text x="0" y="0" font-size="7.8" text-anchor="start" fill="#111" stroke="#111" stroke-width="0.16" transform="translate(157.3 323.1) scale(1 1.16)">50</text>
<line x1="153.3" y1="276.7" x2="151.5" y2="276.7" stroke="#474747" stroke-width="0.9" />
<line x1="153.3" y1="289.2" x2="151.5" y2="289.2" stroke="#474747" stroke-width="0.9" />
<line x1="153.3" y1="301.7" x2="151.5" y2="301.7" stroke="#474747" stroke-width="0.9" />
<line x1="153.3" y1="314.2" x2="151.5" y2="314.2" stroke="#474747" stroke-width="0.9" />
<line x1="30.2" y1="324" x2="33.2" y2="324" stroke="#474747" stroke-width="0.9" />
<text x="0" y="0" font-size="7.95" text-anchor="end" fill="#111" stroke="#111" stroke-width="0.16" transform="translate(28.7 326.9) scale(1 1.22)">5.42</text>
<line x1="30.2" y1="339.6" x2="33.2" y2="339.6" stroke="#474747" stroke-width="0.9" />
<text x="0" y="0" font-size="7.95" text-anchor="end" fill="#111" stroke="#111" stroke-width="0.16" transform="translate(28.7 342.5) scale(1 1.22)">5.40</text>
<line x1="30.2" y1="355.2" x2="33.2" y2="355.2" stroke="#474747" stroke-width="0.9" />
<text x="0" y="0" font-size="7.95" text-anchor="end" fill="#111" stroke="#111" stroke-width="0.16" transform="translate(28.7 358.1) scale(1 1.22)">5.38</text>
<line x1="30.2" y1="370.8" x2="33.2" y2="370.8" stroke="#474747" stroke-width="0.9" />
<text x="0" y="0" font-size="7.95" text-anchor="end" fill="#111" stroke="#111" stroke-width="0.16" transform="translate(28.7 373.7) scale(1 1.22)">5.36</text>
<line x1="30.2" y1="331.8" x2="32" y2="331.8" stroke="#474747" stroke-width="0.9" />
<line x1="30.2" y1="347.4" x2="32" y2="347.4" stroke="#474747" stroke-width="0.9" />
<line x1="30.2" y1="363" x2="32" y2="363" stroke="#474747" stroke-width="0.9" />
<line x1="30.2" y1="378" x2="32" y2="378" stroke="#474747" stroke-width="0.9" />
<polyline points="42.5,318.3 67.2,315.8 91.8,315.8 116.5,305.7 141.1,273.3" fill="none" stroke="#555" stroke-width="0.9"/>
<circle cx="42.5" cy="318.3" r="2.25" fill="#000"/>
<circle cx="67.2" cy="315.8" r="2.25" fill="#000"/>
<circle cx="91.8" cy="315.8" r="2.25" fill="#000"/>
<circle cx="116.5" cy="305.7" r="2.25" fill="#000"/>
<circle cx="141.1" cy="273.3" r="2.25" fill="#000"/>
<polyline points="42.5,368.8 67.2,365.7 91.8,357.9 116.5,342.4 141.1,332.4" fill="none" stroke="#555" stroke-width="0.9"/>
<rect x="40.65" y="366.95" width="3.7" height="3.7" fill="#000"/>
<rect x="65.30" y="363.85" width="3.7" height="3.7" fill="#000"/>
<rect x="89.95" y="356.05" width="3.7" height="3.7" fill="#000"/>
<rect x="114.60" y="340.55" width="3.7" height="3.7" fill="#000"/>
<rect x="139.25" y="330.55" width="3.7" height="3.7" fill="#000"/>
<line x1="225.1" y1="268.6" x2="225.1" y2="379.7" stroke="#777" stroke-width="0.7" stroke-dasharray="1.2 1.2"/>
<line x1="249.1" y1="268.6" x2="249.1" y2="379.7" stroke="#777" stroke-width="0.7" stroke-dasharray="1.2 1.2"/>
<line x1="273.1" y1="268.6" x2="273.1" y2="379.7" stroke="#777" stroke-width="0.7" stroke-dasharray="1.2 1.2"/>
<line x1="297.1" y1="268.6" x2="297.1" y2="379.7" stroke="#777" stroke-width="0.7" stroke-dasharray="1.2 1.2"/>
<line x1="321.1" y1="268.6" x2="321.1" y2="379.7" stroke="#777" stroke-width="0.7" stroke-dasharray="1.2 1.2"/>
<rect x="212.7" y="268.6" width="120.10000000000002" height="111.09999999999997" fill="none" stroke="#474747" stroke-width="1.1"/>
<line x1="212.7" y1="324" x2="332.8" y2="324" stroke="#474747" stroke-width="1.1" />
<line x1="237.1" y1="379.7" x2="237.1" y2="377.7" stroke="#474747" stroke-width="0.9" />
<line x1="237.1" y1="268.6" x2="237.1" y2="270.6" stroke="#474747" stroke-width="0.9" />
<line x1="261.1" y1="379.7" x2="261.1" y2="377.7" stroke="#474747" stroke-width="0.9" />
<line x1="261.1" y1="268.6" x2="261.1" y2="270.6" stroke="#474747" stroke-width="0.9" />
<line x1="285.1" y1="379.7" x2="285.1" y2="377.7" stroke="#474747" stroke-width="0.9" />
<line x1="285.1" y1="268.6" x2="285.1" y2="270.6" stroke="#474747" stroke-width="0.9" />
<line x1="309.1" y1="379.7" x2="309.1" y2="377.7" stroke="#474747" stroke-width="0.9" />
<line x1="309.1" y1="268.6" x2="309.1" y2="270.6" stroke="#474747" stroke-width="0.9" />
<line x1="225.1" y1="379.7" x2="225.1" y2="376.7" stroke="#474747" stroke-width="0.9" />
<line x1="225.1" y1="268.6" x2="225.1" y2="271.6" stroke="#474747" stroke-width="0.9" />
<line x1="249.1" y1="379.7" x2="249.1" y2="376.7" stroke="#474747" stroke-width="0.9" />
<line x1="249.1" y1="268.6" x2="249.1" y2="271.6" stroke="#474747" stroke-width="0.9" />
<line x1="273.1" y1="379.7" x2="273.1" y2="376.7" stroke="#474747" stroke-width="0.9" />
<line x1="273.1" y1="268.6" x2="273.1" y2="271.6" stroke="#474747" stroke-width="0.9" />
<line x1="297.1" y1="379.7" x2="297.1" y2="376.7" stroke="#474747" stroke-width="0.9" />
<line x1="297.1" y1="268.6" x2="297.1" y2="271.6" stroke="#474747" stroke-width="0.9" />
<line x1="321.1" y1="379.7" x2="321.1" y2="376.7" stroke="#474747" stroke-width="0.9" />
<line x1="321.1" y1="268.6" x2="321.1" y2="271.6" stroke="#474747" stroke-width="0.9" />
<text x="0" y="0" font-size="7.6" text-anchor="middle" fill="#111" stroke="#111" stroke-width="0.16" transform="translate(225.1 389.3) scale(1 1.12)">400</text>
<text x="0" y="0" font-size="7.6" text-anchor="middle" fill="#111" stroke="#111" stroke-width="0.16" transform="translate(249.1 389.3) scale(1 1.12)">500</text>
<text x="0" y="0" font-size="7.6" text-anchor="middle" fill="#111" stroke="#111" stroke-width="0.16" transform="translate(273.1 389.3) scale(1 1.12)">600</text>
<text x="0" y="0" font-size="7.6" text-anchor="middle" fill="#111" stroke="#111" stroke-width="0.16" transform="translate(297.1 389.3) scale(1 1.12)">700</text>
<text x="0" y="0" font-size="7.6" text-anchor="middle" fill="#111" stroke="#111" stroke-width="0.16" transform="translate(321.1 389.3) scale(1 1.12)">800</text>
<line x1="332.8" y1="268.2" x2="329.8" y2="268.2" stroke="#474747" stroke-width="0.9" />
<text x="0" y="0" font-size="7.8" text-anchor="start" fill="#111" stroke="#111" stroke-width="0.16" transform="translate(336.8 270.9) scale(1 1.16)">150</text>
<line x1="332.8" y1="290.6" x2="329.8" y2="290.6" stroke="#474747" stroke-width="0.9" />
<text x="0" y="0" font-size="7.8" text-anchor="start" fill="#111" stroke="#111" stroke-width="0.16" transform="translate(336.8 293.3) scale(1 1.16)">100</text>
<line x1="332.8" y1="312.8" x2="329.8" y2="312.8" stroke="#474747" stroke-width="0.9" />
<text x="0" y="0" font-size="7.8" text-anchor="start" fill="#111" stroke="#111" stroke-width="0.16" transform="translate(336.8 315.5) scale(1 1.16)">50</text>
<line x1="332.8" y1="279.4" x2="331" y2="279.4" stroke="#474747" stroke-width="0.9" />
<line x1="332.8" y1="301.7" x2="331" y2="301.7" stroke="#474747" stroke-width="0.9" />
<line x1="212.7" y1="329.5" x2="215.7" y2="329.5" stroke="#474747" stroke-width="0.9" />
<text x="0" y="0" font-size="7.95" text-anchor="end" fill="#111" stroke="#111" stroke-width="0.16" transform="translate(211.2 332.4) scale(1 1.22)">5.36</text>
<line x1="212.7" y1="340.2" x2="215.7" y2="340.2" stroke="#474747" stroke-width="0.9" />
<text x="0" y="0" font-size="7.95" text-anchor="end" fill="#111" stroke="#111" stroke-width="0.16" transform="translate(211.2 343.1) scale(1 1.22)">5.32</text>
<line x1="212.7" y1="350.9" x2="215.7" y2="350.9" stroke="#474747" stroke-width="0.9" />
<text x="0" y="0" font-size="7.95" text-anchor="end" fill="#111" stroke="#111" stroke-width="0.16" transform="translate(211.2 353.8) scale(1 1.22)">5.28</text>
<line x1="212.7" y1="361.6" x2="215.7" y2="361.6" stroke="#474747" stroke-width="0.9" />
<text x="0" y="0" font-size="7.95" text-anchor="end" fill="#111" stroke="#111" stroke-width="0.16" transform="translate(211.2 364.5) scale(1 1.22)">5.24</text>
<line x1="212.7" y1="372.3" x2="215.7" y2="372.3" stroke="#474747" stroke-width="0.9" />
<text x="0" y="0" font-size="7.95" text-anchor="end" fill="#111" stroke="#111" stroke-width="0.16" transform="translate(211.2 375.2) scale(1 1.22)">5.20</text>
<line x1="212.7" y1="334.9" x2="214.5" y2="334.9" stroke="#474747" stroke-width="0.9" />
<line x1="212.7" y1="345.6" x2="214.5" y2="345.6" stroke="#474747" stroke-width="0.9" />
<line x1="212.7" y1="356.2" x2="214.5" y2="356.2" stroke="#474747" stroke-width="0.9" />
<line x1="212.7" y1="366.9" x2="214.5" y2="366.9" stroke="#474747" stroke-width="0.9" />
<line x1="212.7" y1="377.6" x2="214.5" y2="377.6" stroke="#474747" stroke-width="0.9" />
<polyline points="225.1,312.8 249.1,312.8 273.1,312.8 297.1,308.1 321.1,277" fill="none" stroke="#555" stroke-width="0.9"/>
<circle cx="225.1" cy="312.8" r="2.25" fill="#000"/>
<circle cx="249.1" cy="312.8" r="2.25" fill="#000"/>
<circle cx="273.1" cy="312.8" r="2.25" fill="#000"/>
<circle cx="297.1" cy="308.1" r="2.25" fill="#000"/>
<circle cx="321.1" cy="277" r="2.25" fill="#000"/>
<polyline points="297.1,308.1 321.1,299.7" fill="none" stroke="#555" stroke-width="0.9"/>
<circle cx="297.1" cy="308.1" r="2.25" fill="#000"/>
<circle cx="321.1" cy="299.7" r="2.25" fill="#000"/>
<polyline points="225.1,335.7 249.1,336.4 273.1,341.5 297.1,333.7 321.1,326.9" fill="none" stroke="#555" stroke-width="0.9"/>
<rect x="223.25" y="333.85" width="3.7" height="3.7" fill="#000"/>
<rect x="247.25" y="334.55" width="3.7" height="3.7" fill="#000"/>
<rect x="271.25" y="339.65" width="3.7" height="3.7" fill="#000"/>
<rect x="295.25" y="331.85" width="3.7" height="3.7" fill="#000"/>
<rect x="319.25" y="325.05" width="3.7" height="3.7" fill="#000"/>
<polyline points="297.1,376.9 321.1,368.2" fill="none" stroke="#555" stroke-width="0.9"/>
<rect x="295.25" y="375.05" width="3.7" height="3.7" fill="#000"/>
<rect x="319.25" y="366.35" width="3.7" height="3.7" fill="#000"/>
<line x1="412" y1="268" x2="412" y2="379" stroke="#777" stroke-width="0.7" stroke-dasharray="1.2 1.2"/>
<line x1="434.4" y1="268" x2="434.4" y2="379" stroke="#777" stroke-width="0.7" stroke-dasharray="1.2 1.2"/>
<line x1="456.9" y1="268" x2="456.9" y2="379" stroke="#777" stroke-width="0.7" stroke-dasharray="1.2 1.2"/>
<line x1="479.3" y1="268" x2="479.3" y2="379" stroke="#777" stroke-width="0.7" stroke-dasharray="1.2 1.2"/>
<line x1="501.7" y1="268" x2="501.7" y2="379" stroke="#777" stroke-width="0.7" stroke-dasharray="1.2 1.2"/>
<rect x="394.4" y="268" width="124.39999999999998" height="111" fill="none" stroke="#474747" stroke-width="1.1"/>
<line x1="394.4" y1="323.4" x2="518.8" y2="323.4" stroke="#474747" stroke-width="1.1" />
<line x1="395.2" y1="379" x2="395.2" y2="377" stroke="#474747" stroke-width="0.9" />
<line x1="395.2" y1="268" x2="395.2" y2="270" stroke="#474747" stroke-width="0.9" />
<line x1="400.8" y1="379" x2="400.8" y2="377" stroke="#474747" stroke-width="0.9" />
<line x1="400.8" y1="268" x2="400.8" y2="270" stroke="#474747" stroke-width="0.9" />
<line x1="406.4" y1="379" x2="406.4" y2="377" stroke="#474747" stroke-width="0.9" />
<line x1="406.4" y1="268" x2="406.4" y2="270" stroke="#474747" stroke-width="0.9" />
<line x1="417.6" y1="379" x2="417.6" y2="377" stroke="#474747" stroke-width="0.9" />
<line x1="417.6" y1="268" x2="417.6" y2="270" stroke="#474747" stroke-width="0.9" />
<line x1="423.2" y1="379" x2="423.2" y2="377" stroke="#474747" stroke-width="0.9" />
<line x1="423.2" y1="268" x2="423.2" y2="270" stroke="#474747" stroke-width="0.9" />
<line x1="428.8" y1="379" x2="428.8" y2="377" stroke="#474747" stroke-width="0.9" />
<line x1="428.8" y1="268" x2="428.8" y2="270" stroke="#474747" stroke-width="0.9" />
<line x1="440" y1="379" x2="440" y2="377" stroke="#474747" stroke-width="0.9" />
<line x1="440" y1="268" x2="440" y2="270" stroke="#474747" stroke-width="0.9" />
<line x1="445.6" y1="379" x2="445.6" y2="377" stroke="#474747" stroke-width="0.9" />
<line x1="445.6" y1="268" x2="445.6" y2="270" stroke="#474747" stroke-width="0.9" />
<line x1="451.2" y1="379" x2="451.2" y2="377" stroke="#474747" stroke-width="0.9" />
<line x1="451.2" y1="268" x2="451.2" y2="270" stroke="#474747" stroke-width="0.9" />
<line x1="462.5" y1="379" x2="462.5" y2="377" stroke="#474747" stroke-width="0.9" />
<line x1="462.5" y1="268" x2="462.5" y2="270" stroke="#474747" stroke-width="0.9" />
<line x1="468.1" y1="379" x2="468.1" y2="377" stroke="#474747" stroke-width="0.9" />
<line x1="468.1" y1="268" x2="468.1" y2="270" stroke="#474747" stroke-width="0.9" />
<line x1="473.7" y1="379" x2="473.7" y2="377" stroke="#474747" stroke-width="0.9" />
<line x1="473.7" y1="268" x2="473.7" y2="270" stroke="#474747" stroke-width="0.9" />
<line x1="484.9" y1="379" x2="484.9" y2="377" stroke="#474747" stroke-width="0.9" />
<line x1="484.9" y1="268" x2="484.9" y2="270" stroke="#474747" stroke-width="0.9" />
<line x1="490.5" y1="379" x2="490.5" y2="377" stroke="#474747" stroke-width="0.9" />
<line x1="490.5" y1="268" x2="490.5" y2="270" stroke="#474747" stroke-width="0.9" />
<line x1="496.1" y1="379" x2="496.1" y2="377" stroke="#474747" stroke-width="0.9" />
<line x1="496.1" y1="268" x2="496.1" y2="270" stroke="#474747" stroke-width="0.9" />
<line x1="507.3" y1="379" x2="507.3" y2="377" stroke="#474747" stroke-width="0.9" />
<line x1="507.3" y1="268" x2="507.3" y2="270" stroke="#474747" stroke-width="0.9" />
<line x1="512.9" y1="379" x2="512.9" y2="377" stroke="#474747" stroke-width="0.9" />
<line x1="512.9" y1="268" x2="512.9" y2="270" stroke="#474747" stroke-width="0.9" />
<line x1="518.5" y1="379" x2="518.5" y2="377" stroke="#474747" stroke-width="0.9" />
<line x1="518.5" y1="268" x2="518.5" y2="270" stroke="#474747" stroke-width="0.9" />
<line x1="412" y1="379" x2="412" y2="376" stroke="#474747" stroke-width="0.9" />
<line x1="412" y1="268" x2="412" y2="271" stroke="#474747" stroke-width="0.9" />
<line x1="434.4" y1="379" x2="434.4" y2="376" stroke="#474747" stroke-width="0.9" />
<line x1="434.4" y1="268" x2="434.4" y2="271" stroke="#474747" stroke-width="0.9" />
<line x1="456.9" y1="379" x2="456.9" y2="376" stroke="#474747" stroke-width="0.9" />
<line x1="456.9" y1="268" x2="456.9" y2="271" stroke="#474747" stroke-width="0.9" />
<line x1="479.3" y1="379" x2="479.3" y2="376" stroke="#474747" stroke-width="0.9" />
<line x1="479.3" y1="268" x2="479.3" y2="271" stroke="#474747" stroke-width="0.9" />
<line x1="501.7" y1="379" x2="501.7" y2="376" stroke="#474747" stroke-width="0.9" />
<line x1="501.7" y1="268" x2="501.7" y2="271" stroke="#474747" stroke-width="0.9" />
<text x="0" y="0" font-size="7.0" text-anchor="middle" fill="#111" stroke="#111" stroke-width="0.16" transform="translate(412 388.6) scale(1 1.12)">600</text>
<text x="0" y="0" font-size="7.0" text-anchor="middle" fill="#111" stroke="#111" stroke-width="0.16" transform="translate(434.4 388.6) scale(1 1.12)">650</text>
<text x="0" y="0" font-size="7.0" text-anchor="middle" fill="#111" stroke="#111" stroke-width="0.16" transform="translate(456.9 388.6) scale(1 1.12)">700</text>
<text x="0" y="0" font-size="7.0" text-anchor="middle" fill="#111" stroke="#111" stroke-width="0.16" transform="translate(479.3 388.6) scale(1 1.12)">750</text>
<text x="0" y="0" font-size="7.0" text-anchor="middle" fill="#111" stroke="#111" stroke-width="0.16" transform="translate(501.7 388.6) scale(1 1.12)">800</text>
<line x1="518.8" y1="281.3" x2="515.8" y2="281.3" stroke="#474747" stroke-width="0.9" />
<text x="0" y="0" font-size="7.8" text-anchor="start" fill="#111" stroke="#111" stroke-width="0.16" transform="translate(522.8 284) scale(1 1.16)">150</text>
<line x1="518.8" y1="309.1" x2="515.8" y2="309.1" stroke="#474747" stroke-width="0.9" />
<text x="0" y="0" font-size="7.8" text-anchor="start" fill="#111" stroke="#111" stroke-width="0.16" transform="translate(522.8 311.8) scale(1 1.16)">100</text>
<line x1="518.8" y1="295.2" x2="517" y2="295.2" stroke="#474747" stroke-width="0.9" />
<line x1="518.8" y1="322.9" x2="517" y2="322.9" stroke="#474747" stroke-width="0.9" />
<line x1="394.4" y1="331" x2="397.4" y2="331" stroke="#474747" stroke-width="0.9" />
<text x="0" y="0" font-size="7.95" text-anchor="end" fill="#111" stroke="#111" stroke-width="0.16" transform="translate(392.9 333.9) scale(1 1.22)">5.12</text>
<line x1="394.4" y1="344.9" x2="397.4" y2="344.9" stroke="#474747" stroke-width="0.9" />
<text x="0" y="0" font-size="7.95" text-anchor="end" fill="#111" stroke="#111" stroke-width="0.16" transform="translate(392.9 347.8) scale(1 1.22)">5.10</text>
<line x1="394.4" y1="358.8" x2="397.4" y2="358.8" stroke="#474747" stroke-width="0.9" />
<text x="0" y="0" font-size="7.95" text-anchor="end" fill="#111" stroke="#111" stroke-width="0.16" transform="translate(392.9 361.7) scale(1 1.22)">5.08</text>
<line x1="394.4" y1="372.7" x2="397.4" y2="372.7" stroke="#474747" stroke-width="0.9" />
<text x="0" y="0" font-size="7.95" text-anchor="end" fill="#111" stroke="#111" stroke-width="0.16" transform="translate(392.9 375.6) scale(1 1.22)">5.06</text>
<line x1="394.4" y1="337.9" x2="396.2" y2="337.9" stroke="#474747" stroke-width="0.9" />
<line x1="394.4" y1="351.9" x2="396.2" y2="351.9" stroke="#474747" stroke-width="0.9" />
<line x1="394.4" y1="365.8" x2="396.2" y2="365.8" stroke="#474747" stroke-width="0.9" />
<polyline points="412,303.6 434.4,314.9 456.9,314.9 501.7,273.5" fill="none" stroke="#555" stroke-width="0.9"/>
<circle cx="412" cy="303.6" r="2.25" fill="#000"/>
<circle cx="434.4" cy="314.9" r="2.25" fill="#000"/>
<circle cx="456.9" cy="314.9" r="2.25" fill="#000"/>
<circle cx="501.7" cy="273.5" r="2.25" fill="#000"/>
<polyline points="412,373.1 434.4,368.7 456.9,371.8 501.7,332.6" fill="none" stroke="#555" stroke-width="0.9"/>
<rect x="410.15" y="371.25" width="3.7" height="3.7" fill="#000"/>
<rect x="432.57" y="366.85" width="3.7" height="3.7" fill="#000"/>
<rect x="455.00" y="369.95" width="3.7" height="3.7" fill="#000"/>
<rect x="499.85" y="330.75" width="3.7" height="3.7" fill="#000"/>
<text x="0" y="0" font-size="9.8" text-anchor="middle" fill="#111" stroke="#111" stroke-width="0.16" transform="translate(95.7 404.5) scale(1 1.12)">Temperature, <tspan font-size="5.2" dy="-3.4">o</tspan><tspan dy="3.4">C</tspan></text>
<text x="0" y="0" font-size="9.8" text-anchor="middle" fill="#111" stroke="#111" stroke-width="0.16" transform="translate(276.5 404.5) scale(1 1.12)">Temperature, <tspan font-size="5.2" dy="-3.4">o</tspan><tspan dy="3.4">C</tspan></text>
<text x="0" y="0" font-size="9.8" text-anchor="middle" fill="#111" stroke="#111" stroke-width="0.16" transform="translate(459.5 404.5) scale(1 1.12)">Temperature, <tspan font-size="5.2" dy="-3.4">o</tspan><tspan dy="3.4">C</tspan></text>
<text x="10.6" y="348.6" font-size="9.8" text-anchor="middle" fill="#111" stroke="#111" stroke-width="0.16" transform="rotate(-90 10.6 348.6)">Parameter, A</text>
<text x="180.4" y="295" font-size="9.6" text-anchor="middle" fill="#111" stroke="#111" stroke-width="0.16" transform="rotate(-90 180.4 295)">Crystalline size, A</text>
<text x="192.4" y="348" font-size="10.1" text-anchor="middle" fill="#111" stroke="#111" stroke-width="0.16" transform="rotate(-90 192.4 348)">Parameter, A</text>
<text x="355.6" y="292" font-size="9.6" text-anchor="middle" fill="#111" stroke="#111" stroke-width="0.16" transform="rotate(-90 355.6 292)">Crystalline size, A</text>
<text x="372.8" y="350.8" font-size="9.9" text-anchor="middle" fill="#111" stroke="#111" stroke-width="0.16" transform="rotate(-90 372.8 350.8)">Parameter, A</text>
<text x="544.4" y="293" font-size="9.6" text-anchor="middle" fill="#111" stroke="#111" stroke-width="0.16" transform="rotate(-90 544.4 293)">Crystalline size, A</text>
<text x="14.4" y="116" font-size="11.6" text-anchor="middle" fill="#111" stroke="#111" stroke-width="0.16" transform="rotate(-90 14.4 116)">Intensity, a.u.</text>
<text x="193.4" y="115.5" font-size="11.6" text-anchor="middle" fill="#111" stroke="#111" stroke-width="0.16" transform="rotate(-90 193.4 115.5)">Intensity, a.u.</text>
<text x="374.2" y="115.5" font-size="11.6" text-anchor="middle" fill="#111" stroke="#111" stroke-width="0.16" transform="rotate(-90 374.2 115.5)">Intensity, a.u.</text>
<text x="95" y="250.8" font-size="11.3" text-anchor="middle" font-weight="normal" fill="#111"  stroke="#111" stroke-width="0.16">2<tspan font-family="Liberation Serif">&#952;</tspan>, &#176;</text>
<text x="275" y="250.8" font-size="11.3" text-anchor="middle" font-weight="normal" fill="#111"  stroke="#111" stroke-width="0.16">2<tspan font-family="Liberation Serif">&#952;</tspan>, &#176;</text>
<text x="454.5" y="250.8" font-size="11.3" text-anchor="middle" font-weight="normal" fill="#111"  stroke="#111" stroke-width="0.16">2<tspan font-family="Liberation Serif">&#952;</tspan>, &#176;</text>
</svg>
</body></html>
